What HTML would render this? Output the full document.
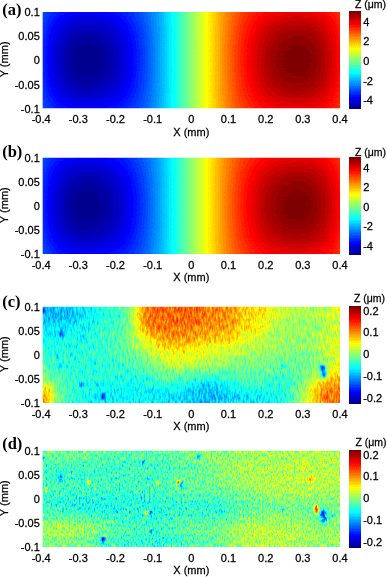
<!DOCTYPE html><html><head><meta charset="utf-8"><title>figure</title><style>html,body{margin:0;padding:0;background:#fff;width:387px;height:577px;overflow:hidden}svg{position:absolute;left:0;top:0;display:block;filter:blur(0.35px)}text{font-family:"Liberation Sans",Arial,sans-serif;fill:#000;stroke:#000;stroke-width:0.25px}.lab{font-family:"Liberation Serif","Times New Roman",serif;font-weight:bold;stroke:none}</style></head><body>
<svg width="387" height="577" viewBox="0 0 387 577">
<defs><filter id="jet" x="0" y="0" width="1" height="1" color-interpolation-filters="sRGB"><feComponentTransfer><feFuncR type="discrete" tableValues="0 0 0 0 0 0 0 0 0 0 0 0 0 0 0 0 0 0 0 0 0 0 0 0 0.0625 0.125 0.188 0.25 0.312 0.375 0.438 0.5 0.562 0.625 0.688 0.75 0.812 0.875 0.938 1 1 1 1 1 1 1 1 1 1 1 1 1 1 1 1 1 0.938 0.875 0.812 0.75 0.688 0.625 0.562 0.5"/><feFuncG type="discrete" tableValues="0 0 0 0 0 0 0 0 0.0625 0.125 0.188 0.25 0.312 0.375 0.438 0.5 0.562 0.625 0.688 0.75 0.812 0.875 0.938 1 1 1 1 1 1 1 1 1 1 1 1 1 1 1 1 1 0.938 0.875 0.812 0.75 0.688 0.625 0.562 0.5 0.438 0.375 0.312 0.25 0.188 0.125 0.0625 0 0 0 0 0 0 0 0 0"/><feFuncB type="discrete" tableValues="0.562 0.625 0.688 0.75 0.812 0.875 0.938 1 1 1 1 1 1 1 1 1 1 1 1 1 1 1 1 1 0.938 0.875 0.812 0.75 0.688 0.625 0.562 0.5 0.438 0.375 0.312 0.25 0.188 0.125 0.0625 0 0 0 0 0 0 0 0 0 0 0 0 0 0 0 0 0 0 0 0 0 0 0 0 0"/><feFuncA type="linear" slope="0" intercept="1"/></feComponentTransfer></filter><filter id="vb" color-interpolation-filters="sRGB"><feGaussianBlur stdDeviation="0.6 1.2"/></filter><filter id="sb" x="-50%" y="-50%" width="200%" height="200%" color-interpolation-filters="sRGB"><feGaussianBlur stdDeviation="0.9"/></filter><filter id="bb" x="-50%" y="-50%" width="200%" height="200%" color-interpolation-filters="sRGB"><feGaussianBlur stdDeviation="2.2"/></filter><filter id="bb4" x="-50%" y="-50%" width="200%" height="200%" color-interpolation-filters="sRGB"><feGaussianBlur stdDeviation="3.5 5"/></filter><filter id="nc" color-interpolation-filters="sRGB"><feTurbulence type="fractalNoise" baseFrequency="0.5 0.16" numOctaves="2" seed="7" result="tn"/><feColorMatrix in="tn" values="1 0 0 0 0 1 0 0 0 0 1 0 0 0 0 0 0 0 0 1" result="nz"/><feComposite in="SourceGraphic" in2="nz" operator="arithmetic" k1="0" k2="1" k3="0.260" k4="-0.130"/><feComponentTransfer><feFuncR type="discrete" tableValues="0 0 0 0 0 0 0 0 0 0 0 0 0 0 0 0 0 0 0 0 0 0 0 0 0.0625 0.125 0.188 0.25 0.312 0.375 0.438 0.5 0.562 0.625 0.688 0.75 0.812 0.875 0.938 1 1 1 1 1 1 1 1 1 1 1 1 1 1 1 1 1 0.938 0.875 0.812 0.75 0.688 0.625 0.562 0.5"/><feFuncG type="discrete" tableValues="0 0 0 0 0 0 0 0 0.0625 0.125 0.188 0.25 0.312 0.375 0.438 0.5 0.562 0.625 0.688 0.75 0.812 0.875 0.938 1 1 1 1 1 1 1 1 1 1 1 1 1 1 1 1 1 0.938 0.875 0.812 0.75 0.688 0.625 0.562 0.5 0.438 0.375 0.312 0.25 0.188 0.125 0.0625 0 0 0 0 0 0 0 0 0"/><feFuncB type="discrete" tableValues="0.562 0.625 0.688 0.75 0.812 0.875 0.938 1 1 1 1 1 1 1 1 1 1 1 1 1 1 1 1 1 0.938 0.875 0.812 0.75 0.688 0.625 0.562 0.5 0.438 0.375 0.312 0.25 0.188 0.125 0.0625 0 0 0 0 0 0 0 0 0 0 0 0 0 0 0 0 0 0 0 0 0 0 0 0 0"/><feFuncA type="linear" slope="0" intercept="1"/></feComponentTransfer></filter><filter id="nd" color-interpolation-filters="sRGB"><feTurbulence type="fractalNoise" baseFrequency="0.6 0.3" numOctaves="2" seed="11" result="tn"/><feColorMatrix in="tn" values="1 0 0 0 0 1 0 0 0 0 1 0 0 0 0 0 0 0 0 1" result="nz"/><feComposite in="SourceGraphic" in2="nz" operator="arithmetic" k1="0" k2="1" k3="0.400" k4="-0.200"/><feComponentTransfer><feFuncR type="discrete" tableValues="0 0 0 0 0 0 0 0 0 0 0 0 0 0 0 0 0 0 0 0 0 0 0 0 0.0625 0.125 0.188 0.25 0.312 0.375 0.438 0.5 0.562 0.625 0.688 0.75 0.812 0.875 0.938 1 1 1 1 1 1 1 1 1 1 1 1 1 1 1 1 1 0.938 0.875 0.812 0.75 0.688 0.625 0.562 0.5"/><feFuncG type="discrete" tableValues="0 0 0 0 0 0 0 0 0.0625 0.125 0.188 0.25 0.312 0.375 0.438 0.5 0.562 0.625 0.688 0.75 0.812 0.875 0.938 1 1 1 1 1 1 1 1 1 1 1 1 1 1 1 1 1 0.938 0.875 0.812 0.75 0.688 0.625 0.562 0.5 0.438 0.375 0.312 0.25 0.188 0.125 0.0625 0 0 0 0 0 0 0 0 0"/><feFuncB type="discrete" tableValues="0.562 0.625 0.688 0.75 0.812 0.875 0.938 1 1 1 1 1 1 1 1 1 1 1 1 1 1 1 1 1 0.938 0.875 0.812 0.75 0.688 0.625 0.562 0.5 0.438 0.375 0.312 0.25 0.188 0.125 0.0625 0 0 0 0 0 0 0 0 0 0 0 0 0 0 0 0 0 0 0 0 0 0 0 0 0"/><feFuncA type="linear" slope="0" intercept="1"/></feComponentTransfer></filter><linearGradient id="cbar" x1="0" y1="0" x2="0" y2="1"><stop offset="0" stop-color="#fff"/><stop offset="1" stop-color="#000"/></linearGradient><linearGradient id="a0"><stop offset="0.000" stop-color="#373737"/><stop offset="0.032" stop-color="#2e2e2e"/><stop offset="0.065" stop-color="#282828"/><stop offset="0.097" stop-color="#252525"/><stop offset="0.129" stop-color="#242424"/><stop offset="0.161" stop-color="#242424"/><stop offset="0.194" stop-color="#242424"/><stop offset="0.226" stop-color="#252525"/><stop offset="0.258" stop-color="#272727"/><stop offset="0.290" stop-color="#2b2b2b"/><stop offset="0.323" stop-color="#313131"/><stop offset="0.355" stop-color="#3a3a3a"/><stop offset="0.387" stop-color="#464646"/><stop offset="0.419" stop-color="#545454"/><stop offset="0.452" stop-color="#656565"/><stop offset="0.484" stop-color="#787878"/><stop offset="0.516" stop-color="#8a8a8a"/><stop offset="0.548" stop-color="#9c9c9c"/><stop offset="0.581" stop-color="#acacac"/><stop offset="0.613" stop-color="#bababa"/><stop offset="0.645" stop-color="#c5c5c5"/><stop offset="0.677" stop-color="#cecece"/><stop offset="0.710" stop-color="#d4d4d4"/><stop offset="0.742" stop-color="#d8d8d8"/><stop offset="0.774" stop-color="#dadada"/><stop offset="0.806" stop-color="#dbdbdb"/><stop offset="0.839" stop-color="#dbdbdb"/><stop offset="0.871" stop-color="#dbdbdb"/><stop offset="0.903" stop-color="#dadada"/><stop offset="0.935" stop-color="#d8d8d8"/><stop offset="0.968" stop-color="#d3d3d3"/><stop offset="1.000" stop-color="#cbcbcb"/></linearGradient><linearGradient id="a1"><stop offset="0.000" stop-color="#363636"/><stop offset="0.032" stop-color="#2c2c2c"/><stop offset="0.065" stop-color="#262626"/><stop offset="0.097" stop-color="#222222"/><stop offset="0.129" stop-color="#212121"/><stop offset="0.161" stop-color="#202020"/><stop offset="0.194" stop-color="#212121"/><stop offset="0.226" stop-color="#222222"/><stop offset="0.258" stop-color="#252525"/><stop offset="0.290" stop-color="#292929"/><stop offset="0.323" stop-color="#303030"/><stop offset="0.355" stop-color="#393939"/><stop offset="0.387" stop-color="#454545"/><stop offset="0.419" stop-color="#545454"/><stop offset="0.452" stop-color="#656565"/><stop offset="0.484" stop-color="#787878"/><stop offset="0.516" stop-color="#8a8a8a"/><stop offset="0.548" stop-color="#9c9c9c"/><stop offset="0.581" stop-color="#acacac"/><stop offset="0.613" stop-color="#bababa"/><stop offset="0.645" stop-color="#c6c6c6"/><stop offset="0.677" stop-color="#cfcfcf"/><stop offset="0.710" stop-color="#d5d5d5"/><stop offset="0.742" stop-color="#dadada"/><stop offset="0.774" stop-color="#dddddd"/><stop offset="0.806" stop-color="#dedede"/><stop offset="0.839" stop-color="#dfdfdf"/><stop offset="0.871" stop-color="#dfdfdf"/><stop offset="0.903" stop-color="#dddddd"/><stop offset="0.935" stop-color="#dadada"/><stop offset="0.968" stop-color="#d5d5d5"/><stop offset="1.000" stop-color="#cccccc"/></linearGradient><linearGradient id="a2"><stop offset="0.000" stop-color="#353535"/><stop offset="0.032" stop-color="#2b2b2b"/><stop offset="0.065" stop-color="#242424"/><stop offset="0.097" stop-color="#202020"/><stop offset="0.129" stop-color="#1e1e1e"/><stop offset="0.161" stop-color="#1d1d1d"/><stop offset="0.194" stop-color="#1e1e1e"/><stop offset="0.226" stop-color="#1f1f1f"/><stop offset="0.258" stop-color="#232323"/><stop offset="0.290" stop-color="#272727"/><stop offset="0.323" stop-color="#2f2f2f"/><stop offset="0.355" stop-color="#393939"/><stop offset="0.387" stop-color="#454545"/><stop offset="0.419" stop-color="#545454"/><stop offset="0.452" stop-color="#656565"/><stop offset="0.484" stop-color="#787878"/><stop offset="0.516" stop-color="#8a8a8a"/><stop offset="0.548" stop-color="#9c9c9c"/><stop offset="0.581" stop-color="#acacac"/><stop offset="0.613" stop-color="#bababa"/><stop offset="0.645" stop-color="#c6c6c6"/><stop offset="0.677" stop-color="#d0d0d0"/><stop offset="0.710" stop-color="#d7d7d7"/><stop offset="0.742" stop-color="#dcdcdc"/><stop offset="0.774" stop-color="#dfdfdf"/><stop offset="0.806" stop-color="#e1e1e1"/><stop offset="0.839" stop-color="#e2e2e2"/><stop offset="0.871" stop-color="#e2e2e2"/><stop offset="0.903" stop-color="#e0e0e0"/><stop offset="0.935" stop-color="#dddddd"/><stop offset="0.968" stop-color="#d6d6d6"/><stop offset="1.000" stop-color="#cccccc"/></linearGradient><linearGradient id="a3"><stop offset="0.000" stop-color="#353535"/><stop offset="0.032" stop-color="#292929"/><stop offset="0.065" stop-color="#222222"/><stop offset="0.097" stop-color="#1d1d1d"/><stop offset="0.129" stop-color="#1b1b1b"/><stop offset="0.161" stop-color="#1a1a1a"/><stop offset="0.194" stop-color="#1b1b1b"/><stop offset="0.226" stop-color="#1d1d1d"/><stop offset="0.258" stop-color="#202020"/><stop offset="0.290" stop-color="#262626"/><stop offset="0.323" stop-color="#2e2e2e"/><stop offset="0.355" stop-color="#383838"/><stop offset="0.387" stop-color="#454545"/><stop offset="0.419" stop-color="#545454"/><stop offset="0.452" stop-color="#656565"/><stop offset="0.484" stop-color="#787878"/><stop offset="0.516" stop-color="#8a8a8a"/><stop offset="0.548" stop-color="#9c9c9c"/><stop offset="0.581" stop-color="#acacac"/><stop offset="0.613" stop-color="#bbbbbb"/><stop offset="0.645" stop-color="#c7c7c7"/><stop offset="0.677" stop-color="#d1d1d1"/><stop offset="0.710" stop-color="#d9d9d9"/><stop offset="0.742" stop-color="#dedede"/><stop offset="0.774" stop-color="#e2e2e2"/><stop offset="0.806" stop-color="#e4e4e4"/><stop offset="0.839" stop-color="#e5e5e5"/><stop offset="0.871" stop-color="#e5e5e5"/><stop offset="0.903" stop-color="#e3e3e3"/><stop offset="0.935" stop-color="#dfdfdf"/><stop offset="0.968" stop-color="#d8d8d8"/><stop offset="1.000" stop-color="#cdcdcd"/></linearGradient><linearGradient id="a4"><stop offset="0.000" stop-color="#343434"/><stop offset="0.032" stop-color="#282828"/><stop offset="0.065" stop-color="#202020"/><stop offset="0.097" stop-color="#1b1b1b"/><stop offset="0.129" stop-color="#181818"/><stop offset="0.161" stop-color="#171717"/><stop offset="0.194" stop-color="#181818"/><stop offset="0.226" stop-color="#1b1b1b"/><stop offset="0.258" stop-color="#1e1e1e"/><stop offset="0.290" stop-color="#242424"/><stop offset="0.323" stop-color="#2d2d2d"/><stop offset="0.355" stop-color="#373737"/><stop offset="0.387" stop-color="#444444"/><stop offset="0.419" stop-color="#545454"/><stop offset="0.452" stop-color="#656565"/><stop offset="0.484" stop-color="#787878"/><stop offset="0.516" stop-color="#8a8a8a"/><stop offset="0.548" stop-color="#9c9c9c"/><stop offset="0.581" stop-color="#acacac"/><stop offset="0.613" stop-color="#bbbbbb"/><stop offset="0.645" stop-color="#c8c8c8"/><stop offset="0.677" stop-color="#d2d2d2"/><stop offset="0.710" stop-color="#dadada"/><stop offset="0.742" stop-color="#e0e0e0"/><stop offset="0.774" stop-color="#e4e4e4"/><stop offset="0.806" stop-color="#e6e6e6"/><stop offset="0.839" stop-color="#e8e8e8"/><stop offset="0.871" stop-color="#e7e7e7"/><stop offset="0.903" stop-color="#e5e5e5"/><stop offset="0.935" stop-color="#e1e1e1"/><stop offset="0.968" stop-color="#d9d9d9"/><stop offset="1.000" stop-color="#cecece"/></linearGradient><linearGradient id="a5"><stop offset="0.000" stop-color="#333333"/><stop offset="0.032" stop-color="#272727"/><stop offset="0.065" stop-color="#1e1e1e"/><stop offset="0.097" stop-color="#181818"/><stop offset="0.129" stop-color="#151515"/><stop offset="0.161" stop-color="#151515"/><stop offset="0.194" stop-color="#161616"/><stop offset="0.226" stop-color="#181818"/><stop offset="0.258" stop-color="#1d1d1d"/><stop offset="0.290" stop-color="#232323"/><stop offset="0.323" stop-color="#2c2c2c"/><stop offset="0.355" stop-color="#373737"/><stop offset="0.387" stop-color="#444444"/><stop offset="0.419" stop-color="#545454"/><stop offset="0.452" stop-color="#656565"/><stop offset="0.484" stop-color="#787878"/><stop offset="0.516" stop-color="#8a8a8a"/><stop offset="0.548" stop-color="#9c9c9c"/><stop offset="0.581" stop-color="#acacac"/><stop offset="0.613" stop-color="#bbbbbb"/><stop offset="0.645" stop-color="#c8c8c8"/><stop offset="0.677" stop-color="#d3d3d3"/><stop offset="0.710" stop-color="#dbdbdb"/><stop offset="0.742" stop-color="#e2e2e2"/><stop offset="0.774" stop-color="#e6e6e6"/><stop offset="0.806" stop-color="#e9e9e9"/><stop offset="0.839" stop-color="#eaeaea"/><stop offset="0.871" stop-color="#eaeaea"/><stop offset="0.903" stop-color="#e8e8e8"/><stop offset="0.935" stop-color="#e3e3e3"/><stop offset="0.968" stop-color="#dbdbdb"/><stop offset="1.000" stop-color="#cfcfcf"/></linearGradient><linearGradient id="a6"><stop offset="0.000" stop-color="#333333"/><stop offset="0.032" stop-color="#262626"/><stop offset="0.065" stop-color="#1c1c1c"/><stop offset="0.097" stop-color="#161616"/><stop offset="0.129" stop-color="#131313"/><stop offset="0.161" stop-color="#121212"/><stop offset="0.194" stop-color="#131313"/><stop offset="0.226" stop-color="#161616"/><stop offset="0.258" stop-color="#1b1b1b"/><stop offset="0.290" stop-color="#222222"/><stop offset="0.323" stop-color="#2b2b2b"/><stop offset="0.355" stop-color="#363636"/><stop offset="0.387" stop-color="#444444"/><stop offset="0.419" stop-color="#545454"/><stop offset="0.452" stop-color="#656565"/><stop offset="0.484" stop-color="#787878"/><stop offset="0.516" stop-color="#8a8a8a"/><stop offset="0.548" stop-color="#9c9c9c"/><stop offset="0.581" stop-color="#adadad"/><stop offset="0.613" stop-color="#bcbcbc"/><stop offset="0.645" stop-color="#c9c9c9"/><stop offset="0.677" stop-color="#d4d4d4"/><stop offset="0.710" stop-color="#dddddd"/><stop offset="0.742" stop-color="#e3e3e3"/><stop offset="0.774" stop-color="#e8e8e8"/><stop offset="0.806" stop-color="#ebebeb"/><stop offset="0.839" stop-color="#ededed"/><stop offset="0.871" stop-color="#ececec"/><stop offset="0.903" stop-color="#eaeaea"/><stop offset="0.935" stop-color="#e4e4e4"/><stop offset="0.968" stop-color="#dcdcdc"/><stop offset="1.000" stop-color="#d0d0d0"/></linearGradient><linearGradient id="a7"><stop offset="0.000" stop-color="#323232"/><stop offset="0.032" stop-color="#252525"/><stop offset="0.065" stop-color="#1b1b1b"/><stop offset="0.097" stop-color="#141414"/><stop offset="0.129" stop-color="#111111"/><stop offset="0.161" stop-color="#101010"/><stop offset="0.194" stop-color="#111111"/><stop offset="0.226" stop-color="#141414"/><stop offset="0.258" stop-color="#191919"/><stop offset="0.290" stop-color="#202020"/><stop offset="0.323" stop-color="#2a2a2a"/><stop offset="0.355" stop-color="#363636"/><stop offset="0.387" stop-color="#444444"/><stop offset="0.419" stop-color="#545454"/><stop offset="0.452" stop-color="#656565"/><stop offset="0.484" stop-color="#787878"/><stop offset="0.516" stop-color="#8a8a8a"/><stop offset="0.548" stop-color="#9c9c9c"/><stop offset="0.581" stop-color="#adadad"/><stop offset="0.613" stop-color="#bcbcbc"/><stop offset="0.645" stop-color="#c9c9c9"/><stop offset="0.677" stop-color="#d5d5d5"/><stop offset="0.710" stop-color="#dedede"/><stop offset="0.742" stop-color="#e5e5e5"/><stop offset="0.774" stop-color="#eaeaea"/><stop offset="0.806" stop-color="#ededed"/><stop offset="0.839" stop-color="#efefef"/><stop offset="0.871" stop-color="#efefef"/><stop offset="0.903" stop-color="#ececec"/><stop offset="0.935" stop-color="#e6e6e6"/><stop offset="0.968" stop-color="#dddddd"/><stop offset="1.000" stop-color="#d1d1d1"/></linearGradient><linearGradient id="a8"><stop offset="0.000" stop-color="#313131"/><stop offset="0.032" stop-color="#242424"/><stop offset="0.065" stop-color="#191919"/><stop offset="0.097" stop-color="#121212"/><stop offset="0.129" stop-color="#0f0f0f"/><stop offset="0.161" stop-color="#0e0e0e"/><stop offset="0.194" stop-color="#0f0f0f"/><stop offset="0.226" stop-color="#121212"/><stop offset="0.258" stop-color="#181818"/><stop offset="0.290" stop-color="#1f1f1f"/><stop offset="0.323" stop-color="#292929"/><stop offset="0.355" stop-color="#353535"/><stop offset="0.387" stop-color="#434343"/><stop offset="0.419" stop-color="#535353"/><stop offset="0.452" stop-color="#656565"/><stop offset="0.484" stop-color="#787878"/><stop offset="0.516" stop-color="#8a8a8a"/><stop offset="0.548" stop-color="#9c9c9c"/><stop offset="0.581" stop-color="#adadad"/><stop offset="0.613" stop-color="#bcbcbc"/><stop offset="0.645" stop-color="#cacaca"/><stop offset="0.677" stop-color="#d6d6d6"/><stop offset="0.710" stop-color="#dfdfdf"/><stop offset="0.742" stop-color="#e7e7e7"/><stop offset="0.774" stop-color="#ececec"/><stop offset="0.806" stop-color="#efefef"/><stop offset="0.839" stop-color="#f1f1f1"/><stop offset="0.871" stop-color="#f1f1f1"/><stop offset="0.903" stop-color="#eeeeee"/><stop offset="0.935" stop-color="#e8e8e8"/><stop offset="0.968" stop-color="#dedede"/><stop offset="1.000" stop-color="#d1d1d1"/></linearGradient><linearGradient id="a9"><stop offset="0.000" stop-color="#313131"/><stop offset="0.032" stop-color="#232323"/><stop offset="0.065" stop-color="#181818"/><stop offset="0.097" stop-color="#111111"/><stop offset="0.129" stop-color="#0d0d0d"/><stop offset="0.161" stop-color="#0c0c0c"/><stop offset="0.194" stop-color="#0d0d0d"/><stop offset="0.226" stop-color="#111111"/><stop offset="0.258" stop-color="#161616"/><stop offset="0.290" stop-color="#1e1e1e"/><stop offset="0.323" stop-color="#282828"/><stop offset="0.355" stop-color="#353535"/><stop offset="0.387" stop-color="#434343"/><stop offset="0.419" stop-color="#535353"/><stop offset="0.452" stop-color="#656565"/><stop offset="0.484" stop-color="#787878"/><stop offset="0.516" stop-color="#8a8a8a"/><stop offset="0.548" stop-color="#9c9c9c"/><stop offset="0.581" stop-color="#adadad"/><stop offset="0.613" stop-color="#bcbcbc"/><stop offset="0.645" stop-color="#cacaca"/><stop offset="0.677" stop-color="#d6d6d6"/><stop offset="0.710" stop-color="#e0e0e0"/><stop offset="0.742" stop-color="#e8e8e8"/><stop offset="0.774" stop-color="#eeeeee"/><stop offset="0.806" stop-color="#f1f1f1"/><stop offset="0.839" stop-color="#f3f3f3"/><stop offset="0.871" stop-color="#f3f3f3"/><stop offset="0.903" stop-color="#efefef"/><stop offset="0.935" stop-color="#e9e9e9"/><stop offset="0.968" stop-color="#dfdfdf"/><stop offset="1.000" stop-color="#d2d2d2"/></linearGradient><linearGradient id="a10"><stop offset="0.000" stop-color="#303030"/><stop offset="0.032" stop-color="#222222"/><stop offset="0.065" stop-color="#171717"/><stop offset="0.097" stop-color="#0f0f0f"/><stop offset="0.129" stop-color="#0b0b0b"/><stop offset="0.161" stop-color="#0a0a0a"/><stop offset="0.194" stop-color="#0b0b0b"/><stop offset="0.226" stop-color="#0f0f0f"/><stop offset="0.258" stop-color="#151515"/><stop offset="0.290" stop-color="#1d1d1d"/><stop offset="0.323" stop-color="#282828"/><stop offset="0.355" stop-color="#343434"/><stop offset="0.387" stop-color="#434343"/><stop offset="0.419" stop-color="#535353"/><stop offset="0.452" stop-color="#656565"/><stop offset="0.484" stop-color="#787878"/><stop offset="0.516" stop-color="#8a8a8a"/><stop offset="0.548" stop-color="#9c9c9c"/><stop offset="0.581" stop-color="#adadad"/><stop offset="0.613" stop-color="#bdbdbd"/><stop offset="0.645" stop-color="#cbcbcb"/><stop offset="0.677" stop-color="#d7d7d7"/><stop offset="0.710" stop-color="#e1e1e1"/><stop offset="0.742" stop-color="#e9e9e9"/><stop offset="0.774" stop-color="#efefef"/><stop offset="0.806" stop-color="#f3f3f3"/><stop offset="0.839" stop-color="#f5f5f5"/><stop offset="0.871" stop-color="#f5f5f5"/><stop offset="0.903" stop-color="#f1f1f1"/><stop offset="0.935" stop-color="#eaeaea"/><stop offset="0.968" stop-color="#e0e0e0"/><stop offset="1.000" stop-color="#d2d2d2"/></linearGradient><linearGradient id="a11"><stop offset="0.000" stop-color="#303030"/><stop offset="0.032" stop-color="#212121"/><stop offset="0.065" stop-color="#161616"/><stop offset="0.097" stop-color="#0e0e0e"/><stop offset="0.129" stop-color="#090909"/><stop offset="0.161" stop-color="#080808"/><stop offset="0.194" stop-color="#0a0a0a"/><stop offset="0.226" stop-color="#0e0e0e"/><stop offset="0.258" stop-color="#141414"/><stop offset="0.290" stop-color="#1c1c1c"/><stop offset="0.323" stop-color="#272727"/><stop offset="0.355" stop-color="#343434"/><stop offset="0.387" stop-color="#434343"/><stop offset="0.419" stop-color="#535353"/><stop offset="0.452" stop-color="#656565"/><stop offset="0.484" stop-color="#787878"/><stop offset="0.516" stop-color="#8a8a8a"/><stop offset="0.548" stop-color="#9c9c9c"/><stop offset="0.581" stop-color="#adadad"/><stop offset="0.613" stop-color="#bdbdbd"/><stop offset="0.645" stop-color="#cbcbcb"/><stop offset="0.677" stop-color="#d8d8d8"/><stop offset="0.710" stop-color="#e2e2e2"/><stop offset="0.742" stop-color="#eaeaea"/><stop offset="0.774" stop-color="#f1f1f1"/><stop offset="0.806" stop-color="#f5f5f5"/><stop offset="0.839" stop-color="#f7f7f7"/><stop offset="0.871" stop-color="#f6f6f6"/><stop offset="0.903" stop-color="#f3f3f3"/><stop offset="0.935" stop-color="#ebebeb"/><stop offset="0.968" stop-color="#e1e1e1"/><stop offset="1.000" stop-color="#d3d3d3"/></linearGradient><linearGradient id="a12"><stop offset="0.000" stop-color="#303030"/><stop offset="0.032" stop-color="#202020"/><stop offset="0.065" stop-color="#151515"/><stop offset="0.097" stop-color="#0c0c0c"/><stop offset="0.129" stop-color="#080808"/><stop offset="0.161" stop-color="#070707"/><stop offset="0.194" stop-color="#080808"/><stop offset="0.226" stop-color="#0c0c0c"/><stop offset="0.258" stop-color="#131313"/><stop offset="0.290" stop-color="#1b1b1b"/><stop offset="0.323" stop-color="#262626"/><stop offset="0.355" stop-color="#333333"/><stop offset="0.387" stop-color="#424242"/><stop offset="0.419" stop-color="#535353"/><stop offset="0.452" stop-color="#656565"/><stop offset="0.484" stop-color="#787878"/><stop offset="0.516" stop-color="#8a8a8a"/><stop offset="0.548" stop-color="#9c9c9c"/><stop offset="0.581" stop-color="#adadad"/><stop offset="0.613" stop-color="#bdbdbd"/><stop offset="0.645" stop-color="#cccccc"/><stop offset="0.677" stop-color="#d8d8d8"/><stop offset="0.710" stop-color="#e3e3e3"/><stop offset="0.742" stop-color="#ebebeb"/><stop offset="0.774" stop-color="#f2f2f2"/><stop offset="0.806" stop-color="#f6f6f6"/><stop offset="0.839" stop-color="#f8f8f8"/><stop offset="0.871" stop-color="#f8f8f8"/><stop offset="0.903" stop-color="#f4f4f4"/><stop offset="0.935" stop-color="#ededed"/><stop offset="0.968" stop-color="#e2e2e2"/><stop offset="1.000" stop-color="#d3d3d3"/></linearGradient><linearGradient id="a13"><stop offset="0.000" stop-color="#2f2f2f"/><stop offset="0.032" stop-color="#202020"/><stop offset="0.065" stop-color="#141414"/><stop offset="0.097" stop-color="#0b0b0b"/><stop offset="0.129" stop-color="#060606"/><stop offset="0.161" stop-color="#050505"/><stop offset="0.194" stop-color="#070707"/><stop offset="0.226" stop-color="#0b0b0b"/><stop offset="0.258" stop-color="#121212"/><stop offset="0.290" stop-color="#1b1b1b"/><stop offset="0.323" stop-color="#262626"/><stop offset="0.355" stop-color="#333333"/><stop offset="0.387" stop-color="#424242"/><stop offset="0.419" stop-color="#535353"/><stop offset="0.452" stop-color="#656565"/><stop offset="0.484" stop-color="#787878"/><stop offset="0.516" stop-color="#8a8a8a"/><stop offset="0.548" stop-color="#9c9c9c"/><stop offset="0.581" stop-color="#adadad"/><stop offset="0.613" stop-color="#bdbdbd"/><stop offset="0.645" stop-color="#cccccc"/><stop offset="0.677" stop-color="#d9d9d9"/><stop offset="0.710" stop-color="#e4e4e4"/><stop offset="0.742" stop-color="#ececec"/><stop offset="0.774" stop-color="#f3f3f3"/><stop offset="0.806" stop-color="#f7f7f7"/><stop offset="0.839" stop-color="#fafafa"/><stop offset="0.871" stop-color="#f9f9f9"/><stop offset="0.903" stop-color="#f5f5f5"/><stop offset="0.935" stop-color="#eeeeee"/><stop offset="0.968" stop-color="#e2e2e2"/><stop offset="1.000" stop-color="#d4d4d4"/></linearGradient><linearGradient id="a14"><stop offset="0.000" stop-color="#2f2f2f"/><stop offset="0.032" stop-color="#1f1f1f"/><stop offset="0.065" stop-color="#131313"/><stop offset="0.097" stop-color="#0a0a0a"/><stop offset="0.129" stop-color="#050505"/><stop offset="0.161" stop-color="#040404"/><stop offset="0.194" stop-color="#060606"/><stop offset="0.226" stop-color="#0a0a0a"/><stop offset="0.258" stop-color="#111111"/><stop offset="0.290" stop-color="#1a1a1a"/><stop offset="0.323" stop-color="#252525"/><stop offset="0.355" stop-color="#333333"/><stop offset="0.387" stop-color="#424242"/><stop offset="0.419" stop-color="#535353"/><stop offset="0.452" stop-color="#656565"/><stop offset="0.484" stop-color="#787878"/><stop offset="0.516" stop-color="#8a8a8a"/><stop offset="0.548" stop-color="#9c9c9c"/><stop offset="0.581" stop-color="#adadad"/><stop offset="0.613" stop-color="#bdbdbd"/><stop offset="0.645" stop-color="#cccccc"/><stop offset="0.677" stop-color="#d9d9d9"/><stop offset="0.710" stop-color="#e4e4e4"/><stop offset="0.742" stop-color="#ededed"/><stop offset="0.774" stop-color="#f4f4f4"/><stop offset="0.806" stop-color="#f9f9f9"/><stop offset="0.839" stop-color="#fbfbfb"/><stop offset="0.871" stop-color="#fafafa"/><stop offset="0.903" stop-color="#f6f6f6"/><stop offset="0.935" stop-color="#eeeeee"/><stop offset="0.968" stop-color="#e3e3e3"/><stop offset="1.000" stop-color="#d4d4d4"/></linearGradient><linearGradient id="a15"><stop offset="0.000" stop-color="#2f2f2f"/><stop offset="0.032" stop-color="#1f1f1f"/><stop offset="0.065" stop-color="#121212"/><stop offset="0.097" stop-color="#090909"/><stop offset="0.129" stop-color="#040404"/><stop offset="0.161" stop-color="#030303"/><stop offset="0.194" stop-color="#050505"/><stop offset="0.226" stop-color="#090909"/><stop offset="0.258" stop-color="#101010"/><stop offset="0.290" stop-color="#191919"/><stop offset="0.323" stop-color="#252525"/><stop offset="0.355" stop-color="#333333"/><stop offset="0.387" stop-color="#424242"/><stop offset="0.419" stop-color="#535353"/><stop offset="0.452" stop-color="#656565"/><stop offset="0.484" stop-color="#787878"/><stop offset="0.516" stop-color="#8a8a8a"/><stop offset="0.548" stop-color="#9c9c9c"/><stop offset="0.581" stop-color="#adadad"/><stop offset="0.613" stop-color="#bebebe"/><stop offset="0.645" stop-color="#cccccc"/><stop offset="0.677" stop-color="#dadada"/><stop offset="0.710" stop-color="#e5e5e5"/><stop offset="0.742" stop-color="#eeeeee"/><stop offset="0.774" stop-color="#f5f5f5"/><stop offset="0.806" stop-color="#fafafa"/><stop offset="0.839" stop-color="#fcfcfc"/><stop offset="0.871" stop-color="#fbfbfb"/><stop offset="0.903" stop-color="#f7f7f7"/><stop offset="0.935" stop-color="#efefef"/><stop offset="0.968" stop-color="#e4e4e4"/><stop offset="1.000" stop-color="#d4d4d4"/></linearGradient><linearGradient id="a16"><stop offset="0.000" stop-color="#2e2e2e"/><stop offset="0.032" stop-color="#1e1e1e"/><stop offset="0.065" stop-color="#121212"/><stop offset="0.097" stop-color="#090909"/><stop offset="0.129" stop-color="#030303"/><stop offset="0.161" stop-color="#020202"/><stop offset="0.194" stop-color="#040404"/><stop offset="0.226" stop-color="#080808"/><stop offset="0.258" stop-color="#0f0f0f"/><stop offset="0.290" stop-color="#191919"/><stop offset="0.323" stop-color="#252525"/><stop offset="0.355" stop-color="#323232"/><stop offset="0.387" stop-color="#424242"/><stop offset="0.419" stop-color="#535353"/><stop offset="0.452" stop-color="#656565"/><stop offset="0.484" stop-color="#787878"/><stop offset="0.516" stop-color="#8a8a8a"/><stop offset="0.548" stop-color="#9c9c9c"/><stop offset="0.581" stop-color="#adadad"/><stop offset="0.613" stop-color="#bebebe"/><stop offset="0.645" stop-color="#cdcdcd"/><stop offset="0.677" stop-color="#dadada"/><stop offset="0.710" stop-color="#e5e5e5"/><stop offset="0.742" stop-color="#efefef"/><stop offset="0.774" stop-color="#f6f6f6"/><stop offset="0.806" stop-color="#fafafa"/><stop offset="0.839" stop-color="#fdfdfd"/><stop offset="0.871" stop-color="#fcfcfc"/><stop offset="0.903" stop-color="#f8f8f8"/><stop offset="0.935" stop-color="#f0f0f0"/><stop offset="0.968" stop-color="#e4e4e4"/><stop offset="1.000" stop-color="#d5d5d5"/></linearGradient><linearGradient id="a17"><stop offset="0.000" stop-color="#2e2e2e"/><stop offset="0.032" stop-color="#1e1e1e"/><stop offset="0.065" stop-color="#111111"/><stop offset="0.097" stop-color="#080808"/><stop offset="0.129" stop-color="#030303"/><stop offset="0.161" stop-color="#010101"/><stop offset="0.194" stop-color="#030303"/><stop offset="0.226" stop-color="#080808"/><stop offset="0.258" stop-color="#0f0f0f"/><stop offset="0.290" stop-color="#191919"/><stop offset="0.323" stop-color="#242424"/><stop offset="0.355" stop-color="#323232"/><stop offset="0.387" stop-color="#424242"/><stop offset="0.419" stop-color="#535353"/><stop offset="0.452" stop-color="#656565"/><stop offset="0.484" stop-color="#787878"/><stop offset="0.516" stop-color="#8a8a8a"/><stop offset="0.548" stop-color="#9c9c9c"/><stop offset="0.581" stop-color="#adadad"/><stop offset="0.613" stop-color="#bebebe"/><stop offset="0.645" stop-color="#cdcdcd"/><stop offset="0.677" stop-color="#dadada"/><stop offset="0.710" stop-color="#e6e6e6"/><stop offset="0.742" stop-color="#efefef"/><stop offset="0.774" stop-color="#f6f6f6"/><stop offset="0.806" stop-color="#fbfbfb"/><stop offset="0.839" stop-color="#fdfdfd"/><stop offset="0.871" stop-color="#fdfdfd"/><stop offset="0.903" stop-color="#f9f9f9"/><stop offset="0.935" stop-color="#f0f0f0"/><stop offset="0.968" stop-color="#e4e4e4"/><stop offset="1.000" stop-color="#d5d5d5"/></linearGradient><linearGradient id="a18"><stop offset="0.000" stop-color="#2e2e2e"/><stop offset="0.032" stop-color="#1e1e1e"/><stop offset="0.065" stop-color="#111111"/><stop offset="0.097" stop-color="#080808"/><stop offset="0.129" stop-color="#020202"/><stop offset="0.161" stop-color="#010101"/><stop offset="0.194" stop-color="#030303"/><stop offset="0.226" stop-color="#070707"/><stop offset="0.258" stop-color="#0f0f0f"/><stop offset="0.290" stop-color="#181818"/><stop offset="0.323" stop-color="#242424"/><stop offset="0.355" stop-color="#323232"/><stop offset="0.387" stop-color="#424242"/><stop offset="0.419" stop-color="#535353"/><stop offset="0.452" stop-color="#656565"/><stop offset="0.484" stop-color="#787878"/><stop offset="0.516" stop-color="#8a8a8a"/><stop offset="0.548" stop-color="#9c9c9c"/><stop offset="0.581" stop-color="#adadad"/><stop offset="0.613" stop-color="#bebebe"/><stop offset="0.645" stop-color="#cdcdcd"/><stop offset="0.677" stop-color="#dadada"/><stop offset="0.710" stop-color="#e6e6e6"/><stop offset="0.742" stop-color="#efefef"/><stop offset="0.774" stop-color="#f7f7f7"/><stop offset="0.806" stop-color="#fcfcfc"/><stop offset="0.839" stop-color="#fefefe"/><stop offset="0.871" stop-color="#fefefe"/><stop offset="0.903" stop-color="#f9f9f9"/><stop offset="0.935" stop-color="#f1f1f1"/><stop offset="0.968" stop-color="#e5e5e5"/><stop offset="1.000" stop-color="#d5d5d5"/></linearGradient><linearGradient id="a19"><stop offset="0.000" stop-color="#2e2e2e"/><stop offset="0.032" stop-color="#1e1e1e"/><stop offset="0.065" stop-color="#111111"/><stop offset="0.097" stop-color="#070707"/><stop offset="0.129" stop-color="#020202"/><stop offset="0.161" stop-color="#000000"/><stop offset="0.194" stop-color="#020202"/><stop offset="0.226" stop-color="#070707"/><stop offset="0.258" stop-color="#0e0e0e"/><stop offset="0.290" stop-color="#181818"/><stop offset="0.323" stop-color="#242424"/><stop offset="0.355" stop-color="#323232"/><stop offset="0.387" stop-color="#424242"/><stop offset="0.419" stop-color="#535353"/><stop offset="0.452" stop-color="#656565"/><stop offset="0.484" stop-color="#787878"/><stop offset="0.516" stop-color="#8a8a8a"/><stop offset="0.548" stop-color="#9c9c9c"/><stop offset="0.581" stop-color="#adadad"/><stop offset="0.613" stop-color="#bebebe"/><stop offset="0.645" stop-color="#cdcdcd"/><stop offset="0.677" stop-color="#dadada"/><stop offset="0.710" stop-color="#e6e6e6"/><stop offset="0.742" stop-color="#f0f0f0"/><stop offset="0.774" stop-color="#f7f7f7"/><stop offset="0.806" stop-color="#fcfcfc"/><stop offset="0.839" stop-color="#fefefe"/><stop offset="0.871" stop-color="#fefefe"/><stop offset="0.903" stop-color="#fafafa"/><stop offset="0.935" stop-color="#f1f1f1"/><stop offset="0.968" stop-color="#e5e5e5"/><stop offset="1.000" stop-color="#d5d5d5"/></linearGradient><linearGradient id="a20"><stop offset="0.000" stop-color="#2e2e2e"/><stop offset="0.032" stop-color="#1d1d1d"/><stop offset="0.065" stop-color="#101010"/><stop offset="0.097" stop-color="#070707"/><stop offset="0.129" stop-color="#010101"/><stop offset="0.161" stop-color="#000000"/><stop offset="0.194" stop-color="#020202"/><stop offset="0.226" stop-color="#070707"/><stop offset="0.258" stop-color="#0e0e0e"/><stop offset="0.290" stop-color="#181818"/><stop offset="0.323" stop-color="#242424"/><stop offset="0.355" stop-color="#323232"/><stop offset="0.387" stop-color="#424242"/><stop offset="0.419" stop-color="#535353"/><stop offset="0.452" stop-color="#656565"/><stop offset="0.484" stop-color="#787878"/><stop offset="0.516" stop-color="#8a8a8a"/><stop offset="0.548" stop-color="#9c9c9c"/><stop offset="0.581" stop-color="#adadad"/><stop offset="0.613" stop-color="#bebebe"/><stop offset="0.645" stop-color="#cdcdcd"/><stop offset="0.677" stop-color="#dbdbdb"/><stop offset="0.710" stop-color="#e6e6e6"/><stop offset="0.742" stop-color="#f0f0f0"/><stop offset="0.774" stop-color="#f7f7f7"/><stop offset="0.806" stop-color="#fcfcfc"/><stop offset="0.839" stop-color="#ffffff"/><stop offset="0.871" stop-color="#fefefe"/><stop offset="0.903" stop-color="#fafafa"/><stop offset="0.935" stop-color="#f1f1f1"/><stop offset="0.968" stop-color="#e5e5e5"/><stop offset="1.000" stop-color="#d5d5d5"/></linearGradient><linearGradient id="a21"><stop offset="0.000" stop-color="#2e2e2e"/><stop offset="0.032" stop-color="#1d1d1d"/><stop offset="0.065" stop-color="#101010"/><stop offset="0.097" stop-color="#070707"/><stop offset="0.129" stop-color="#010101"/><stop offset="0.161" stop-color="#000000"/><stop offset="0.194" stop-color="#020202"/><stop offset="0.226" stop-color="#070707"/><stop offset="0.258" stop-color="#0e0e0e"/><stop offset="0.290" stop-color="#181818"/><stop offset="0.323" stop-color="#242424"/><stop offset="0.355" stop-color="#323232"/><stop offset="0.387" stop-color="#424242"/><stop offset="0.419" stop-color="#535353"/><stop offset="0.452" stop-color="#656565"/><stop offset="0.484" stop-color="#787878"/><stop offset="0.516" stop-color="#8a8a8a"/><stop offset="0.548" stop-color="#9c9c9c"/><stop offset="0.581" stop-color="#adadad"/><stop offset="0.613" stop-color="#bebebe"/><stop offset="0.645" stop-color="#cdcdcd"/><stop offset="0.677" stop-color="#dbdbdb"/><stop offset="0.710" stop-color="#e6e6e6"/><stop offset="0.742" stop-color="#f0f0f0"/><stop offset="0.774" stop-color="#f7f7f7"/><stop offset="0.806" stop-color="#fcfcfc"/><stop offset="0.839" stop-color="#ffffff"/><stop offset="0.871" stop-color="#fefefe"/><stop offset="0.903" stop-color="#fafafa"/><stop offset="0.935" stop-color="#f1f1f1"/><stop offset="0.968" stop-color="#e5e5e5"/><stop offset="1.000" stop-color="#d5d5d5"/></linearGradient><linearGradient id="a22"><stop offset="0.000" stop-color="#2e2e2e"/><stop offset="0.032" stop-color="#1d1d1d"/><stop offset="0.065" stop-color="#101010"/><stop offset="0.097" stop-color="#070707"/><stop offset="0.129" stop-color="#010101"/><stop offset="0.161" stop-color="#000000"/><stop offset="0.194" stop-color="#020202"/><stop offset="0.226" stop-color="#070707"/><stop offset="0.258" stop-color="#0e0e0e"/><stop offset="0.290" stop-color="#181818"/><stop offset="0.323" stop-color="#242424"/><stop offset="0.355" stop-color="#323232"/><stop offset="0.387" stop-color="#424242"/><stop offset="0.419" stop-color="#535353"/><stop offset="0.452" stop-color="#656565"/><stop offset="0.484" stop-color="#787878"/><stop offset="0.516" stop-color="#8a8a8a"/><stop offset="0.548" stop-color="#9c9c9c"/><stop offset="0.581" stop-color="#adadad"/><stop offset="0.613" stop-color="#bebebe"/><stop offset="0.645" stop-color="#cdcdcd"/><stop offset="0.677" stop-color="#dbdbdb"/><stop offset="0.710" stop-color="#e6e6e6"/><stop offset="0.742" stop-color="#f0f0f0"/><stop offset="0.774" stop-color="#f7f7f7"/><stop offset="0.806" stop-color="#fcfcfc"/><stop offset="0.839" stop-color="#ffffff"/><stop offset="0.871" stop-color="#fefefe"/><stop offset="0.903" stop-color="#fafafa"/><stop offset="0.935" stop-color="#f1f1f1"/><stop offset="0.968" stop-color="#e5e5e5"/><stop offset="1.000" stop-color="#d5d5d5"/></linearGradient><linearGradient id="a23"><stop offset="0.000" stop-color="#2e2e2e"/><stop offset="0.032" stop-color="#1e1e1e"/><stop offset="0.065" stop-color="#101010"/><stop offset="0.097" stop-color="#070707"/><stop offset="0.129" stop-color="#020202"/><stop offset="0.161" stop-color="#000000"/><stop offset="0.194" stop-color="#020202"/><stop offset="0.226" stop-color="#070707"/><stop offset="0.258" stop-color="#0e0e0e"/><stop offset="0.290" stop-color="#181818"/><stop offset="0.323" stop-color="#242424"/><stop offset="0.355" stop-color="#323232"/><stop offset="0.387" stop-color="#424242"/><stop offset="0.419" stop-color="#535353"/><stop offset="0.452" stop-color="#656565"/><stop offset="0.484" stop-color="#787878"/><stop offset="0.516" stop-color="#8a8a8a"/><stop offset="0.548" stop-color="#9c9c9c"/><stop offset="0.581" stop-color="#adadad"/><stop offset="0.613" stop-color="#bebebe"/><stop offset="0.645" stop-color="#cdcdcd"/><stop offset="0.677" stop-color="#dbdbdb"/><stop offset="0.710" stop-color="#e6e6e6"/><stop offset="0.742" stop-color="#f0f0f0"/><stop offset="0.774" stop-color="#f7f7f7"/><stop offset="0.806" stop-color="#fcfcfc"/><stop offset="0.839" stop-color="#fefefe"/><stop offset="0.871" stop-color="#fefefe"/><stop offset="0.903" stop-color="#fafafa"/><stop offset="0.935" stop-color="#f1f1f1"/><stop offset="0.968" stop-color="#e5e5e5"/><stop offset="1.000" stop-color="#d5d5d5"/></linearGradient><linearGradient id="a24"><stop offset="0.000" stop-color="#2e2e2e"/><stop offset="0.032" stop-color="#1e1e1e"/><stop offset="0.065" stop-color="#111111"/><stop offset="0.097" stop-color="#070707"/><stop offset="0.129" stop-color="#020202"/><stop offset="0.161" stop-color="#010101"/><stop offset="0.194" stop-color="#030303"/><stop offset="0.226" stop-color="#070707"/><stop offset="0.258" stop-color="#0e0e0e"/><stop offset="0.290" stop-color="#181818"/><stop offset="0.323" stop-color="#242424"/><stop offset="0.355" stop-color="#323232"/><stop offset="0.387" stop-color="#424242"/><stop offset="0.419" stop-color="#535353"/><stop offset="0.452" stop-color="#656565"/><stop offset="0.484" stop-color="#787878"/><stop offset="0.516" stop-color="#8a8a8a"/><stop offset="0.548" stop-color="#9c9c9c"/><stop offset="0.581" stop-color="#adadad"/><stop offset="0.613" stop-color="#bebebe"/><stop offset="0.645" stop-color="#cdcdcd"/><stop offset="0.677" stop-color="#dadada"/><stop offset="0.710" stop-color="#e6e6e6"/><stop offset="0.742" stop-color="#f0f0f0"/><stop offset="0.774" stop-color="#f7f7f7"/><stop offset="0.806" stop-color="#fcfcfc"/><stop offset="0.839" stop-color="#fefefe"/><stop offset="0.871" stop-color="#fefefe"/><stop offset="0.903" stop-color="#f9f9f9"/><stop offset="0.935" stop-color="#f1f1f1"/><stop offset="0.968" stop-color="#e5e5e5"/><stop offset="1.000" stop-color="#d5d5d5"/></linearGradient><linearGradient id="a25"><stop offset="0.000" stop-color="#2e2e2e"/><stop offset="0.032" stop-color="#1e1e1e"/><stop offset="0.065" stop-color="#111111"/><stop offset="0.097" stop-color="#080808"/><stop offset="0.129" stop-color="#030303"/><stop offset="0.161" stop-color="#010101"/><stop offset="0.194" stop-color="#030303"/><stop offset="0.226" stop-color="#080808"/><stop offset="0.258" stop-color="#0f0f0f"/><stop offset="0.290" stop-color="#181818"/><stop offset="0.323" stop-color="#242424"/><stop offset="0.355" stop-color="#323232"/><stop offset="0.387" stop-color="#424242"/><stop offset="0.419" stop-color="#535353"/><stop offset="0.452" stop-color="#656565"/><stop offset="0.484" stop-color="#787878"/><stop offset="0.516" stop-color="#8a8a8a"/><stop offset="0.548" stop-color="#9c9c9c"/><stop offset="0.581" stop-color="#adadad"/><stop offset="0.613" stop-color="#bebebe"/><stop offset="0.645" stop-color="#cdcdcd"/><stop offset="0.677" stop-color="#dadada"/><stop offset="0.710" stop-color="#e6e6e6"/><stop offset="0.742" stop-color="#efefef"/><stop offset="0.774" stop-color="#f6f6f6"/><stop offset="0.806" stop-color="#fbfbfb"/><stop offset="0.839" stop-color="#fefefe"/><stop offset="0.871" stop-color="#fdfdfd"/><stop offset="0.903" stop-color="#f9f9f9"/><stop offset="0.935" stop-color="#f0f0f0"/><stop offset="0.968" stop-color="#e4e4e4"/><stop offset="1.000" stop-color="#d5d5d5"/></linearGradient><linearGradient id="a26"><stop offset="0.000" stop-color="#2e2e2e"/><stop offset="0.032" stop-color="#1e1e1e"/><stop offset="0.065" stop-color="#121212"/><stop offset="0.097" stop-color="#080808"/><stop offset="0.129" stop-color="#030303"/><stop offset="0.161" stop-color="#020202"/><stop offset="0.194" stop-color="#040404"/><stop offset="0.226" stop-color="#080808"/><stop offset="0.258" stop-color="#0f0f0f"/><stop offset="0.290" stop-color="#191919"/><stop offset="0.323" stop-color="#252525"/><stop offset="0.355" stop-color="#323232"/><stop offset="0.387" stop-color="#424242"/><stop offset="0.419" stop-color="#535353"/><stop offset="0.452" stop-color="#656565"/><stop offset="0.484" stop-color="#787878"/><stop offset="0.516" stop-color="#8a8a8a"/><stop offset="0.548" stop-color="#9c9c9c"/><stop offset="0.581" stop-color="#adadad"/><stop offset="0.613" stop-color="#bebebe"/><stop offset="0.645" stop-color="#cdcdcd"/><stop offset="0.677" stop-color="#dadada"/><stop offset="0.710" stop-color="#e5e5e5"/><stop offset="0.742" stop-color="#efefef"/><stop offset="0.774" stop-color="#f6f6f6"/><stop offset="0.806" stop-color="#fbfbfb"/><stop offset="0.839" stop-color="#fdfdfd"/><stop offset="0.871" stop-color="#fcfcfc"/><stop offset="0.903" stop-color="#f8f8f8"/><stop offset="0.935" stop-color="#f0f0f0"/><stop offset="0.968" stop-color="#e4e4e4"/><stop offset="1.000" stop-color="#d5d5d5"/></linearGradient><linearGradient id="a27"><stop offset="0.000" stop-color="#2e2e2e"/><stop offset="0.032" stop-color="#1f1f1f"/><stop offset="0.065" stop-color="#121212"/><stop offset="0.097" stop-color="#090909"/><stop offset="0.129" stop-color="#040404"/><stop offset="0.161" stop-color="#030303"/><stop offset="0.194" stop-color="#050505"/><stop offset="0.226" stop-color="#090909"/><stop offset="0.258" stop-color="#101010"/><stop offset="0.290" stop-color="#191919"/><stop offset="0.323" stop-color="#252525"/><stop offset="0.355" stop-color="#333333"/><stop offset="0.387" stop-color="#424242"/><stop offset="0.419" stop-color="#535353"/><stop offset="0.452" stop-color="#656565"/><stop offset="0.484" stop-color="#787878"/><stop offset="0.516" stop-color="#8a8a8a"/><stop offset="0.548" stop-color="#9c9c9c"/><stop offset="0.581" stop-color="#adadad"/><stop offset="0.613" stop-color="#bebebe"/><stop offset="0.645" stop-color="#cccccc"/><stop offset="0.677" stop-color="#dadada"/><stop offset="0.710" stop-color="#e5e5e5"/><stop offset="0.742" stop-color="#eeeeee"/><stop offset="0.774" stop-color="#f5f5f5"/><stop offset="0.806" stop-color="#fafafa"/><stop offset="0.839" stop-color="#fcfcfc"/><stop offset="0.871" stop-color="#fcfcfc"/><stop offset="0.903" stop-color="#f7f7f7"/><stop offset="0.935" stop-color="#efefef"/><stop offset="0.968" stop-color="#e4e4e4"/><stop offset="1.000" stop-color="#d5d5d5"/></linearGradient><linearGradient id="a28"><stop offset="0.000" stop-color="#2f2f2f"/><stop offset="0.032" stop-color="#1f1f1f"/><stop offset="0.065" stop-color="#131313"/><stop offset="0.097" stop-color="#0a0a0a"/><stop offset="0.129" stop-color="#050505"/><stop offset="0.161" stop-color="#040404"/><stop offset="0.194" stop-color="#060606"/><stop offset="0.226" stop-color="#0a0a0a"/><stop offset="0.258" stop-color="#111111"/><stop offset="0.290" stop-color="#1a1a1a"/><stop offset="0.323" stop-color="#252525"/><stop offset="0.355" stop-color="#333333"/><stop offset="0.387" stop-color="#424242"/><stop offset="0.419" stop-color="#535353"/><stop offset="0.452" stop-color="#656565"/><stop offset="0.484" stop-color="#787878"/><stop offset="0.516" stop-color="#8a8a8a"/><stop offset="0.548" stop-color="#9c9c9c"/><stop offset="0.581" stop-color="#adadad"/><stop offset="0.613" stop-color="#bdbdbd"/><stop offset="0.645" stop-color="#cccccc"/><stop offset="0.677" stop-color="#d9d9d9"/><stop offset="0.710" stop-color="#e4e4e4"/><stop offset="0.742" stop-color="#ededed"/><stop offset="0.774" stop-color="#f4f4f4"/><stop offset="0.806" stop-color="#f9f9f9"/><stop offset="0.839" stop-color="#fbfbfb"/><stop offset="0.871" stop-color="#fbfbfb"/><stop offset="0.903" stop-color="#f7f7f7"/><stop offset="0.935" stop-color="#efefef"/><stop offset="0.968" stop-color="#e3e3e3"/><stop offset="1.000" stop-color="#d4d4d4"/></linearGradient><linearGradient id="a29"><stop offset="0.000" stop-color="#2f2f2f"/><stop offset="0.032" stop-color="#202020"/><stop offset="0.065" stop-color="#141414"/><stop offset="0.097" stop-color="#0b0b0b"/><stop offset="0.129" stop-color="#060606"/><stop offset="0.161" stop-color="#050505"/><stop offset="0.194" stop-color="#070707"/><stop offset="0.226" stop-color="#0b0b0b"/><stop offset="0.258" stop-color="#111111"/><stop offset="0.290" stop-color="#1a1a1a"/><stop offset="0.323" stop-color="#262626"/><stop offset="0.355" stop-color="#333333"/><stop offset="0.387" stop-color="#424242"/><stop offset="0.419" stop-color="#535353"/><stop offset="0.452" stop-color="#656565"/><stop offset="0.484" stop-color="#787878"/><stop offset="0.516" stop-color="#8a8a8a"/><stop offset="0.548" stop-color="#9c9c9c"/><stop offset="0.581" stop-color="#adadad"/><stop offset="0.613" stop-color="#bdbdbd"/><stop offset="0.645" stop-color="#cccccc"/><stop offset="0.677" stop-color="#d9d9d9"/><stop offset="0.710" stop-color="#e4e4e4"/><stop offset="0.742" stop-color="#ededed"/><stop offset="0.774" stop-color="#f3f3f3"/><stop offset="0.806" stop-color="#f8f8f8"/><stop offset="0.839" stop-color="#fafafa"/><stop offset="0.871" stop-color="#f9f9f9"/><stop offset="0.903" stop-color="#f5f5f5"/><stop offset="0.935" stop-color="#eeeeee"/><stop offset="0.968" stop-color="#e3e3e3"/><stop offset="1.000" stop-color="#d4d4d4"/></linearGradient><linearGradient id="a30"><stop offset="0.000" stop-color="#2f2f2f"/><stop offset="0.032" stop-color="#202020"/><stop offset="0.065" stop-color="#141414"/><stop offset="0.097" stop-color="#0c0c0c"/><stop offset="0.129" stop-color="#070707"/><stop offset="0.161" stop-color="#060606"/><stop offset="0.194" stop-color="#080808"/><stop offset="0.226" stop-color="#0c0c0c"/><stop offset="0.258" stop-color="#121212"/><stop offset="0.290" stop-color="#1b1b1b"/><stop offset="0.323" stop-color="#262626"/><stop offset="0.355" stop-color="#333333"/><stop offset="0.387" stop-color="#424242"/><stop offset="0.419" stop-color="#535353"/><stop offset="0.452" stop-color="#656565"/><stop offset="0.484" stop-color="#787878"/><stop offset="0.516" stop-color="#8a8a8a"/><stop offset="0.548" stop-color="#9c9c9c"/><stop offset="0.581" stop-color="#adadad"/><stop offset="0.613" stop-color="#bdbdbd"/><stop offset="0.645" stop-color="#cccccc"/><stop offset="0.677" stop-color="#d8d8d8"/><stop offset="0.710" stop-color="#e3e3e3"/><stop offset="0.742" stop-color="#ececec"/><stop offset="0.774" stop-color="#f2f2f2"/><stop offset="0.806" stop-color="#f6f6f6"/><stop offset="0.839" stop-color="#f9f9f9"/><stop offset="0.871" stop-color="#f8f8f8"/><stop offset="0.903" stop-color="#f4f4f4"/><stop offset="0.935" stop-color="#ededed"/><stop offset="0.968" stop-color="#e2e2e2"/><stop offset="1.000" stop-color="#d3d3d3"/></linearGradient><linearGradient id="a31"><stop offset="0.000" stop-color="#303030"/><stop offset="0.032" stop-color="#212121"/><stop offset="0.065" stop-color="#151515"/><stop offset="0.097" stop-color="#0d0d0d"/><stop offset="0.129" stop-color="#090909"/><stop offset="0.161" stop-color="#080808"/><stop offset="0.194" stop-color="#090909"/><stop offset="0.226" stop-color="#0d0d0d"/><stop offset="0.258" stop-color="#131313"/><stop offset="0.290" stop-color="#1c1c1c"/><stop offset="0.323" stop-color="#272727"/><stop offset="0.355" stop-color="#343434"/><stop offset="0.387" stop-color="#434343"/><stop offset="0.419" stop-color="#535353"/><stop offset="0.452" stop-color="#656565"/><stop offset="0.484" stop-color="#787878"/><stop offset="0.516" stop-color="#8a8a8a"/><stop offset="0.548" stop-color="#9c9c9c"/><stop offset="0.581" stop-color="#adadad"/><stop offset="0.613" stop-color="#bdbdbd"/><stop offset="0.645" stop-color="#cbcbcb"/><stop offset="0.677" stop-color="#d8d8d8"/><stop offset="0.710" stop-color="#e2e2e2"/><stop offset="0.742" stop-color="#ebebeb"/><stop offset="0.774" stop-color="#f1f1f1"/><stop offset="0.806" stop-color="#f5f5f5"/><stop offset="0.839" stop-color="#f7f7f7"/><stop offset="0.871" stop-color="#f7f7f7"/><stop offset="0.903" stop-color="#f3f3f3"/><stop offset="0.935" stop-color="#ececec"/><stop offset="0.968" stop-color="#e1e1e1"/><stop offset="1.000" stop-color="#d3d3d3"/></linearGradient><linearGradient id="a32"><stop offset="0.000" stop-color="#303030"/><stop offset="0.032" stop-color="#222222"/><stop offset="0.065" stop-color="#171717"/><stop offset="0.097" stop-color="#0f0f0f"/><stop offset="0.129" stop-color="#0a0a0a"/><stop offset="0.161" stop-color="#090909"/><stop offset="0.194" stop-color="#0b0b0b"/><stop offset="0.226" stop-color="#0f0f0f"/><stop offset="0.258" stop-color="#151515"/><stop offset="0.290" stop-color="#1d1d1d"/><stop offset="0.323" stop-color="#272727"/><stop offset="0.355" stop-color="#343434"/><stop offset="0.387" stop-color="#434343"/><stop offset="0.419" stop-color="#535353"/><stop offset="0.452" stop-color="#656565"/><stop offset="0.484" stop-color="#787878"/><stop offset="0.516" stop-color="#8a8a8a"/><stop offset="0.548" stop-color="#9c9c9c"/><stop offset="0.581" stop-color="#adadad"/><stop offset="0.613" stop-color="#bdbdbd"/><stop offset="0.645" stop-color="#cbcbcb"/><stop offset="0.677" stop-color="#d7d7d7"/><stop offset="0.710" stop-color="#e1e1e1"/><stop offset="0.742" stop-color="#eaeaea"/><stop offset="0.774" stop-color="#f0f0f0"/><stop offset="0.806" stop-color="#f4f4f4"/><stop offset="0.839" stop-color="#f5f5f5"/><stop offset="0.871" stop-color="#f5f5f5"/><stop offset="0.903" stop-color="#f2f2f2"/><stop offset="0.935" stop-color="#ebebeb"/><stop offset="0.968" stop-color="#e0e0e0"/><stop offset="1.000" stop-color="#d3d3d3"/></linearGradient><linearGradient id="a33"><stop offset="0.000" stop-color="#313131"/><stop offset="0.032" stop-color="#232323"/><stop offset="0.065" stop-color="#181818"/><stop offset="0.097" stop-color="#101010"/><stop offset="0.129" stop-color="#0c0c0c"/><stop offset="0.161" stop-color="#0b0b0b"/><stop offset="0.194" stop-color="#0d0d0d"/><stop offset="0.226" stop-color="#101010"/><stop offset="0.258" stop-color="#161616"/><stop offset="0.290" stop-color="#1e1e1e"/><stop offset="0.323" stop-color="#282828"/><stop offset="0.355" stop-color="#343434"/><stop offset="0.387" stop-color="#434343"/><stop offset="0.419" stop-color="#535353"/><stop offset="0.452" stop-color="#656565"/><stop offset="0.484" stop-color="#787878"/><stop offset="0.516" stop-color="#8a8a8a"/><stop offset="0.548" stop-color="#9c9c9c"/><stop offset="0.581" stop-color="#adadad"/><stop offset="0.613" stop-color="#bdbdbd"/><stop offset="0.645" stop-color="#cbcbcb"/><stop offset="0.677" stop-color="#d7d7d7"/><stop offset="0.710" stop-color="#e0e0e0"/><stop offset="0.742" stop-color="#e8e8e8"/><stop offset="0.774" stop-color="#eeeeee"/><stop offset="0.806" stop-color="#f2f2f2"/><stop offset="0.839" stop-color="#f4f4f4"/><stop offset="0.871" stop-color="#f3f3f3"/><stop offset="0.903" stop-color="#f0f0f0"/><stop offset="0.935" stop-color="#e9e9e9"/><stop offset="0.968" stop-color="#dfdfdf"/><stop offset="1.000" stop-color="#d2d2d2"/></linearGradient><linearGradient id="a34"><stop offset="0.000" stop-color="#313131"/><stop offset="0.032" stop-color="#232323"/><stop offset="0.065" stop-color="#191919"/><stop offset="0.097" stop-color="#121212"/><stop offset="0.129" stop-color="#0e0e0e"/><stop offset="0.161" stop-color="#0d0d0d"/><stop offset="0.194" stop-color="#0f0f0f"/><stop offset="0.226" stop-color="#121212"/><stop offset="0.258" stop-color="#171717"/><stop offset="0.290" stop-color="#1f1f1f"/><stop offset="0.323" stop-color="#292929"/><stop offset="0.355" stop-color="#353535"/><stop offset="0.387" stop-color="#434343"/><stop offset="0.419" stop-color="#535353"/><stop offset="0.452" stop-color="#656565"/><stop offset="0.484" stop-color="#787878"/><stop offset="0.516" stop-color="#8a8a8a"/><stop offset="0.548" stop-color="#9c9c9c"/><stop offset="0.581" stop-color="#adadad"/><stop offset="0.613" stop-color="#bcbcbc"/><stop offset="0.645" stop-color="#cacaca"/><stop offset="0.677" stop-color="#d6d6d6"/><stop offset="0.710" stop-color="#dfdfdf"/><stop offset="0.742" stop-color="#e7e7e7"/><stop offset="0.774" stop-color="#ececec"/><stop offset="0.806" stop-color="#f0f0f0"/><stop offset="0.839" stop-color="#f2f2f2"/><stop offset="0.871" stop-color="#f1f1f1"/><stop offset="0.903" stop-color="#eeeeee"/><stop offset="0.935" stop-color="#e8e8e8"/><stop offset="0.968" stop-color="#dedede"/><stop offset="1.000" stop-color="#d1d1d1"/></linearGradient><linearGradient id="a35"><stop offset="0.000" stop-color="#323232"/><stop offset="0.032" stop-color="#242424"/><stop offset="0.065" stop-color="#1a1a1a"/><stop offset="0.097" stop-color="#141414"/><stop offset="0.129" stop-color="#101010"/><stop offset="0.161" stop-color="#0f0f0f"/><stop offset="0.194" stop-color="#111111"/><stop offset="0.226" stop-color="#141414"/><stop offset="0.258" stop-color="#191919"/><stop offset="0.290" stop-color="#202020"/><stop offset="0.323" stop-color="#2a2a2a"/><stop offset="0.355" stop-color="#353535"/><stop offset="0.387" stop-color="#434343"/><stop offset="0.419" stop-color="#545454"/><stop offset="0.452" stop-color="#656565"/><stop offset="0.484" stop-color="#787878"/><stop offset="0.516" stop-color="#8a8a8a"/><stop offset="0.548" stop-color="#9c9c9c"/><stop offset="0.581" stop-color="#adadad"/><stop offset="0.613" stop-color="#bcbcbc"/><stop offset="0.645" stop-color="#cacaca"/><stop offset="0.677" stop-color="#d5d5d5"/><stop offset="0.710" stop-color="#dedede"/><stop offset="0.742" stop-color="#e6e6e6"/><stop offset="0.774" stop-color="#ebebeb"/><stop offset="0.806" stop-color="#eeeeee"/><stop offset="0.839" stop-color="#f0f0f0"/><stop offset="0.871" stop-color="#efefef"/><stop offset="0.903" stop-color="#ececec"/><stop offset="0.935" stop-color="#e6e6e6"/><stop offset="0.968" stop-color="#dddddd"/><stop offset="1.000" stop-color="#d1d1d1"/></linearGradient><linearGradient id="a36"><stop offset="0.000" stop-color="#323232"/><stop offset="0.032" stop-color="#252525"/><stop offset="0.065" stop-color="#1c1c1c"/><stop offset="0.097" stop-color="#161616"/><stop offset="0.129" stop-color="#121212"/><stop offset="0.161" stop-color="#121212"/><stop offset="0.194" stop-color="#131313"/><stop offset="0.226" stop-color="#161616"/><stop offset="0.258" stop-color="#1a1a1a"/><stop offset="0.290" stop-color="#212121"/><stop offset="0.323" stop-color="#2a2a2a"/><stop offset="0.355" stop-color="#363636"/><stop offset="0.387" stop-color="#444444"/><stop offset="0.419" stop-color="#545454"/><stop offset="0.452" stop-color="#656565"/><stop offset="0.484" stop-color="#787878"/><stop offset="0.516" stop-color="#8a8a8a"/><stop offset="0.548" stop-color="#9c9c9c"/><stop offset="0.581" stop-color="#adadad"/><stop offset="0.613" stop-color="#bcbcbc"/><stop offset="0.645" stop-color="#c9c9c9"/><stop offset="0.677" stop-color="#d4d4d4"/><stop offset="0.710" stop-color="#dddddd"/><stop offset="0.742" stop-color="#e4e4e4"/><stop offset="0.774" stop-color="#e9e9e9"/><stop offset="0.806" stop-color="#ececec"/><stop offset="0.839" stop-color="#ededed"/><stop offset="0.871" stop-color="#ededed"/><stop offset="0.903" stop-color="#eaeaea"/><stop offset="0.935" stop-color="#e5e5e5"/><stop offset="0.968" stop-color="#dcdcdc"/><stop offset="1.000" stop-color="#d0d0d0"/></linearGradient><linearGradient id="a37"><stop offset="0.000" stop-color="#333333"/><stop offset="0.032" stop-color="#272727"/><stop offset="0.065" stop-color="#1e1e1e"/><stop offset="0.097" stop-color="#181818"/><stop offset="0.129" stop-color="#151515"/><stop offset="0.161" stop-color="#141414"/><stop offset="0.194" stop-color="#151515"/><stop offset="0.226" stop-color="#181818"/><stop offset="0.258" stop-color="#1c1c1c"/><stop offset="0.290" stop-color="#232323"/><stop offset="0.323" stop-color="#2b2b2b"/><stop offset="0.355" stop-color="#363636"/><stop offset="0.387" stop-color="#444444"/><stop offset="0.419" stop-color="#545454"/><stop offset="0.452" stop-color="#656565"/><stop offset="0.484" stop-color="#787878"/><stop offset="0.516" stop-color="#8a8a8a"/><stop offset="0.548" stop-color="#9c9c9c"/><stop offset="0.581" stop-color="#acacac"/><stop offset="0.613" stop-color="#bcbcbc"/><stop offset="0.645" stop-color="#c9c9c9"/><stop offset="0.677" stop-color="#d3d3d3"/><stop offset="0.710" stop-color="#dcdcdc"/><stop offset="0.742" stop-color="#e2e2e2"/><stop offset="0.774" stop-color="#e7e7e7"/><stop offset="0.806" stop-color="#eaeaea"/><stop offset="0.839" stop-color="#ebebeb"/><stop offset="0.871" stop-color="#ebebeb"/><stop offset="0.903" stop-color="#e8e8e8"/><stop offset="0.935" stop-color="#e3e3e3"/><stop offset="0.968" stop-color="#dbdbdb"/><stop offset="1.000" stop-color="#cfcfcf"/></linearGradient><linearGradient id="a38"><stop offset="0.000" stop-color="#343434"/><stop offset="0.032" stop-color="#282828"/><stop offset="0.065" stop-color="#1f1f1f"/><stop offset="0.097" stop-color="#1a1a1a"/><stop offset="0.129" stop-color="#171717"/><stop offset="0.161" stop-color="#171717"/><stop offset="0.194" stop-color="#181818"/><stop offset="0.226" stop-color="#1a1a1a"/><stop offset="0.258" stop-color="#1e1e1e"/><stop offset="0.290" stop-color="#242424"/><stop offset="0.323" stop-color="#2c2c2c"/><stop offset="0.355" stop-color="#373737"/><stop offset="0.387" stop-color="#444444"/><stop offset="0.419" stop-color="#545454"/><stop offset="0.452" stop-color="#656565"/><stop offset="0.484" stop-color="#787878"/><stop offset="0.516" stop-color="#8a8a8a"/><stop offset="0.548" stop-color="#9c9c9c"/><stop offset="0.581" stop-color="#acacac"/><stop offset="0.613" stop-color="#bbbbbb"/><stop offset="0.645" stop-color="#c8c8c8"/><stop offset="0.677" stop-color="#d2d2d2"/><stop offset="0.710" stop-color="#dadada"/><stop offset="0.742" stop-color="#e0e0e0"/><stop offset="0.774" stop-color="#e5e5e5"/><stop offset="0.806" stop-color="#e7e7e7"/><stop offset="0.839" stop-color="#e8e8e8"/><stop offset="0.871" stop-color="#e8e8e8"/><stop offset="0.903" stop-color="#e6e6e6"/><stop offset="0.935" stop-color="#e1e1e1"/><stop offset="0.968" stop-color="#dadada"/><stop offset="1.000" stop-color="#cecece"/></linearGradient><linearGradient id="a39"><stop offset="0.000" stop-color="#343434"/><stop offset="0.032" stop-color="#292929"/><stop offset="0.065" stop-color="#212121"/><stop offset="0.097" stop-color="#1c1c1c"/><stop offset="0.129" stop-color="#1a1a1a"/><stop offset="0.161" stop-color="#191919"/><stop offset="0.194" stop-color="#1a1a1a"/><stop offset="0.226" stop-color="#1c1c1c"/><stop offset="0.258" stop-color="#202020"/><stop offset="0.290" stop-color="#252525"/><stop offset="0.323" stop-color="#2d2d2d"/><stop offset="0.355" stop-color="#383838"/><stop offset="0.387" stop-color="#454545"/><stop offset="0.419" stop-color="#545454"/><stop offset="0.452" stop-color="#656565"/><stop offset="0.484" stop-color="#787878"/><stop offset="0.516" stop-color="#8a8a8a"/><stop offset="0.548" stop-color="#9c9c9c"/><stop offset="0.581" stop-color="#acacac"/><stop offset="0.613" stop-color="#bbbbbb"/><stop offset="0.645" stop-color="#c7c7c7"/><stop offset="0.677" stop-color="#d1d1d1"/><stop offset="0.710" stop-color="#d9d9d9"/><stop offset="0.742" stop-color="#dfdfdf"/><stop offset="0.774" stop-color="#e2e2e2"/><stop offset="0.806" stop-color="#e5e5e5"/><stop offset="0.839" stop-color="#e6e6e6"/><stop offset="0.871" stop-color="#e5e5e5"/><stop offset="0.903" stop-color="#e3e3e3"/><stop offset="0.935" stop-color="#dfdfdf"/><stop offset="0.968" stop-color="#d8d8d8"/><stop offset="1.000" stop-color="#cecece"/></linearGradient><linearGradient id="a40"><stop offset="0.000" stop-color="#353535"/><stop offset="0.032" stop-color="#2a2a2a"/><stop offset="0.065" stop-color="#232323"/><stop offset="0.097" stop-color="#1f1f1f"/><stop offset="0.129" stop-color="#1d1d1d"/><stop offset="0.161" stop-color="#1c1c1c"/><stop offset="0.194" stop-color="#1d1d1d"/><stop offset="0.226" stop-color="#1f1f1f"/><stop offset="0.258" stop-color="#222222"/><stop offset="0.290" stop-color="#272727"/><stop offset="0.323" stop-color="#2e2e2e"/><stop offset="0.355" stop-color="#383838"/><stop offset="0.387" stop-color="#454545"/><stop offset="0.419" stop-color="#545454"/><stop offset="0.452" stop-color="#656565"/><stop offset="0.484" stop-color="#787878"/><stop offset="0.516" stop-color="#8a8a8a"/><stop offset="0.548" stop-color="#9c9c9c"/><stop offset="0.581" stop-color="#acacac"/><stop offset="0.613" stop-color="#bbbbbb"/><stop offset="0.645" stop-color="#c7c7c7"/><stop offset="0.677" stop-color="#d0d0d0"/><stop offset="0.710" stop-color="#d8d8d8"/><stop offset="0.742" stop-color="#dddddd"/><stop offset="0.774" stop-color="#e0e0e0"/><stop offset="0.806" stop-color="#e2e2e2"/><stop offset="0.839" stop-color="#e3e3e3"/><stop offset="0.871" stop-color="#e2e2e2"/><stop offset="0.903" stop-color="#e1e1e1"/><stop offset="0.935" stop-color="#dddddd"/><stop offset="0.968" stop-color="#d7d7d7"/><stop offset="1.000" stop-color="#cdcdcd"/></linearGradient><linearGradient id="a41"><stop offset="0.000" stop-color="#363636"/><stop offset="0.032" stop-color="#2c2c2c"/><stop offset="0.065" stop-color="#252525"/><stop offset="0.097" stop-color="#212121"/><stop offset="0.129" stop-color="#202020"/><stop offset="0.161" stop-color="#1f1f1f"/><stop offset="0.194" stop-color="#202020"/><stop offset="0.226" stop-color="#212121"/><stop offset="0.258" stop-color="#242424"/><stop offset="0.290" stop-color="#292929"/><stop offset="0.323" stop-color="#303030"/><stop offset="0.355" stop-color="#393939"/><stop offset="0.387" stop-color="#454545"/><stop offset="0.419" stop-color="#545454"/><stop offset="0.452" stop-color="#656565"/><stop offset="0.484" stop-color="#787878"/><stop offset="0.516" stop-color="#8a8a8a"/><stop offset="0.548" stop-color="#9c9c9c"/><stop offset="0.581" stop-color="#acacac"/><stop offset="0.613" stop-color="#bababa"/><stop offset="0.645" stop-color="#c6c6c6"/><stop offset="0.677" stop-color="#cfcfcf"/><stop offset="0.710" stop-color="#d6d6d6"/><stop offset="0.742" stop-color="#dadada"/><stop offset="0.774" stop-color="#dddddd"/><stop offset="0.806" stop-color="#dfdfdf"/><stop offset="0.839" stop-color="#e0e0e0"/><stop offset="0.871" stop-color="#dfdfdf"/><stop offset="0.903" stop-color="#dedede"/><stop offset="0.935" stop-color="#dbdbdb"/><stop offset="0.968" stop-color="#d5d5d5"/><stop offset="1.000" stop-color="#cccccc"/></linearGradient><linearGradient id="a42"><stop offset="0.000" stop-color="#373737"/><stop offset="0.032" stop-color="#2d2d2d"/><stop offset="0.065" stop-color="#272727"/><stop offset="0.097" stop-color="#242424"/><stop offset="0.129" stop-color="#232323"/><stop offset="0.161" stop-color="#232323"/><stop offset="0.194" stop-color="#232323"/><stop offset="0.226" stop-color="#242424"/><stop offset="0.258" stop-color="#262626"/><stop offset="0.290" stop-color="#2a2a2a"/><stop offset="0.323" stop-color="#313131"/><stop offset="0.355" stop-color="#3a3a3a"/><stop offset="0.387" stop-color="#464646"/><stop offset="0.419" stop-color="#545454"/><stop offset="0.452" stop-color="#656565"/><stop offset="0.484" stop-color="#787878"/><stop offset="0.516" stop-color="#8a8a8a"/><stop offset="0.548" stop-color="#9c9c9c"/><stop offset="0.581" stop-color="#acacac"/><stop offset="0.613" stop-color="#bababa"/><stop offset="0.645" stop-color="#c5c5c5"/><stop offset="0.677" stop-color="#cecece"/><stop offset="0.710" stop-color="#d4d4d4"/><stop offset="0.742" stop-color="#d8d8d8"/><stop offset="0.774" stop-color="#dbdbdb"/><stop offset="0.806" stop-color="#dcdcdc"/><stop offset="0.839" stop-color="#dcdcdc"/><stop offset="0.871" stop-color="#dcdcdc"/><stop offset="0.903" stop-color="#dbdbdb"/><stop offset="0.935" stop-color="#d9d9d9"/><stop offset="0.968" stop-color="#d4d4d4"/><stop offset="1.000" stop-color="#cbcbcb"/></linearGradient><linearGradient id="a43"><stop offset="0.000" stop-color="#383838"/><stop offset="0.032" stop-color="#2f2f2f"/><stop offset="0.065" stop-color="#2a2a2a"/><stop offset="0.097" stop-color="#272727"/><stop offset="0.129" stop-color="#262626"/><stop offset="0.161" stop-color="#262626"/><stop offset="0.194" stop-color="#262626"/><stop offset="0.226" stop-color="#272727"/><stop offset="0.258" stop-color="#292929"/><stop offset="0.290" stop-color="#2c2c2c"/><stop offset="0.323" stop-color="#323232"/><stop offset="0.355" stop-color="#3b3b3b"/><stop offset="0.387" stop-color="#464646"/><stop offset="0.419" stop-color="#545454"/><stop offset="0.452" stop-color="#656565"/><stop offset="0.484" stop-color="#787878"/><stop offset="0.516" stop-color="#8a8a8a"/><stop offset="0.548" stop-color="#9c9c9c"/><stop offset="0.581" stop-color="#acacac"/><stop offset="0.613" stop-color="#b9b9b9"/><stop offset="0.645" stop-color="#c4c4c4"/><stop offset="0.677" stop-color="#cdcdcd"/><stop offset="0.710" stop-color="#d2d2d2"/><stop offset="0.742" stop-color="#d6d6d6"/><stop offset="0.774" stop-color="#d8d8d8"/><stop offset="0.806" stop-color="#d9d9d9"/><stop offset="0.839" stop-color="#d9d9d9"/><stop offset="0.871" stop-color="#d9d9d9"/><stop offset="0.903" stop-color="#d8d8d8"/><stop offset="0.935" stop-color="#d6d6d6"/><stop offset="0.968" stop-color="#d2d2d2"/><stop offset="1.000" stop-color="#cacaca"/></linearGradient><g id="fa"><rect x="-4.0" y="-6.00" width="305.4" height="2.55" fill="url(#a0)"/><rect x="-4.0" y="-3.50" width="305.4" height="2.55" fill="url(#a1)"/><rect x="-4.0" y="-1.00" width="305.4" height="2.55" fill="url(#a2)"/><rect x="-4.0" y="1.50" width="305.4" height="2.55" fill="url(#a3)"/><rect x="-4.0" y="4.00" width="305.4" height="2.55" fill="url(#a4)"/><rect x="-4.0" y="6.50" width="305.4" height="2.55" fill="url(#a5)"/><rect x="-4.0" y="9.00" width="305.4" height="2.55" fill="url(#a6)"/><rect x="-4.0" y="11.50" width="305.4" height="2.55" fill="url(#a7)"/><rect x="-4.0" y="14.00" width="305.4" height="2.55" fill="url(#a8)"/><rect x="-4.0" y="16.50" width="305.4" height="2.55" fill="url(#a9)"/><rect x="-4.0" y="19.00" width="305.4" height="2.55" fill="url(#a10)"/><rect x="-4.0" y="21.50" width="305.4" height="2.55" fill="url(#a11)"/><rect x="-4.0" y="24.00" width="305.4" height="2.55" fill="url(#a12)"/><rect x="-4.0" y="26.50" width="305.4" height="2.55" fill="url(#a13)"/><rect x="-4.0" y="29.00" width="305.4" height="2.55" fill="url(#a14)"/><rect x="-4.0" y="31.50" width="305.4" height="2.55" fill="url(#a15)"/><rect x="-4.0" y="34.00" width="305.4" height="2.55" fill="url(#a16)"/><rect x="-4.0" y="36.50" width="305.4" height="2.55" fill="url(#a17)"/><rect x="-4.0" y="39.00" width="305.4" height="2.55" fill="url(#a18)"/><rect x="-4.0" y="41.50" width="305.4" height="2.55" fill="url(#a19)"/><rect x="-4.0" y="44.00" width="305.4" height="2.55" fill="url(#a20)"/><rect x="-4.0" y="46.50" width="305.4" height="2.55" fill="url(#a21)"/><rect x="-4.0" y="49.00" width="305.4" height="2.55" fill="url(#a22)"/><rect x="-4.0" y="51.50" width="305.4" height="2.55" fill="url(#a23)"/><rect x="-4.0" y="54.00" width="305.4" height="2.55" fill="url(#a24)"/><rect x="-4.0" y="56.50" width="305.4" height="2.55" fill="url(#a25)"/><rect x="-4.0" y="59.00" width="305.4" height="2.55" fill="url(#a26)"/><rect x="-4.0" y="61.50" width="305.4" height="2.55" fill="url(#a27)"/><rect x="-4.0" y="64.00" width="305.4" height="2.55" fill="url(#a28)"/><rect x="-4.0" y="66.50" width="305.4" height="2.55" fill="url(#a29)"/><rect x="-4.0" y="69.00" width="305.4" height="2.55" fill="url(#a30)"/><rect x="-4.0" y="71.50" width="305.4" height="2.55" fill="url(#a31)"/><rect x="-4.0" y="74.00" width="305.4" height="2.55" fill="url(#a32)"/><rect x="-4.0" y="76.50" width="305.4" height="2.55" fill="url(#a33)"/><rect x="-4.0" y="79.00" width="305.4" height="2.55" fill="url(#a34)"/><rect x="-4.0" y="81.50" width="305.4" height="2.55" fill="url(#a35)"/><rect x="-4.0" y="84.00" width="305.4" height="2.55" fill="url(#a36)"/><rect x="-4.0" y="86.50" width="305.4" height="2.55" fill="url(#a37)"/><rect x="-4.0" y="89.00" width="305.4" height="2.55" fill="url(#a38)"/><rect x="-4.0" y="91.50" width="305.4" height="2.55" fill="url(#a39)"/><rect x="-4.0" y="94.00" width="305.4" height="2.55" fill="url(#a40)"/><rect x="-4.0" y="96.50" width="305.4" height="2.55" fill="url(#a41)"/><rect x="-4.0" y="99.00" width="305.4" height="2.55" fill="url(#a42)"/><rect x="-4.0" y="101.50" width="305.4" height="2.55" fill="url(#a43)"/></g><linearGradient id="c0"><stop offset="0.000" stop-color="#525252"/><stop offset="0.030" stop-color="#525252"/><stop offset="0.061" stop-color="#535353"/><stop offset="0.091" stop-color="#555555"/><stop offset="0.121" stop-color="#595959"/><stop offset="0.152" stop-color="#5e5e5e"/><stop offset="0.182" stop-color="#656565"/><stop offset="0.212" stop-color="#6b6b6b"/><stop offset="0.242" stop-color="#707070"/><stop offset="0.273" stop-color="#777777"/><stop offset="0.303" stop-color="#8e8e8e"/><stop offset="0.333" stop-color="#b0b0b0"/><stop offset="0.364" stop-color="#c5c5c5"/><stop offset="0.394" stop-color="#c9c9c9"/><stop offset="0.424" stop-color="#cacaca"/><stop offset="0.455" stop-color="#cccccc"/><stop offset="0.485" stop-color="#cccccc"/><stop offset="0.515" stop-color="#c9c9c9"/><stop offset="0.545" stop-color="#c5c5c5"/><stop offset="0.576" stop-color="#c1c1c1"/><stop offset="0.606" stop-color="#bdbdbd"/><stop offset="0.636" stop-color="#b8b8b8"/><stop offset="0.667" stop-color="#b3b3b3"/><stop offset="0.697" stop-color="#aeaeae"/><stop offset="0.727" stop-color="#a8a8a8"/><stop offset="0.758" stop-color="#a2a2a2"/><stop offset="0.788" stop-color="#9b9b9b"/><stop offset="0.818" stop-color="#969696"/><stop offset="0.848" stop-color="#929292"/><stop offset="0.879" stop-color="#919191"/><stop offset="0.909" stop-color="#939393"/><stop offset="0.939" stop-color="#989898"/><stop offset="0.970" stop-color="#9e9e9e"/><stop offset="1.000" stop-color="#9e9e9e"/></linearGradient><linearGradient id="c1"><stop offset="0.000" stop-color="#525252"/><stop offset="0.030" stop-color="#525252"/><stop offset="0.061" stop-color="#535353"/><stop offset="0.091" stop-color="#555555"/><stop offset="0.121" stop-color="#595959"/><stop offset="0.152" stop-color="#5e5e5e"/><stop offset="0.182" stop-color="#656565"/><stop offset="0.212" stop-color="#6b6b6b"/><stop offset="0.242" stop-color="#707070"/><stop offset="0.273" stop-color="#777777"/><stop offset="0.303" stop-color="#8e8e8e"/><stop offset="0.333" stop-color="#b0b0b0"/><stop offset="0.364" stop-color="#c5c5c5"/><stop offset="0.394" stop-color="#c9c9c9"/><stop offset="0.424" stop-color="#cacaca"/><stop offset="0.455" stop-color="#cccccc"/><stop offset="0.485" stop-color="#cccccc"/><stop offset="0.515" stop-color="#c9c9c9"/><stop offset="0.545" stop-color="#c5c5c5"/><stop offset="0.576" stop-color="#c1c1c1"/><stop offset="0.606" stop-color="#bdbdbd"/><stop offset="0.636" stop-color="#b8b8b8"/><stop offset="0.667" stop-color="#b3b3b3"/><stop offset="0.697" stop-color="#aeaeae"/><stop offset="0.727" stop-color="#a8a8a8"/><stop offset="0.758" stop-color="#a2a2a2"/><stop offset="0.788" stop-color="#9b9b9b"/><stop offset="0.818" stop-color="#969696"/><stop offset="0.848" stop-color="#929292"/><stop offset="0.879" stop-color="#919191"/><stop offset="0.909" stop-color="#939393"/><stop offset="0.939" stop-color="#989898"/><stop offset="0.970" stop-color="#9e9e9e"/><stop offset="1.000" stop-color="#9e9e9e"/></linearGradient><linearGradient id="c2"><stop offset="0.000" stop-color="#525252"/><stop offset="0.030" stop-color="#525252"/><stop offset="0.061" stop-color="#535353"/><stop offset="0.091" stop-color="#555555"/><stop offset="0.121" stop-color="#595959"/><stop offset="0.152" stop-color="#5e5e5e"/><stop offset="0.182" stop-color="#656565"/><stop offset="0.212" stop-color="#6b6b6b"/><stop offset="0.242" stop-color="#707070"/><stop offset="0.273" stop-color="#777777"/><stop offset="0.303" stop-color="#8e8e8e"/><stop offset="0.333" stop-color="#b0b0b0"/><stop offset="0.364" stop-color="#c5c5c5"/><stop offset="0.394" stop-color="#c9c9c9"/><stop offset="0.424" stop-color="#cacaca"/><stop offset="0.455" stop-color="#cccccc"/><stop offset="0.485" stop-color="#cccccc"/><stop offset="0.515" stop-color="#c9c9c9"/><stop offset="0.545" stop-color="#c5c5c5"/><stop offset="0.576" stop-color="#c1c1c1"/><stop offset="0.606" stop-color="#bdbdbd"/><stop offset="0.636" stop-color="#b8b8b8"/><stop offset="0.667" stop-color="#b3b3b3"/><stop offset="0.697" stop-color="#aeaeae"/><stop offset="0.727" stop-color="#a8a8a8"/><stop offset="0.758" stop-color="#a2a2a2"/><stop offset="0.788" stop-color="#9b9b9b"/><stop offset="0.818" stop-color="#969696"/><stop offset="0.848" stop-color="#929292"/><stop offset="0.879" stop-color="#919191"/><stop offset="0.909" stop-color="#939393"/><stop offset="0.939" stop-color="#989898"/><stop offset="0.970" stop-color="#9e9e9e"/><stop offset="1.000" stop-color="#9e9e9e"/></linearGradient><linearGradient id="c3"><stop offset="0.000" stop-color="#525252"/><stop offset="0.030" stop-color="#525252"/><stop offset="0.061" stop-color="#535353"/><stop offset="0.091" stop-color="#555555"/><stop offset="0.121" stop-color="#595959"/><stop offset="0.152" stop-color="#5e5e5e"/><stop offset="0.182" stop-color="#656565"/><stop offset="0.212" stop-color="#6b6b6b"/><stop offset="0.242" stop-color="#707070"/><stop offset="0.273" stop-color="#777777"/><stop offset="0.303" stop-color="#8e8e8e"/><stop offset="0.333" stop-color="#b0b0b0"/><stop offset="0.364" stop-color="#c5c5c5"/><stop offset="0.394" stop-color="#c9c9c9"/><stop offset="0.424" stop-color="#cacaca"/><stop offset="0.455" stop-color="#cccccc"/><stop offset="0.485" stop-color="#cccccc"/><stop offset="0.515" stop-color="#c9c9c9"/><stop offset="0.545" stop-color="#c5c5c5"/><stop offset="0.576" stop-color="#c1c1c1"/><stop offset="0.606" stop-color="#bdbdbd"/><stop offset="0.636" stop-color="#b8b8b8"/><stop offset="0.667" stop-color="#b3b3b3"/><stop offset="0.697" stop-color="#aeaeae"/><stop offset="0.727" stop-color="#a8a8a8"/><stop offset="0.758" stop-color="#a2a2a2"/><stop offset="0.788" stop-color="#9b9b9b"/><stop offset="0.818" stop-color="#969696"/><stop offset="0.848" stop-color="#929292"/><stop offset="0.879" stop-color="#919191"/><stop offset="0.909" stop-color="#939393"/><stop offset="0.939" stop-color="#989898"/><stop offset="0.970" stop-color="#9e9e9e"/><stop offset="1.000" stop-color="#9e9e9e"/></linearGradient><linearGradient id="c4"><stop offset="0.000" stop-color="#525252"/><stop offset="0.030" stop-color="#525252"/><stop offset="0.061" stop-color="#535353"/><stop offset="0.091" stop-color="#555555"/><stop offset="0.121" stop-color="#595959"/><stop offset="0.152" stop-color="#5e5e5e"/><stop offset="0.182" stop-color="#656565"/><stop offset="0.212" stop-color="#6b6b6b"/><stop offset="0.242" stop-color="#707070"/><stop offset="0.273" stop-color="#777777"/><stop offset="0.303" stop-color="#8e8e8e"/><stop offset="0.333" stop-color="#b0b0b0"/><stop offset="0.364" stop-color="#c5c5c5"/><stop offset="0.394" stop-color="#c9c9c9"/><stop offset="0.424" stop-color="#cacaca"/><stop offset="0.455" stop-color="#cccccc"/><stop offset="0.485" stop-color="#cccccc"/><stop offset="0.515" stop-color="#c9c9c9"/><stop offset="0.545" stop-color="#c5c5c5"/><stop offset="0.576" stop-color="#c1c1c1"/><stop offset="0.606" stop-color="#bdbdbd"/><stop offset="0.636" stop-color="#b8b8b8"/><stop offset="0.667" stop-color="#b3b3b3"/><stop offset="0.697" stop-color="#aeaeae"/><stop offset="0.727" stop-color="#a8a8a8"/><stop offset="0.758" stop-color="#a2a2a2"/><stop offset="0.788" stop-color="#9b9b9b"/><stop offset="0.818" stop-color="#969696"/><stop offset="0.848" stop-color="#929292"/><stop offset="0.879" stop-color="#919191"/><stop offset="0.909" stop-color="#939393"/><stop offset="0.939" stop-color="#989898"/><stop offset="0.970" stop-color="#9e9e9e"/><stop offset="1.000" stop-color="#9e9e9e"/></linearGradient><linearGradient id="c5"><stop offset="0.000" stop-color="#535353"/><stop offset="0.030" stop-color="#535353"/><stop offset="0.061" stop-color="#555555"/><stop offset="0.091" stop-color="#585858"/><stop offset="0.121" stop-color="#5b5b5b"/><stop offset="0.152" stop-color="#5f5f5f"/><stop offset="0.182" stop-color="#666666"/><stop offset="0.212" stop-color="#6d6d6d"/><stop offset="0.242" stop-color="#707070"/><stop offset="0.273" stop-color="#777777"/><stop offset="0.303" stop-color="#8e8e8e"/><stop offset="0.333" stop-color="#b0b0b0"/><stop offset="0.364" stop-color="#c6c6c6"/><stop offset="0.394" stop-color="#cbcbcb"/><stop offset="0.424" stop-color="#cccccc"/><stop offset="0.455" stop-color="#cdcdcd"/><stop offset="0.485" stop-color="#cccccc"/><stop offset="0.515" stop-color="#c9c9c9"/><stop offset="0.545" stop-color="#c5c5c5"/><stop offset="0.576" stop-color="#c1c1c1"/><stop offset="0.606" stop-color="#bcbcbc"/><stop offset="0.636" stop-color="#b6b6b6"/><stop offset="0.667" stop-color="#b0b0b0"/><stop offset="0.697" stop-color="#aaaaaa"/><stop offset="0.727" stop-color="#a4a4a4"/><stop offset="0.758" stop-color="#9e9e9e"/><stop offset="0.788" stop-color="#999999"/><stop offset="0.818" stop-color="#949494"/><stop offset="0.848" stop-color="#909090"/><stop offset="0.879" stop-color="#8f8f8f"/><stop offset="0.909" stop-color="#909090"/><stop offset="0.939" stop-color="#969696"/><stop offset="0.970" stop-color="#9b9b9b"/><stop offset="1.000" stop-color="#9b9b9b"/></linearGradient><linearGradient id="c6"><stop offset="0.000" stop-color="#555555"/><stop offset="0.030" stop-color="#555555"/><stop offset="0.061" stop-color="#585858"/><stop offset="0.091" stop-color="#5a5a5a"/><stop offset="0.121" stop-color="#5d5d5d"/><stop offset="0.152" stop-color="#616161"/><stop offset="0.182" stop-color="#676767"/><stop offset="0.212" stop-color="#6e6e6e"/><stop offset="0.242" stop-color="#717171"/><stop offset="0.273" stop-color="#777777"/><stop offset="0.303" stop-color="#8d8d8d"/><stop offset="0.333" stop-color="#b0b0b0"/><stop offset="0.364" stop-color="#c6c6c6"/><stop offset="0.394" stop-color="#cccccc"/><stop offset="0.424" stop-color="#cdcdcd"/><stop offset="0.455" stop-color="#cecece"/><stop offset="0.485" stop-color="#cccccc"/><stop offset="0.515" stop-color="#c7c7c7"/><stop offset="0.545" stop-color="#c3c3c3"/><stop offset="0.576" stop-color="#bfbfbf"/><stop offset="0.606" stop-color="#bbbbbb"/><stop offset="0.636" stop-color="#b5b5b5"/><stop offset="0.667" stop-color="#aeaeae"/><stop offset="0.697" stop-color="#a7a7a7"/><stop offset="0.727" stop-color="#a0a0a0"/><stop offset="0.758" stop-color="#9b9b9b"/><stop offset="0.788" stop-color="#969696"/><stop offset="0.818" stop-color="#919191"/><stop offset="0.848" stop-color="#8e8e8e"/><stop offset="0.879" stop-color="#8d8d8d"/><stop offset="0.909" stop-color="#8e8e8e"/><stop offset="0.939" stop-color="#949494"/><stop offset="0.970" stop-color="#999999"/><stop offset="1.000" stop-color="#999999"/></linearGradient><linearGradient id="c7"><stop offset="0.000" stop-color="#585858"/><stop offset="0.030" stop-color="#585858"/><stop offset="0.061" stop-color="#5a5a5a"/><stop offset="0.091" stop-color="#5d5d5d"/><stop offset="0.121" stop-color="#5f5f5f"/><stop offset="0.152" stop-color="#636363"/><stop offset="0.182" stop-color="#696969"/><stop offset="0.212" stop-color="#6f6f6f"/><stop offset="0.242" stop-color="#727272"/><stop offset="0.273" stop-color="#777777"/><stop offset="0.303" stop-color="#8d8d8d"/><stop offset="0.333" stop-color="#aeaeae"/><stop offset="0.364" stop-color="#c4c4c4"/><stop offset="0.394" stop-color="#cbcbcb"/><stop offset="0.424" stop-color="#cccccc"/><stop offset="0.455" stop-color="#cecece"/><stop offset="0.485" stop-color="#cbcbcb"/><stop offset="0.515" stop-color="#c5c5c5"/><stop offset="0.545" stop-color="#c0c0c0"/><stop offset="0.576" stop-color="#bdbdbd"/><stop offset="0.606" stop-color="#b9b9b9"/><stop offset="0.636" stop-color="#b2b2b2"/><stop offset="0.667" stop-color="#ababab"/><stop offset="0.697" stop-color="#a4a4a4"/><stop offset="0.727" stop-color="#9d9d9d"/><stop offset="0.758" stop-color="#989898"/><stop offset="0.788" stop-color="#939393"/><stop offset="0.818" stop-color="#909090"/><stop offset="0.848" stop-color="#8d8d8d"/><stop offset="0.879" stop-color="#8c8c8c"/><stop offset="0.909" stop-color="#8d8d8d"/><stop offset="0.939" stop-color="#939393"/><stop offset="0.970" stop-color="#989898"/><stop offset="1.000" stop-color="#989898"/></linearGradient><linearGradient id="c8"><stop offset="0.000" stop-color="#5a5a5a"/><stop offset="0.030" stop-color="#5a5a5a"/><stop offset="0.061" stop-color="#5d5d5d"/><stop offset="0.091" stop-color="#5f5f5f"/><stop offset="0.121" stop-color="#616161"/><stop offset="0.152" stop-color="#646464"/><stop offset="0.182" stop-color="#6a6a6a"/><stop offset="0.212" stop-color="#707070"/><stop offset="0.242" stop-color="#737373"/><stop offset="0.273" stop-color="#787878"/><stop offset="0.303" stop-color="#8c8c8c"/><stop offset="0.333" stop-color="#acacac"/><stop offset="0.364" stop-color="#c1c1c1"/><stop offset="0.394" stop-color="#c8c8c8"/><stop offset="0.424" stop-color="#cbcbcb"/><stop offset="0.455" stop-color="#cccccc"/><stop offset="0.485" stop-color="#c9c9c9"/><stop offset="0.515" stop-color="#c3c3c3"/><stop offset="0.545" stop-color="#bdbdbd"/><stop offset="0.576" stop-color="#bababa"/><stop offset="0.606" stop-color="#b6b6b6"/><stop offset="0.636" stop-color="#b0b0b0"/><stop offset="0.667" stop-color="#a9a9a9"/><stop offset="0.697" stop-color="#a2a2a2"/><stop offset="0.727" stop-color="#9b9b9b"/><stop offset="0.758" stop-color="#969696"/><stop offset="0.788" stop-color="#929292"/><stop offset="0.818" stop-color="#8e8e8e"/><stop offset="0.848" stop-color="#8c8c8c"/><stop offset="0.879" stop-color="#8b8b8b"/><stop offset="0.909" stop-color="#8d8d8d"/><stop offset="0.939" stop-color="#939393"/><stop offset="0.970" stop-color="#989898"/><stop offset="1.000" stop-color="#989898"/></linearGradient><linearGradient id="c9"><stop offset="0.000" stop-color="#5d5d5d"/><stop offset="0.030" stop-color="#5d5d5d"/><stop offset="0.061" stop-color="#5f5f5f"/><stop offset="0.091" stop-color="#626262"/><stop offset="0.121" stop-color="#636363"/><stop offset="0.152" stop-color="#666666"/><stop offset="0.182" stop-color="#6b6b6b"/><stop offset="0.212" stop-color="#717171"/><stop offset="0.242" stop-color="#747474"/><stop offset="0.273" stop-color="#797979"/><stop offset="0.303" stop-color="#8c8c8c"/><stop offset="0.333" stop-color="#a9a9a9"/><stop offset="0.364" stop-color="#bdbdbd"/><stop offset="0.394" stop-color="#c5c5c5"/><stop offset="0.424" stop-color="#c8c8c8"/><stop offset="0.455" stop-color="#c9c9c9"/><stop offset="0.485" stop-color="#c6c6c6"/><stop offset="0.515" stop-color="#bfbfbf"/><stop offset="0.545" stop-color="#bababa"/><stop offset="0.576" stop-color="#b6b6b6"/><stop offset="0.606" stop-color="#b2b2b2"/><stop offset="0.636" stop-color="#adadad"/><stop offset="0.667" stop-color="#a6a6a6"/><stop offset="0.697" stop-color="#a0a0a0"/><stop offset="0.727" stop-color="#9a9a9a"/><stop offset="0.758" stop-color="#949494"/><stop offset="0.788" stop-color="#909090"/><stop offset="0.818" stop-color="#8e8e8e"/><stop offset="0.848" stop-color="#8c8c8c"/><stop offset="0.879" stop-color="#8b8b8b"/><stop offset="0.909" stop-color="#8d8d8d"/><stop offset="0.939" stop-color="#939393"/><stop offset="0.970" stop-color="#999999"/><stop offset="1.000" stop-color="#999999"/></linearGradient><linearGradient id="c10"><stop offset="0.000" stop-color="#606060"/><stop offset="0.030" stop-color="#606060"/><stop offset="0.061" stop-color="#626262"/><stop offset="0.091" stop-color="#646464"/><stop offset="0.121" stop-color="#656565"/><stop offset="0.152" stop-color="#676767"/><stop offset="0.182" stop-color="#6c6c6c"/><stop offset="0.212" stop-color="#717171"/><stop offset="0.242" stop-color="#747474"/><stop offset="0.273" stop-color="#797979"/><stop offset="0.303" stop-color="#8b8b8b"/><stop offset="0.333" stop-color="#a5a5a5"/><stop offset="0.364" stop-color="#b9b9b9"/><stop offset="0.394" stop-color="#c0c0c0"/><stop offset="0.424" stop-color="#c4c4c4"/><stop offset="0.455" stop-color="#c6c6c6"/><stop offset="0.485" stop-color="#c3c3c3"/><stop offset="0.515" stop-color="#bcbcbc"/><stop offset="0.545" stop-color="#b6b6b6"/><stop offset="0.576" stop-color="#b2b2b2"/><stop offset="0.606" stop-color="#afafaf"/><stop offset="0.636" stop-color="#aaaaaa"/><stop offset="0.667" stop-color="#a4a4a4"/><stop offset="0.697" stop-color="#9e9e9e"/><stop offset="0.727" stop-color="#989898"/><stop offset="0.758" stop-color="#939393"/><stop offset="0.788" stop-color="#8f8f8f"/><stop offset="0.818" stop-color="#8d8d8d"/><stop offset="0.848" stop-color="#8c8c8c"/><stop offset="0.879" stop-color="#8c8c8c"/><stop offset="0.909" stop-color="#8e8e8e"/><stop offset="0.939" stop-color="#949494"/><stop offset="0.970" stop-color="#9a9a9a"/><stop offset="1.000" stop-color="#9a9a9a"/></linearGradient><linearGradient id="c11"><stop offset="0.000" stop-color="#626262"/><stop offset="0.030" stop-color="#626262"/><stop offset="0.061" stop-color="#646464"/><stop offset="0.091" stop-color="#666666"/><stop offset="0.121" stop-color="#676767"/><stop offset="0.152" stop-color="#696969"/><stop offset="0.182" stop-color="#6d6d6d"/><stop offset="0.212" stop-color="#717171"/><stop offset="0.242" stop-color="#757575"/><stop offset="0.273" stop-color="#7a7a7a"/><stop offset="0.303" stop-color="#8a8a8a"/><stop offset="0.333" stop-color="#a1a1a1"/><stop offset="0.364" stop-color="#b3b3b3"/><stop offset="0.394" stop-color="#bcbcbc"/><stop offset="0.424" stop-color="#c0c0c0"/><stop offset="0.455" stop-color="#c2c2c2"/><stop offset="0.485" stop-color="#bfbfbf"/><stop offset="0.515" stop-color="#b8b8b8"/><stop offset="0.545" stop-color="#b2b2b2"/><stop offset="0.576" stop-color="#aeaeae"/><stop offset="0.606" stop-color="#ababab"/><stop offset="0.636" stop-color="#a7a7a7"/><stop offset="0.667" stop-color="#a2a2a2"/><stop offset="0.697" stop-color="#9d9d9d"/><stop offset="0.727" stop-color="#979797"/><stop offset="0.758" stop-color="#929292"/><stop offset="0.788" stop-color="#8e8e8e"/><stop offset="0.818" stop-color="#8c8c8c"/><stop offset="0.848" stop-color="#8c8c8c"/><stop offset="0.879" stop-color="#8c8c8c"/><stop offset="0.909" stop-color="#8f8f8f"/><stop offset="0.939" stop-color="#959595"/><stop offset="0.970" stop-color="#9b9b9b"/><stop offset="1.000" stop-color="#9b9b9b"/></linearGradient><linearGradient id="c12"><stop offset="0.000" stop-color="#656565"/><stop offset="0.030" stop-color="#656565"/><stop offset="0.061" stop-color="#666666"/><stop offset="0.091" stop-color="#676767"/><stop offset="0.121" stop-color="#686868"/><stop offset="0.152" stop-color="#6a6a6a"/><stop offset="0.182" stop-color="#6d6d6d"/><stop offset="0.212" stop-color="#717171"/><stop offset="0.242" stop-color="#757575"/><stop offset="0.273" stop-color="#7b7b7b"/><stop offset="0.303" stop-color="#898989"/><stop offset="0.333" stop-color="#9d9d9d"/><stop offset="0.364" stop-color="#adadad"/><stop offset="0.394" stop-color="#b6b6b6"/><stop offset="0.424" stop-color="#bcbcbc"/><stop offset="0.455" stop-color="#bebebe"/><stop offset="0.485" stop-color="#bbbbbb"/><stop offset="0.515" stop-color="#b4b4b4"/><stop offset="0.545" stop-color="#aeaeae"/><stop offset="0.576" stop-color="#aaaaaa"/><stop offset="0.606" stop-color="#a7a7a7"/><stop offset="0.636" stop-color="#a4a4a4"/><stop offset="0.667" stop-color="#a0a0a0"/><stop offset="0.697" stop-color="#9b9b9b"/><stop offset="0.727" stop-color="#969696"/><stop offset="0.758" stop-color="#919191"/><stop offset="0.788" stop-color="#8e8e8e"/><stop offset="0.818" stop-color="#8c8c8c"/><stop offset="0.848" stop-color="#8b8b8b"/><stop offset="0.879" stop-color="#8c8c8c"/><stop offset="0.909" stop-color="#8f8f8f"/><stop offset="0.939" stop-color="#969696"/><stop offset="0.970" stop-color="#9c9c9c"/><stop offset="1.000" stop-color="#9c9c9c"/></linearGradient><linearGradient id="c13"><stop offset="0.000" stop-color="#676767"/><stop offset="0.030" stop-color="#676767"/><stop offset="0.061" stop-color="#686868"/><stop offset="0.091" stop-color="#696969"/><stop offset="0.121" stop-color="#6a6a6a"/><stop offset="0.152" stop-color="#6b6b6b"/><stop offset="0.182" stop-color="#6e6e6e"/><stop offset="0.212" stop-color="#717171"/><stop offset="0.242" stop-color="#757575"/><stop offset="0.273" stop-color="#7c7c7c"/><stop offset="0.303" stop-color="#888888"/><stop offset="0.333" stop-color="#999999"/><stop offset="0.364" stop-color="#a7a7a7"/><stop offset="0.394" stop-color="#b1b1b1"/><stop offset="0.424" stop-color="#b7b7b7"/><stop offset="0.455" stop-color="#b9b9b9"/><stop offset="0.485" stop-color="#b6b6b6"/><stop offset="0.515" stop-color="#b0b0b0"/><stop offset="0.545" stop-color="#aaaaaa"/><stop offset="0.576" stop-color="#a6a6a6"/><stop offset="0.606" stop-color="#a3a3a3"/><stop offset="0.636" stop-color="#a0a0a0"/><stop offset="0.667" stop-color="#9d9d9d"/><stop offset="0.697" stop-color="#999999"/><stop offset="0.727" stop-color="#959595"/><stop offset="0.758" stop-color="#909090"/><stop offset="0.788" stop-color="#8d8d8d"/><stop offset="0.818" stop-color="#8b8b8b"/><stop offset="0.848" stop-color="#8b8b8b"/><stop offset="0.879" stop-color="#8c8c8c"/><stop offset="0.909" stop-color="#909090"/><stop offset="0.939" stop-color="#979797"/><stop offset="0.970" stop-color="#9d9d9d"/><stop offset="1.000" stop-color="#9d9d9d"/></linearGradient><linearGradient id="c14"><stop offset="0.000" stop-color="#696969"/><stop offset="0.030" stop-color="#696969"/><stop offset="0.061" stop-color="#696969"/><stop offset="0.091" stop-color="#6a6a6a"/><stop offset="0.121" stop-color="#6b6b6b"/><stop offset="0.152" stop-color="#6c6c6c"/><stop offset="0.182" stop-color="#6e6e6e"/><stop offset="0.212" stop-color="#717171"/><stop offset="0.242" stop-color="#757575"/><stop offset="0.273" stop-color="#7c7c7c"/><stop offset="0.303" stop-color="#878787"/><stop offset="0.333" stop-color="#949494"/><stop offset="0.364" stop-color="#a1a1a1"/><stop offset="0.394" stop-color="#ababab"/><stop offset="0.424" stop-color="#b2b2b2"/><stop offset="0.455" stop-color="#b4b4b4"/><stop offset="0.485" stop-color="#b2b2b2"/><stop offset="0.515" stop-color="#acacac"/><stop offset="0.545" stop-color="#a6a6a6"/><stop offset="0.576" stop-color="#a2a2a2"/><stop offset="0.606" stop-color="#a0a0a0"/><stop offset="0.636" stop-color="#9d9d9d"/><stop offset="0.667" stop-color="#9b9b9b"/><stop offset="0.697" stop-color="#989898"/><stop offset="0.727" stop-color="#949494"/><stop offset="0.758" stop-color="#8f8f8f"/><stop offset="0.788" stop-color="#8c8c8c"/><stop offset="0.818" stop-color="#8b8b8b"/><stop offset="0.848" stop-color="#8b8b8b"/><stop offset="0.879" stop-color="#8c8c8c"/><stop offset="0.909" stop-color="#8f8f8f"/><stop offset="0.939" stop-color="#979797"/><stop offset="0.970" stop-color="#9e9e9e"/><stop offset="1.000" stop-color="#9e9e9e"/></linearGradient><linearGradient id="c15"><stop offset="0.000" stop-color="#6b6b6b"/><stop offset="0.030" stop-color="#6b6b6b"/><stop offset="0.061" stop-color="#6b6b6b"/><stop offset="0.091" stop-color="#6b6b6b"/><stop offset="0.121" stop-color="#6c6c6c"/><stop offset="0.152" stop-color="#6d6d6d"/><stop offset="0.182" stop-color="#6f6f6f"/><stop offset="0.212" stop-color="#717171"/><stop offset="0.242" stop-color="#757575"/><stop offset="0.273" stop-color="#7b7b7b"/><stop offset="0.303" stop-color="#858585"/><stop offset="0.333" stop-color="#909090"/><stop offset="0.364" stop-color="#9c9c9c"/><stop offset="0.394" stop-color="#a6a6a6"/><stop offset="0.424" stop-color="#adadad"/><stop offset="0.455" stop-color="#b0b0b0"/><stop offset="0.485" stop-color="#aeaeae"/><stop offset="0.515" stop-color="#a8a8a8"/><stop offset="0.545" stop-color="#a3a3a3"/><stop offset="0.576" stop-color="#9f9f9f"/><stop offset="0.606" stop-color="#9c9c9c"/><stop offset="0.636" stop-color="#9a9a9a"/><stop offset="0.667" stop-color="#989898"/><stop offset="0.697" stop-color="#959595"/><stop offset="0.727" stop-color="#929292"/><stop offset="0.758" stop-color="#8e8e8e"/><stop offset="0.788" stop-color="#8b8b8b"/><stop offset="0.818" stop-color="#8a8a8a"/><stop offset="0.848" stop-color="#898989"/><stop offset="0.879" stop-color="#8a8a8a"/><stop offset="0.909" stop-color="#8e8e8e"/><stop offset="0.939" stop-color="#979797"/><stop offset="0.970" stop-color="#9e9e9e"/><stop offset="1.000" stop-color="#9e9e9e"/></linearGradient><linearGradient id="c16"><stop offset="0.000" stop-color="#6d6d6d"/><stop offset="0.030" stop-color="#6d6d6d"/><stop offset="0.061" stop-color="#6c6c6c"/><stop offset="0.091" stop-color="#6c6c6c"/><stop offset="0.121" stop-color="#6c6c6c"/><stop offset="0.152" stop-color="#6d6d6d"/><stop offset="0.182" stop-color="#6f6f6f"/><stop offset="0.212" stop-color="#717171"/><stop offset="0.242" stop-color="#757575"/><stop offset="0.273" stop-color="#7b7b7b"/><stop offset="0.303" stop-color="#828282"/><stop offset="0.333" stop-color="#8c8c8c"/><stop offset="0.364" stop-color="#979797"/><stop offset="0.394" stop-color="#a2a2a2"/><stop offset="0.424" stop-color="#a9a9a9"/><stop offset="0.455" stop-color="#acacac"/><stop offset="0.485" stop-color="#aaaaaa"/><stop offset="0.515" stop-color="#a5a5a5"/><stop offset="0.545" stop-color="#a0a0a0"/><stop offset="0.576" stop-color="#9d9d9d"/><stop offset="0.606" stop-color="#9a9a9a"/><stop offset="0.636" stop-color="#979797"/><stop offset="0.667" stop-color="#949494"/><stop offset="0.697" stop-color="#929292"/><stop offset="0.727" stop-color="#909090"/><stop offset="0.758" stop-color="#8c8c8c"/><stop offset="0.788" stop-color="#8a8a8a"/><stop offset="0.818" stop-color="#888888"/><stop offset="0.848" stop-color="#888888"/><stop offset="0.879" stop-color="#888888"/><stop offset="0.909" stop-color="#8c8c8c"/><stop offset="0.939" stop-color="#959595"/><stop offset="0.970" stop-color="#9e9e9e"/><stop offset="1.000" stop-color="#9e9e9e"/></linearGradient><linearGradient id="c17"><stop offset="0.000" stop-color="#6e6e6e"/><stop offset="0.030" stop-color="#6e6e6e"/><stop offset="0.061" stop-color="#6d6d6d"/><stop offset="0.091" stop-color="#6c6c6c"/><stop offset="0.121" stop-color="#6d6d6d"/><stop offset="0.152" stop-color="#6e6e6e"/><stop offset="0.182" stop-color="#6f6f6f"/><stop offset="0.212" stop-color="#717171"/><stop offset="0.242" stop-color="#747474"/><stop offset="0.273" stop-color="#797979"/><stop offset="0.303" stop-color="#808080"/><stop offset="0.333" stop-color="#888888"/><stop offset="0.364" stop-color="#929292"/><stop offset="0.394" stop-color="#9d9d9d"/><stop offset="0.424" stop-color="#a5a5a5"/><stop offset="0.455" stop-color="#a8a8a8"/><stop offset="0.485" stop-color="#a6a6a6"/><stop offset="0.515" stop-color="#a2a2a2"/><stop offset="0.545" stop-color="#9e9e9e"/><stop offset="0.576" stop-color="#9b9b9b"/><stop offset="0.606" stop-color="#979797"/><stop offset="0.636" stop-color="#949494"/><stop offset="0.667" stop-color="#919191"/><stop offset="0.697" stop-color="#8f8f8f"/><stop offset="0.727" stop-color="#8d8d8d"/><stop offset="0.758" stop-color="#8a8a8a"/><stop offset="0.788" stop-color="#888888"/><stop offset="0.818" stop-color="#878787"/><stop offset="0.848" stop-color="#868686"/><stop offset="0.879" stop-color="#868686"/><stop offset="0.909" stop-color="#8a8a8a"/><stop offset="0.939" stop-color="#949494"/><stop offset="0.970" stop-color="#9d9d9d"/><stop offset="1.000" stop-color="#9d9d9d"/></linearGradient><linearGradient id="c18"><stop offset="0.000" stop-color="#707070"/><stop offset="0.030" stop-color="#707070"/><stop offset="0.061" stop-color="#6e6e6e"/><stop offset="0.091" stop-color="#6d6d6d"/><stop offset="0.121" stop-color="#6d6d6d"/><stop offset="0.152" stop-color="#6e6e6e"/><stop offset="0.182" stop-color="#6f6f6f"/><stop offset="0.212" stop-color="#707070"/><stop offset="0.242" stop-color="#737373"/><stop offset="0.273" stop-color="#787878"/><stop offset="0.303" stop-color="#7d7d7d"/><stop offset="0.333" stop-color="#848484"/><stop offset="0.364" stop-color="#8e8e8e"/><stop offset="0.394" stop-color="#999999"/><stop offset="0.424" stop-color="#a1a1a1"/><stop offset="0.455" stop-color="#a3a3a3"/><stop offset="0.485" stop-color="#a2a2a2"/><stop offset="0.515" stop-color="#9f9f9f"/><stop offset="0.545" stop-color="#9c9c9c"/><stop offset="0.576" stop-color="#989898"/><stop offset="0.606" stop-color="#959595"/><stop offset="0.636" stop-color="#909090"/><stop offset="0.667" stop-color="#8d8d8d"/><stop offset="0.697" stop-color="#8c8c8c"/><stop offset="0.727" stop-color="#8a8a8a"/><stop offset="0.758" stop-color="#888888"/><stop offset="0.788" stop-color="#868686"/><stop offset="0.818" stop-color="#858585"/><stop offset="0.848" stop-color="#848484"/><stop offset="0.879" stop-color="#838383"/><stop offset="0.909" stop-color="#878787"/><stop offset="0.939" stop-color="#929292"/><stop offset="0.970" stop-color="#9c9c9c"/><stop offset="1.000" stop-color="#9c9c9c"/></linearGradient><linearGradient id="c19"><stop offset="0.000" stop-color="#717171"/><stop offset="0.030" stop-color="#717171"/><stop offset="0.061" stop-color="#6f6f6f"/><stop offset="0.091" stop-color="#6e6e6e"/><stop offset="0.121" stop-color="#6d6d6d"/><stop offset="0.152" stop-color="#6e6e6e"/><stop offset="0.182" stop-color="#6f6f6f"/><stop offset="0.212" stop-color="#707070"/><stop offset="0.242" stop-color="#727272"/><stop offset="0.273" stop-color="#767676"/><stop offset="0.303" stop-color="#7a7a7a"/><stop offset="0.333" stop-color="#808080"/><stop offset="0.364" stop-color="#8a8a8a"/><stop offset="0.394" stop-color="#959595"/><stop offset="0.424" stop-color="#9d9d9d"/><stop offset="0.455" stop-color="#9f9f9f"/><stop offset="0.485" stop-color="#9e9e9e"/><stop offset="0.515" stop-color="#9b9b9b"/><stop offset="0.545" stop-color="#989898"/><stop offset="0.576" stop-color="#959595"/><stop offset="0.606" stop-color="#929292"/><stop offset="0.636" stop-color="#8d8d8d"/><stop offset="0.667" stop-color="#8a8a8a"/><stop offset="0.697" stop-color="#898989"/><stop offset="0.727" stop-color="#888888"/><stop offset="0.758" stop-color="#868686"/><stop offset="0.788" stop-color="#848484"/><stop offset="0.818" stop-color="#838383"/><stop offset="0.848" stop-color="#818181"/><stop offset="0.879" stop-color="#818181"/><stop offset="0.909" stop-color="#868686"/><stop offset="0.939" stop-color="#919191"/><stop offset="0.970" stop-color="#9d9d9d"/><stop offset="1.000" stop-color="#9d9d9d"/></linearGradient><linearGradient id="c20"><stop offset="0.000" stop-color="#727272"/><stop offset="0.030" stop-color="#727272"/><stop offset="0.061" stop-color="#707070"/><stop offset="0.091" stop-color="#6e6e6e"/><stop offset="0.121" stop-color="#6d6d6d"/><stop offset="0.152" stop-color="#6d6d6d"/><stop offset="0.182" stop-color="#6e6e6e"/><stop offset="0.212" stop-color="#707070"/><stop offset="0.242" stop-color="#727272"/><stop offset="0.273" stop-color="#747474"/><stop offset="0.303" stop-color="#787878"/><stop offset="0.333" stop-color="#7d7d7d"/><stop offset="0.364" stop-color="#868686"/><stop offset="0.394" stop-color="#919191"/><stop offset="0.424" stop-color="#989898"/><stop offset="0.455" stop-color="#9a9a9a"/><stop offset="0.485" stop-color="#999999"/><stop offset="0.515" stop-color="#979797"/><stop offset="0.545" stop-color="#949494"/><stop offset="0.576" stop-color="#919191"/><stop offset="0.606" stop-color="#8e8e8e"/><stop offset="0.636" stop-color="#8a8a8a"/><stop offset="0.667" stop-color="#878787"/><stop offset="0.697" stop-color="#868686"/><stop offset="0.727" stop-color="#858585"/><stop offset="0.758" stop-color="#838383"/><stop offset="0.788" stop-color="#828282"/><stop offset="0.818" stop-color="#818181"/><stop offset="0.848" stop-color="#7f7f7f"/><stop offset="0.879" stop-color="#808080"/><stop offset="0.909" stop-color="#858585"/><stop offset="0.939" stop-color="#929292"/><stop offset="0.970" stop-color="#9e9e9e"/><stop offset="1.000" stop-color="#9e9e9e"/></linearGradient><linearGradient id="c21"><stop offset="0.000" stop-color="#747474"/><stop offset="0.030" stop-color="#747474"/><stop offset="0.061" stop-color="#727272"/><stop offset="0.091" stop-color="#6f6f6f"/><stop offset="0.121" stop-color="#6d6d6d"/><stop offset="0.152" stop-color="#6d6d6d"/><stop offset="0.182" stop-color="#6e6e6e"/><stop offset="0.212" stop-color="#6f6f6f"/><stop offset="0.242" stop-color="#717171"/><stop offset="0.273" stop-color="#737373"/><stop offset="0.303" stop-color="#757575"/><stop offset="0.333" stop-color="#797979"/><stop offset="0.364" stop-color="#828282"/><stop offset="0.394" stop-color="#8c8c8c"/><stop offset="0.424" stop-color="#939393"/><stop offset="0.455" stop-color="#959595"/><stop offset="0.485" stop-color="#949494"/><stop offset="0.515" stop-color="#919191"/><stop offset="0.545" stop-color="#8e8e8e"/><stop offset="0.576" stop-color="#8c8c8c"/><stop offset="0.606" stop-color="#898989"/><stop offset="0.636" stop-color="#868686"/><stop offset="0.667" stop-color="#848484"/><stop offset="0.697" stop-color="#838383"/><stop offset="0.727" stop-color="#828282"/><stop offset="0.758" stop-color="#818181"/><stop offset="0.788" stop-color="#7f7f7f"/><stop offset="0.818" stop-color="#7e7e7e"/><stop offset="0.848" stop-color="#7e7e7e"/><stop offset="0.879" stop-color="#808080"/><stop offset="0.909" stop-color="#868686"/><stop offset="0.939" stop-color="#949494"/><stop offset="0.970" stop-color="#a0a0a0"/><stop offset="1.000" stop-color="#a0a0a0"/></linearGradient><linearGradient id="c22"><stop offset="0.000" stop-color="#767676"/><stop offset="0.030" stop-color="#767676"/><stop offset="0.061" stop-color="#737373"/><stop offset="0.091" stop-color="#707070"/><stop offset="0.121" stop-color="#6e6e6e"/><stop offset="0.152" stop-color="#6d6d6d"/><stop offset="0.182" stop-color="#6d6d6d"/><stop offset="0.212" stop-color="#6e6e6e"/><stop offset="0.242" stop-color="#707070"/><stop offset="0.273" stop-color="#717171"/><stop offset="0.303" stop-color="#737373"/><stop offset="0.333" stop-color="#767676"/><stop offset="0.364" stop-color="#7e7e7e"/><stop offset="0.394" stop-color="#878787"/><stop offset="0.424" stop-color="#8e8e8e"/><stop offset="0.455" stop-color="#909090"/><stop offset="0.485" stop-color="#8e8e8e"/><stop offset="0.515" stop-color="#8a8a8a"/><stop offset="0.545" stop-color="#878787"/><stop offset="0.576" stop-color="#858585"/><stop offset="0.606" stop-color="#848484"/><stop offset="0.636" stop-color="#828282"/><stop offset="0.667" stop-color="#818181"/><stop offset="0.697" stop-color="#818181"/><stop offset="0.727" stop-color="#808080"/><stop offset="0.758" stop-color="#7e7e7e"/><stop offset="0.788" stop-color="#7d7d7d"/><stop offset="0.818" stop-color="#7c7c7c"/><stop offset="0.848" stop-color="#7d7d7d"/><stop offset="0.879" stop-color="#818181"/><stop offset="0.909" stop-color="#898989"/><stop offset="0.939" stop-color="#989898"/><stop offset="0.970" stop-color="#a4a4a4"/><stop offset="1.000" stop-color="#a4a4a4"/></linearGradient><linearGradient id="c23"><stop offset="0.000" stop-color="#787878"/><stop offset="0.030" stop-color="#787878"/><stop offset="0.061" stop-color="#757575"/><stop offset="0.091" stop-color="#707070"/><stop offset="0.121" stop-color="#6e6e6e"/><stop offset="0.152" stop-color="#6d6d6d"/><stop offset="0.182" stop-color="#6d6d6d"/><stop offset="0.212" stop-color="#6e6e6e"/><stop offset="0.242" stop-color="#6e6e6e"/><stop offset="0.273" stop-color="#6f6f6f"/><stop offset="0.303" stop-color="#707070"/><stop offset="0.333" stop-color="#737373"/><stop offset="0.364" stop-color="#7a7a7a"/><stop offset="0.394" stop-color="#828282"/><stop offset="0.424" stop-color="#888888"/><stop offset="0.455" stop-color="#8a8a8a"/><stop offset="0.485" stop-color="#878787"/><stop offset="0.515" stop-color="#828282"/><stop offset="0.545" stop-color="#7f7f7f"/><stop offset="0.576" stop-color="#7e7e7e"/><stop offset="0.606" stop-color="#7e7e7e"/><stop offset="0.636" stop-color="#7e7e7e"/><stop offset="0.667" stop-color="#7e7e7e"/><stop offset="0.697" stop-color="#7e7e7e"/><stop offset="0.727" stop-color="#7d7d7d"/><stop offset="0.758" stop-color="#7b7b7b"/><stop offset="0.788" stop-color="#7a7a7a"/><stop offset="0.818" stop-color="#7a7a7a"/><stop offset="0.848" stop-color="#7c7c7c"/><stop offset="0.879" stop-color="#838383"/><stop offset="0.909" stop-color="#8d8d8d"/><stop offset="0.939" stop-color="#9d9d9d"/><stop offset="0.970" stop-color="#a9a9a9"/><stop offset="1.000" stop-color="#a9a9a9"/></linearGradient><linearGradient id="c24"><stop offset="0.000" stop-color="#7b7b7b"/><stop offset="0.030" stop-color="#7b7b7b"/><stop offset="0.061" stop-color="#777777"/><stop offset="0.091" stop-color="#717171"/><stop offset="0.121" stop-color="#6e6e6e"/><stop offset="0.152" stop-color="#6c6c6c"/><stop offset="0.182" stop-color="#6c6c6c"/><stop offset="0.212" stop-color="#6d6d6d"/><stop offset="0.242" stop-color="#6d6d6d"/><stop offset="0.273" stop-color="#6e6e6e"/><stop offset="0.303" stop-color="#6e6e6e"/><stop offset="0.333" stop-color="#707070"/><stop offset="0.364" stop-color="#767676"/><stop offset="0.394" stop-color="#7d7d7d"/><stop offset="0.424" stop-color="#838383"/><stop offset="0.455" stop-color="#838383"/><stop offset="0.485" stop-color="#808080"/><stop offset="0.515" stop-color="#7a7a7a"/><stop offset="0.545" stop-color="#777777"/><stop offset="0.576" stop-color="#767676"/><stop offset="0.606" stop-color="#777777"/><stop offset="0.636" stop-color="#7a7a7a"/><stop offset="0.667" stop-color="#7c7c7c"/><stop offset="0.697" stop-color="#7c7c7c"/><stop offset="0.727" stop-color="#7b7b7b"/><stop offset="0.758" stop-color="#797979"/><stop offset="0.788" stop-color="#777777"/><stop offset="0.818" stop-color="#777777"/><stop offset="0.848" stop-color="#7c7c7c"/><stop offset="0.879" stop-color="#858585"/><stop offset="0.909" stop-color="#929292"/><stop offset="0.939" stop-color="#a3a3a3"/><stop offset="0.970" stop-color="#aeaeae"/><stop offset="1.000" stop-color="#aeaeae"/></linearGradient><linearGradient id="c25"><stop offset="0.000" stop-color="#7e7e7e"/><stop offset="0.030" stop-color="#7e7e7e"/><stop offset="0.061" stop-color="#797979"/><stop offset="0.091" stop-color="#727272"/><stop offset="0.121" stop-color="#6e6e6e"/><stop offset="0.152" stop-color="#6c6c6c"/><stop offset="0.182" stop-color="#6b6b6b"/><stop offset="0.212" stop-color="#6c6c6c"/><stop offset="0.242" stop-color="#6c6c6c"/><stop offset="0.273" stop-color="#6c6c6c"/><stop offset="0.303" stop-color="#6c6c6c"/><stop offset="0.333" stop-color="#6e6e6e"/><stop offset="0.364" stop-color="#727272"/><stop offset="0.394" stop-color="#787878"/><stop offset="0.424" stop-color="#7d7d7d"/><stop offset="0.455" stop-color="#7d7d7d"/><stop offset="0.485" stop-color="#797979"/><stop offset="0.515" stop-color="#727272"/><stop offset="0.545" stop-color="#6e6e6e"/><stop offset="0.576" stop-color="#6e6e6e"/><stop offset="0.606" stop-color="#717171"/><stop offset="0.636" stop-color="#757575"/><stop offset="0.667" stop-color="#797979"/><stop offset="0.697" stop-color="#7a7a7a"/><stop offset="0.727" stop-color="#787878"/><stop offset="0.758" stop-color="#767676"/><stop offset="0.788" stop-color="#747474"/><stop offset="0.818" stop-color="#757575"/><stop offset="0.848" stop-color="#7c7c7c"/><stop offset="0.879" stop-color="#888888"/><stop offset="0.909" stop-color="#989898"/><stop offset="0.939" stop-color="#aaaaaa"/><stop offset="0.970" stop-color="#b4b4b4"/><stop offset="1.000" stop-color="#b4b4b4"/></linearGradient><linearGradient id="c26"><stop offset="0.000" stop-color="#818181"/><stop offset="0.030" stop-color="#818181"/><stop offset="0.061" stop-color="#7b7b7b"/><stop offset="0.091" stop-color="#737373"/><stop offset="0.121" stop-color="#6e6e6e"/><stop offset="0.152" stop-color="#6b6b6b"/><stop offset="0.182" stop-color="#6a6a6a"/><stop offset="0.212" stop-color="#6a6a6a"/><stop offset="0.242" stop-color="#6b6b6b"/><stop offset="0.273" stop-color="#6a6a6a"/><stop offset="0.303" stop-color="#6a6a6a"/><stop offset="0.333" stop-color="#6b6b6b"/><stop offset="0.364" stop-color="#6f6f6f"/><stop offset="0.394" stop-color="#737373"/><stop offset="0.424" stop-color="#777777"/><stop offset="0.455" stop-color="#777777"/><stop offset="0.485" stop-color="#727272"/><stop offset="0.515" stop-color="#6b6b6b"/><stop offset="0.545" stop-color="#666666"/><stop offset="0.576" stop-color="#666666"/><stop offset="0.606" stop-color="#6b6b6b"/><stop offset="0.636" stop-color="#717171"/><stop offset="0.667" stop-color="#767676"/><stop offset="0.697" stop-color="#777777"/><stop offset="0.727" stop-color="#767676"/><stop offset="0.758" stop-color="#737373"/><stop offset="0.788" stop-color="#717171"/><stop offset="0.818" stop-color="#747474"/><stop offset="0.848" stop-color="#7d7d7d"/><stop offset="0.879" stop-color="#8c8c8c"/><stop offset="0.909" stop-color="#9f9f9f"/><stop offset="0.939" stop-color="#b1b1b1"/><stop offset="0.970" stop-color="#bababa"/><stop offset="1.000" stop-color="#bababa"/></linearGradient><linearGradient id="c27"><stop offset="0.000" stop-color="#848484"/><stop offset="0.030" stop-color="#848484"/><stop offset="0.061" stop-color="#7d7d7d"/><stop offset="0.091" stop-color="#747474"/><stop offset="0.121" stop-color="#6e6e6e"/><stop offset="0.152" stop-color="#6b6b6b"/><stop offset="0.182" stop-color="#696969"/><stop offset="0.212" stop-color="#696969"/><stop offset="0.242" stop-color="#696969"/><stop offset="0.273" stop-color="#696969"/><stop offset="0.303" stop-color="#696969"/><stop offset="0.333" stop-color="#696969"/><stop offset="0.364" stop-color="#6b6b6b"/><stop offset="0.394" stop-color="#6f6f6f"/><stop offset="0.424" stop-color="#717171"/><stop offset="0.455" stop-color="#717171"/><stop offset="0.485" stop-color="#6b6b6b"/><stop offset="0.515" stop-color="#646464"/><stop offset="0.545" stop-color="#5f5f5f"/><stop offset="0.576" stop-color="#5f5f5f"/><stop offset="0.606" stop-color="#656565"/><stop offset="0.636" stop-color="#6c6c6c"/><stop offset="0.667" stop-color="#727272"/><stop offset="0.697" stop-color="#747474"/><stop offset="0.727" stop-color="#737373"/><stop offset="0.758" stop-color="#707070"/><stop offset="0.788" stop-color="#6f6f6f"/><stop offset="0.818" stop-color="#727272"/><stop offset="0.848" stop-color="#7e7e7e"/><stop offset="0.879" stop-color="#909090"/><stop offset="0.909" stop-color="#a5a5a5"/><stop offset="0.939" stop-color="#b8b8b8"/><stop offset="0.970" stop-color="#c0c0c0"/><stop offset="1.000" stop-color="#c0c0c0"/></linearGradient><linearGradient id="c28"><stop offset="0.000" stop-color="#888888"/><stop offset="0.030" stop-color="#888888"/><stop offset="0.061" stop-color="#7f7f7f"/><stop offset="0.091" stop-color="#747474"/><stop offset="0.121" stop-color="#6e6e6e"/><stop offset="0.152" stop-color="#6a6a6a"/><stop offset="0.182" stop-color="#686868"/><stop offset="0.212" stop-color="#676767"/><stop offset="0.242" stop-color="#676767"/><stop offset="0.273" stop-color="#676767"/><stop offset="0.303" stop-color="#676767"/><stop offset="0.333" stop-color="#676767"/><stop offset="0.364" stop-color="#686868"/><stop offset="0.394" stop-color="#6a6a6a"/><stop offset="0.424" stop-color="#6c6c6c"/><stop offset="0.455" stop-color="#6a6a6a"/><stop offset="0.485" stop-color="#656565"/><stop offset="0.515" stop-color="#5e5e5e"/><stop offset="0.545" stop-color="#595959"/><stop offset="0.576" stop-color="#5a5a5a"/><stop offset="0.606" stop-color="#5f5f5f"/><stop offset="0.636" stop-color="#686868"/><stop offset="0.667" stop-color="#6e6e6e"/><stop offset="0.697" stop-color="#707070"/><stop offset="0.727" stop-color="#6f6f6f"/><stop offset="0.758" stop-color="#6d6d6d"/><stop offset="0.788" stop-color="#6c6c6c"/><stop offset="0.818" stop-color="#717171"/><stop offset="0.848" stop-color="#7f7f7f"/><stop offset="0.879" stop-color="#949494"/><stop offset="0.909" stop-color="#ababab"/><stop offset="0.939" stop-color="#bebebe"/><stop offset="0.970" stop-color="#c4c4c4"/><stop offset="1.000" stop-color="#c4c4c4"/></linearGradient><linearGradient id="c29"><stop offset="0.000" stop-color="#8c8c8c"/><stop offset="0.030" stop-color="#8c8c8c"/><stop offset="0.061" stop-color="#818181"/><stop offset="0.091" stop-color="#757575"/><stop offset="0.121" stop-color="#6d6d6d"/><stop offset="0.152" stop-color="#696969"/><stop offset="0.182" stop-color="#676767"/><stop offset="0.212" stop-color="#666666"/><stop offset="0.242" stop-color="#656565"/><stop offset="0.273" stop-color="#666666"/><stop offset="0.303" stop-color="#666666"/><stop offset="0.333" stop-color="#656565"/><stop offset="0.364" stop-color="#656565"/><stop offset="0.394" stop-color="#666666"/><stop offset="0.424" stop-color="#666666"/><stop offset="0.455" stop-color="#656565"/><stop offset="0.485" stop-color="#606060"/><stop offset="0.515" stop-color="#595959"/><stop offset="0.545" stop-color="#555555"/><stop offset="0.576" stop-color="#565656"/><stop offset="0.606" stop-color="#5b5b5b"/><stop offset="0.636" stop-color="#636363"/><stop offset="0.667" stop-color="#696969"/><stop offset="0.697" stop-color="#6c6c6c"/><stop offset="0.727" stop-color="#6b6b6b"/><stop offset="0.758" stop-color="#6a6a6a"/><stop offset="0.788" stop-color="#6b6b6b"/><stop offset="0.818" stop-color="#717171"/><stop offset="0.848" stop-color="#808080"/><stop offset="0.879" stop-color="#989898"/><stop offset="0.909" stop-color="#b1b1b1"/><stop offset="0.939" stop-color="#c3c3c3"/><stop offset="0.970" stop-color="#c8c8c8"/><stop offset="1.000" stop-color="#c8c8c8"/></linearGradient><linearGradient id="c30"><stop offset="0.000" stop-color="#909090"/><stop offset="0.030" stop-color="#909090"/><stop offset="0.061" stop-color="#848484"/><stop offset="0.091" stop-color="#757575"/><stop offset="0.121" stop-color="#6d6d6d"/><stop offset="0.152" stop-color="#686868"/><stop offset="0.182" stop-color="#666666"/><stop offset="0.212" stop-color="#646464"/><stop offset="0.242" stop-color="#636363"/><stop offset="0.273" stop-color="#646464"/><stop offset="0.303" stop-color="#646464"/><stop offset="0.333" stop-color="#636363"/><stop offset="0.364" stop-color="#626262"/><stop offset="0.394" stop-color="#626262"/><stop offset="0.424" stop-color="#616161"/><stop offset="0.455" stop-color="#5f5f5f"/><stop offset="0.485" stop-color="#5b5b5b"/><stop offset="0.515" stop-color="#565656"/><stop offset="0.545" stop-color="#535353"/><stop offset="0.576" stop-color="#535353"/><stop offset="0.606" stop-color="#585858"/><stop offset="0.636" stop-color="#5e5e5e"/><stop offset="0.667" stop-color="#636363"/><stop offset="0.697" stop-color="#666666"/><stop offset="0.727" stop-color="#676767"/><stop offset="0.758" stop-color="#676767"/><stop offset="0.788" stop-color="#696969"/><stop offset="0.818" stop-color="#717171"/><stop offset="0.848" stop-color="#828282"/><stop offset="0.879" stop-color="#9b9b9b"/><stop offset="0.909" stop-color="#b5b5b5"/><stop offset="0.939" stop-color="#c7c7c7"/><stop offset="0.970" stop-color="#cbcbcb"/><stop offset="1.000" stop-color="#cbcbcb"/></linearGradient><linearGradient id="c31"><stop offset="0.000" stop-color="#949494"/><stop offset="0.030" stop-color="#949494"/><stop offset="0.061" stop-color="#868686"/><stop offset="0.091" stop-color="#757575"/><stop offset="0.121" stop-color="#6c6c6c"/><stop offset="0.152" stop-color="#686868"/><stop offset="0.182" stop-color="#646464"/><stop offset="0.212" stop-color="#616161"/><stop offset="0.242" stop-color="#616161"/><stop offset="0.273" stop-color="#636363"/><stop offset="0.303" stop-color="#636363"/><stop offset="0.333" stop-color="#626262"/><stop offset="0.364" stop-color="#606060"/><stop offset="0.394" stop-color="#5f5f5f"/><stop offset="0.424" stop-color="#5d5d5d"/><stop offset="0.455" stop-color="#5b5b5b"/><stop offset="0.485" stop-color="#585858"/><stop offset="0.515" stop-color="#555555"/><stop offset="0.545" stop-color="#535353"/><stop offset="0.576" stop-color="#535353"/><stop offset="0.606" stop-color="#565656"/><stop offset="0.636" stop-color="#5a5a5a"/><stop offset="0.667" stop-color="#5d5d5d"/><stop offset="0.697" stop-color="#606060"/><stop offset="0.727" stop-color="#626262"/><stop offset="0.758" stop-color="#646464"/><stop offset="0.788" stop-color="#686868"/><stop offset="0.818" stop-color="#727272"/><stop offset="0.848" stop-color="#848484"/><stop offset="0.879" stop-color="#9e9e9e"/><stop offset="0.909" stop-color="#b8b8b8"/><stop offset="0.939" stop-color="#c9c9c9"/><stop offset="0.970" stop-color="#cccccc"/><stop offset="1.000" stop-color="#cccccc"/></linearGradient><linearGradient id="c32"><stop offset="0.000" stop-color="#949494"/><stop offset="0.030" stop-color="#949494"/><stop offset="0.061" stop-color="#868686"/><stop offset="0.091" stop-color="#757575"/><stop offset="0.121" stop-color="#6c6c6c"/><stop offset="0.152" stop-color="#686868"/><stop offset="0.182" stop-color="#646464"/><stop offset="0.212" stop-color="#616161"/><stop offset="0.242" stop-color="#616161"/><stop offset="0.273" stop-color="#636363"/><stop offset="0.303" stop-color="#636363"/><stop offset="0.333" stop-color="#626262"/><stop offset="0.364" stop-color="#606060"/><stop offset="0.394" stop-color="#5f5f5f"/><stop offset="0.424" stop-color="#5d5d5d"/><stop offset="0.455" stop-color="#5b5b5b"/><stop offset="0.485" stop-color="#585858"/><stop offset="0.515" stop-color="#555555"/><stop offset="0.545" stop-color="#535353"/><stop offset="0.576" stop-color="#535353"/><stop offset="0.606" stop-color="#565656"/><stop offset="0.636" stop-color="#5a5a5a"/><stop offset="0.667" stop-color="#5d5d5d"/><stop offset="0.697" stop-color="#606060"/><stop offset="0.727" stop-color="#626262"/><stop offset="0.758" stop-color="#646464"/><stop offset="0.788" stop-color="#686868"/><stop offset="0.818" stop-color="#727272"/><stop offset="0.848" stop-color="#848484"/><stop offset="0.879" stop-color="#9e9e9e"/><stop offset="0.909" stop-color="#b8b8b8"/><stop offset="0.939" stop-color="#c9c9c9"/><stop offset="0.970" stop-color="#cccccc"/><stop offset="1.000" stop-color="#cccccc"/></linearGradient><linearGradient id="c33"><stop offset="0.000" stop-color="#949494"/><stop offset="0.030" stop-color="#949494"/><stop offset="0.061" stop-color="#868686"/><stop offset="0.091" stop-color="#757575"/><stop offset="0.121" stop-color="#6c6c6c"/><stop offset="0.152" stop-color="#686868"/><stop offset="0.182" stop-color="#646464"/><stop offset="0.212" stop-color="#616161"/><stop offset="0.242" stop-color="#616161"/><stop offset="0.273" stop-color="#636363"/><stop offset="0.303" stop-color="#636363"/><stop offset="0.333" stop-color="#626262"/><stop offset="0.364" stop-color="#606060"/><stop offset="0.394" stop-color="#5f5f5f"/><stop offset="0.424" stop-color="#5d5d5d"/><stop offset="0.455" stop-color="#5b5b5b"/><stop offset="0.485" stop-color="#585858"/><stop offset="0.515" stop-color="#555555"/><stop offset="0.545" stop-color="#535353"/><stop offset="0.576" stop-color="#535353"/><stop offset="0.606" stop-color="#565656"/><stop offset="0.636" stop-color="#5a5a5a"/><stop offset="0.667" stop-color="#5d5d5d"/><stop offset="0.697" stop-color="#606060"/><stop offset="0.727" stop-color="#626262"/><stop offset="0.758" stop-color="#646464"/><stop offset="0.788" stop-color="#686868"/><stop offset="0.818" stop-color="#727272"/><stop offset="0.848" stop-color="#848484"/><stop offset="0.879" stop-color="#9e9e9e"/><stop offset="0.909" stop-color="#b8b8b8"/><stop offset="0.939" stop-color="#c9c9c9"/><stop offset="0.970" stop-color="#cccccc"/><stop offset="1.000" stop-color="#cccccc"/></linearGradient><linearGradient id="c34"><stop offset="0.000" stop-color="#949494"/><stop offset="0.030" stop-color="#949494"/><stop offset="0.061" stop-color="#868686"/><stop offset="0.091" stop-color="#757575"/><stop offset="0.121" stop-color="#6c6c6c"/><stop offset="0.152" stop-color="#686868"/><stop offset="0.182" stop-color="#646464"/><stop offset="0.212" stop-color="#616161"/><stop offset="0.242" stop-color="#616161"/><stop offset="0.273" stop-color="#636363"/><stop offset="0.303" stop-color="#636363"/><stop offset="0.333" stop-color="#626262"/><stop offset="0.364" stop-color="#606060"/><stop offset="0.394" stop-color="#5f5f5f"/><stop offset="0.424" stop-color="#5d5d5d"/><stop offset="0.455" stop-color="#5b5b5b"/><stop offset="0.485" stop-color="#585858"/><stop offset="0.515" stop-color="#555555"/><stop offset="0.545" stop-color="#535353"/><stop offset="0.576" stop-color="#535353"/><stop offset="0.606" stop-color="#565656"/><stop offset="0.636" stop-color="#5a5a5a"/><stop offset="0.667" stop-color="#5d5d5d"/><stop offset="0.697" stop-color="#606060"/><stop offset="0.727" stop-color="#626262"/><stop offset="0.758" stop-color="#646464"/><stop offset="0.788" stop-color="#686868"/><stop offset="0.818" stop-color="#727272"/><stop offset="0.848" stop-color="#848484"/><stop offset="0.879" stop-color="#9e9e9e"/><stop offset="0.909" stop-color="#b8b8b8"/><stop offset="0.939" stop-color="#c9c9c9"/><stop offset="0.970" stop-color="#cccccc"/><stop offset="1.000" stop-color="#cccccc"/></linearGradient><linearGradient id="c35"><stop offset="0.000" stop-color="#949494"/><stop offset="0.030" stop-color="#949494"/><stop offset="0.061" stop-color="#868686"/><stop offset="0.091" stop-color="#757575"/><stop offset="0.121" stop-color="#6c6c6c"/><stop offset="0.152" stop-color="#686868"/><stop offset="0.182" stop-color="#646464"/><stop offset="0.212" stop-color="#616161"/><stop offset="0.242" stop-color="#616161"/><stop offset="0.273" stop-color="#636363"/><stop offset="0.303" stop-color="#636363"/><stop offset="0.333" stop-color="#626262"/><stop offset="0.364" stop-color="#606060"/><stop offset="0.394" stop-color="#5f5f5f"/><stop offset="0.424" stop-color="#5d5d5d"/><stop offset="0.455" stop-color="#5b5b5b"/><stop offset="0.485" stop-color="#585858"/><stop offset="0.515" stop-color="#555555"/><stop offset="0.545" stop-color="#535353"/><stop offset="0.576" stop-color="#535353"/><stop offset="0.606" stop-color="#565656"/><stop offset="0.636" stop-color="#5a5a5a"/><stop offset="0.667" stop-color="#5d5d5d"/><stop offset="0.697" stop-color="#606060"/><stop offset="0.727" stop-color="#626262"/><stop offset="0.758" stop-color="#646464"/><stop offset="0.788" stop-color="#686868"/><stop offset="0.818" stop-color="#727272"/><stop offset="0.848" stop-color="#848484"/><stop offset="0.879" stop-color="#9e9e9e"/><stop offset="0.909" stop-color="#b8b8b8"/><stop offset="0.939" stop-color="#c9c9c9"/><stop offset="0.970" stop-color="#cccccc"/><stop offset="1.000" stop-color="#cccccc"/></linearGradient><linearGradient id="c36"><stop offset="0.000" stop-color="#949494"/><stop offset="0.030" stop-color="#949494"/><stop offset="0.061" stop-color="#868686"/><stop offset="0.091" stop-color="#757575"/><stop offset="0.121" stop-color="#6c6c6c"/><stop offset="0.152" stop-color="#686868"/><stop offset="0.182" stop-color="#646464"/><stop offset="0.212" stop-color="#616161"/><stop offset="0.242" stop-color="#616161"/><stop offset="0.273" stop-color="#636363"/><stop offset="0.303" stop-color="#636363"/><stop offset="0.333" stop-color="#626262"/><stop offset="0.364" stop-color="#606060"/><stop offset="0.394" stop-color="#5f5f5f"/><stop offset="0.424" stop-color="#5d5d5d"/><stop offset="0.455" stop-color="#5b5b5b"/><stop offset="0.485" stop-color="#585858"/><stop offset="0.515" stop-color="#555555"/><stop offset="0.545" stop-color="#535353"/><stop offset="0.576" stop-color="#535353"/><stop offset="0.606" stop-color="#565656"/><stop offset="0.636" stop-color="#5a5a5a"/><stop offset="0.667" stop-color="#5d5d5d"/><stop offset="0.697" stop-color="#606060"/><stop offset="0.727" stop-color="#626262"/><stop offset="0.758" stop-color="#646464"/><stop offset="0.788" stop-color="#686868"/><stop offset="0.818" stop-color="#727272"/><stop offset="0.848" stop-color="#848484"/><stop offset="0.879" stop-color="#9e9e9e"/><stop offset="0.909" stop-color="#b8b8b8"/><stop offset="0.939" stop-color="#c9c9c9"/><stop offset="0.970" stop-color="#cccccc"/><stop offset="1.000" stop-color="#cccccc"/></linearGradient><linearGradient id="d0"><stop offset="0.000" stop-color="#808080"/><stop offset="0.030" stop-color="#808080"/><stop offset="0.061" stop-color="#808080"/><stop offset="0.091" stop-color="#808080"/><stop offset="0.121" stop-color="#7f7f7f"/><stop offset="0.152" stop-color="#7e7e7e"/><stop offset="0.182" stop-color="#7c7c7c"/><stop offset="0.212" stop-color="#7b7b7b"/><stop offset="0.242" stop-color="#797979"/><stop offset="0.273" stop-color="#787878"/><stop offset="0.303" stop-color="#787878"/><stop offset="0.333" stop-color="#7a7a7a"/><stop offset="0.364" stop-color="#7a7a7a"/><stop offset="0.394" stop-color="#7a7a7a"/><stop offset="0.424" stop-color="#7b7b7b"/><stop offset="0.455" stop-color="#7f7f7f"/><stop offset="0.485" stop-color="#838383"/><stop offset="0.515" stop-color="#868686"/><stop offset="0.545" stop-color="#888888"/><stop offset="0.576" stop-color="#898989"/><stop offset="0.606" stop-color="#8a8a8a"/><stop offset="0.636" stop-color="#8b8b8b"/><stop offset="0.667" stop-color="#8d8d8d"/><stop offset="0.697" stop-color="#8e8e8e"/><stop offset="0.727" stop-color="#8f8f8f"/><stop offset="0.758" stop-color="#8f8f8f"/><stop offset="0.788" stop-color="#8f8f8f"/><stop offset="0.818" stop-color="#909090"/><stop offset="0.848" stop-color="#929292"/><stop offset="0.879" stop-color="#939393"/><stop offset="0.909" stop-color="#949494"/><stop offset="0.939" stop-color="#949494"/><stop offset="0.970" stop-color="#949494"/><stop offset="1.000" stop-color="#949494"/></linearGradient><linearGradient id="d1"><stop offset="0.000" stop-color="#808080"/><stop offset="0.030" stop-color="#808080"/><stop offset="0.061" stop-color="#808080"/><stop offset="0.091" stop-color="#808080"/><stop offset="0.121" stop-color="#7f7f7f"/><stop offset="0.152" stop-color="#7e7e7e"/><stop offset="0.182" stop-color="#7c7c7c"/><stop offset="0.212" stop-color="#7b7b7b"/><stop offset="0.242" stop-color="#797979"/><stop offset="0.273" stop-color="#787878"/><stop offset="0.303" stop-color="#787878"/><stop offset="0.333" stop-color="#7a7a7a"/><stop offset="0.364" stop-color="#7a7a7a"/><stop offset="0.394" stop-color="#7a7a7a"/><stop offset="0.424" stop-color="#7b7b7b"/><stop offset="0.455" stop-color="#7f7f7f"/><stop offset="0.485" stop-color="#838383"/><stop offset="0.515" stop-color="#868686"/><stop offset="0.545" stop-color="#888888"/><stop offset="0.576" stop-color="#898989"/><stop offset="0.606" stop-color="#8a8a8a"/><stop offset="0.636" stop-color="#8b8b8b"/><stop offset="0.667" stop-color="#8d8d8d"/><stop offset="0.697" stop-color="#8e8e8e"/><stop offset="0.727" stop-color="#8f8f8f"/><stop offset="0.758" stop-color="#8f8f8f"/><stop offset="0.788" stop-color="#8f8f8f"/><stop offset="0.818" stop-color="#909090"/><stop offset="0.848" stop-color="#929292"/><stop offset="0.879" stop-color="#939393"/><stop offset="0.909" stop-color="#949494"/><stop offset="0.939" stop-color="#949494"/><stop offset="0.970" stop-color="#949494"/><stop offset="1.000" stop-color="#949494"/></linearGradient><linearGradient id="d2"><stop offset="0.000" stop-color="#808080"/><stop offset="0.030" stop-color="#808080"/><stop offset="0.061" stop-color="#808080"/><stop offset="0.091" stop-color="#808080"/><stop offset="0.121" stop-color="#7f7f7f"/><stop offset="0.152" stop-color="#7e7e7e"/><stop offset="0.182" stop-color="#7c7c7c"/><stop offset="0.212" stop-color="#7b7b7b"/><stop offset="0.242" stop-color="#797979"/><stop offset="0.273" stop-color="#787878"/><stop offset="0.303" stop-color="#787878"/><stop offset="0.333" stop-color="#7a7a7a"/><stop offset="0.364" stop-color="#7a7a7a"/><stop offset="0.394" stop-color="#7a7a7a"/><stop offset="0.424" stop-color="#7b7b7b"/><stop offset="0.455" stop-color="#7f7f7f"/><stop offset="0.485" stop-color="#838383"/><stop offset="0.515" stop-color="#868686"/><stop offset="0.545" stop-color="#888888"/><stop offset="0.576" stop-color="#898989"/><stop offset="0.606" stop-color="#8a8a8a"/><stop offset="0.636" stop-color="#8b8b8b"/><stop offset="0.667" stop-color="#8d8d8d"/><stop offset="0.697" stop-color="#8e8e8e"/><stop offset="0.727" stop-color="#8f8f8f"/><stop offset="0.758" stop-color="#8f8f8f"/><stop offset="0.788" stop-color="#8f8f8f"/><stop offset="0.818" stop-color="#909090"/><stop offset="0.848" stop-color="#929292"/><stop offset="0.879" stop-color="#939393"/><stop offset="0.909" stop-color="#949494"/><stop offset="0.939" stop-color="#949494"/><stop offset="0.970" stop-color="#949494"/><stop offset="1.000" stop-color="#949494"/></linearGradient><linearGradient id="d3"><stop offset="0.000" stop-color="#808080"/><stop offset="0.030" stop-color="#808080"/><stop offset="0.061" stop-color="#808080"/><stop offset="0.091" stop-color="#808080"/><stop offset="0.121" stop-color="#7f7f7f"/><stop offset="0.152" stop-color="#7e7e7e"/><stop offset="0.182" stop-color="#7c7c7c"/><stop offset="0.212" stop-color="#7b7b7b"/><stop offset="0.242" stop-color="#797979"/><stop offset="0.273" stop-color="#787878"/><stop offset="0.303" stop-color="#787878"/><stop offset="0.333" stop-color="#7a7a7a"/><stop offset="0.364" stop-color="#7a7a7a"/><stop offset="0.394" stop-color="#7a7a7a"/><stop offset="0.424" stop-color="#7b7b7b"/><stop offset="0.455" stop-color="#7f7f7f"/><stop offset="0.485" stop-color="#838383"/><stop offset="0.515" stop-color="#868686"/><stop offset="0.545" stop-color="#888888"/><stop offset="0.576" stop-color="#898989"/><stop offset="0.606" stop-color="#8a8a8a"/><stop offset="0.636" stop-color="#8b8b8b"/><stop offset="0.667" stop-color="#8d8d8d"/><stop offset="0.697" stop-color="#8e8e8e"/><stop offset="0.727" stop-color="#8f8f8f"/><stop offset="0.758" stop-color="#8f8f8f"/><stop offset="0.788" stop-color="#8f8f8f"/><stop offset="0.818" stop-color="#909090"/><stop offset="0.848" stop-color="#929292"/><stop offset="0.879" stop-color="#939393"/><stop offset="0.909" stop-color="#949494"/><stop offset="0.939" stop-color="#949494"/><stop offset="0.970" stop-color="#949494"/><stop offset="1.000" stop-color="#949494"/></linearGradient><linearGradient id="d4"><stop offset="0.000" stop-color="#808080"/><stop offset="0.030" stop-color="#808080"/><stop offset="0.061" stop-color="#808080"/><stop offset="0.091" stop-color="#808080"/><stop offset="0.121" stop-color="#7f7f7f"/><stop offset="0.152" stop-color="#7e7e7e"/><stop offset="0.182" stop-color="#7c7c7c"/><stop offset="0.212" stop-color="#7b7b7b"/><stop offset="0.242" stop-color="#797979"/><stop offset="0.273" stop-color="#787878"/><stop offset="0.303" stop-color="#787878"/><stop offset="0.333" stop-color="#7a7a7a"/><stop offset="0.364" stop-color="#7a7a7a"/><stop offset="0.394" stop-color="#7a7a7a"/><stop offset="0.424" stop-color="#7b7b7b"/><stop offset="0.455" stop-color="#7f7f7f"/><stop offset="0.485" stop-color="#838383"/><stop offset="0.515" stop-color="#868686"/><stop offset="0.545" stop-color="#888888"/><stop offset="0.576" stop-color="#898989"/><stop offset="0.606" stop-color="#8a8a8a"/><stop offset="0.636" stop-color="#8b8b8b"/><stop offset="0.667" stop-color="#8d8d8d"/><stop offset="0.697" stop-color="#8e8e8e"/><stop offset="0.727" stop-color="#8f8f8f"/><stop offset="0.758" stop-color="#8f8f8f"/><stop offset="0.788" stop-color="#8f8f8f"/><stop offset="0.818" stop-color="#909090"/><stop offset="0.848" stop-color="#929292"/><stop offset="0.879" stop-color="#939393"/><stop offset="0.909" stop-color="#949494"/><stop offset="0.939" stop-color="#949494"/><stop offset="0.970" stop-color="#949494"/><stop offset="1.000" stop-color="#949494"/></linearGradient><linearGradient id="d5"><stop offset="0.000" stop-color="#7b7b7b"/><stop offset="0.030" stop-color="#7b7b7b"/><stop offset="0.061" stop-color="#7b7b7b"/><stop offset="0.091" stop-color="#7b7b7b"/><stop offset="0.121" stop-color="#7a7a7a"/><stop offset="0.152" stop-color="#797979"/><stop offset="0.182" stop-color="#787878"/><stop offset="0.212" stop-color="#787878"/><stop offset="0.242" stop-color="#767676"/><stop offset="0.273" stop-color="#767676"/><stop offset="0.303" stop-color="#767676"/><stop offset="0.333" stop-color="#787878"/><stop offset="0.364" stop-color="#797979"/><stop offset="0.394" stop-color="#787878"/><stop offset="0.424" stop-color="#797979"/><stop offset="0.455" stop-color="#7d7d7d"/><stop offset="0.485" stop-color="#808080"/><stop offset="0.515" stop-color="#828282"/><stop offset="0.545" stop-color="#848484"/><stop offset="0.576" stop-color="#878787"/><stop offset="0.606" stop-color="#8a8a8a"/><stop offset="0.636" stop-color="#8d8d8d"/><stop offset="0.667" stop-color="#8e8e8e"/><stop offset="0.697" stop-color="#8f8f8f"/><stop offset="0.727" stop-color="#8f8f8f"/><stop offset="0.758" stop-color="#8f8f8f"/><stop offset="0.788" stop-color="#909090"/><stop offset="0.818" stop-color="#919191"/><stop offset="0.848" stop-color="#929292"/><stop offset="0.879" stop-color="#939393"/><stop offset="0.909" stop-color="#939393"/><stop offset="0.939" stop-color="#949494"/><stop offset="0.970" stop-color="#949494"/><stop offset="1.000" stop-color="#949494"/></linearGradient><linearGradient id="d6"><stop offset="0.000" stop-color="#777777"/><stop offset="0.030" stop-color="#777777"/><stop offset="0.061" stop-color="#777777"/><stop offset="0.091" stop-color="#777777"/><stop offset="0.121" stop-color="#777777"/><stop offset="0.152" stop-color="#767676"/><stop offset="0.182" stop-color="#757575"/><stop offset="0.212" stop-color="#757575"/><stop offset="0.242" stop-color="#747474"/><stop offset="0.273" stop-color="#747474"/><stop offset="0.303" stop-color="#757575"/><stop offset="0.333" stop-color="#777777"/><stop offset="0.364" stop-color="#777777"/><stop offset="0.394" stop-color="#767676"/><stop offset="0.424" stop-color="#787878"/><stop offset="0.455" stop-color="#7b7b7b"/><stop offset="0.485" stop-color="#7d7d7d"/><stop offset="0.515" stop-color="#7e7e7e"/><stop offset="0.545" stop-color="#818181"/><stop offset="0.576" stop-color="#868686"/><stop offset="0.606" stop-color="#8b8b8b"/><stop offset="0.636" stop-color="#8e8e8e"/><stop offset="0.667" stop-color="#8f8f8f"/><stop offset="0.697" stop-color="#8f8f8f"/><stop offset="0.727" stop-color="#8f8f8f"/><stop offset="0.758" stop-color="#909090"/><stop offset="0.788" stop-color="#909090"/><stop offset="0.818" stop-color="#919191"/><stop offset="0.848" stop-color="#929292"/><stop offset="0.879" stop-color="#929292"/><stop offset="0.909" stop-color="#939393"/><stop offset="0.939" stop-color="#939393"/><stop offset="0.970" stop-color="#949494"/><stop offset="1.000" stop-color="#949494"/></linearGradient><linearGradient id="d7"><stop offset="0.000" stop-color="#747474"/><stop offset="0.030" stop-color="#747474"/><stop offset="0.061" stop-color="#757575"/><stop offset="0.091" stop-color="#757575"/><stop offset="0.121" stop-color="#747474"/><stop offset="0.152" stop-color="#747474"/><stop offset="0.182" stop-color="#737373"/><stop offset="0.212" stop-color="#737373"/><stop offset="0.242" stop-color="#737373"/><stop offset="0.273" stop-color="#737373"/><stop offset="0.303" stop-color="#747474"/><stop offset="0.333" stop-color="#767676"/><stop offset="0.364" stop-color="#767676"/><stop offset="0.394" stop-color="#757575"/><stop offset="0.424" stop-color="#777777"/><stop offset="0.455" stop-color="#7a7a7a"/><stop offset="0.485" stop-color="#7c7c7c"/><stop offset="0.515" stop-color="#7d7d7d"/><stop offset="0.545" stop-color="#7f7f7f"/><stop offset="0.576" stop-color="#858585"/><stop offset="0.606" stop-color="#8b8b8b"/><stop offset="0.636" stop-color="#8e8e8e"/><stop offset="0.667" stop-color="#909090"/><stop offset="0.697" stop-color="#909090"/><stop offset="0.727" stop-color="#909090"/><stop offset="0.758" stop-color="#919191"/><stop offset="0.788" stop-color="#929292"/><stop offset="0.818" stop-color="#929292"/><stop offset="0.848" stop-color="#929292"/><stop offset="0.879" stop-color="#929292"/><stop offset="0.909" stop-color="#939393"/><stop offset="0.939" stop-color="#939393"/><stop offset="0.970" stop-color="#949494"/><stop offset="1.000" stop-color="#949494"/></linearGradient><linearGradient id="d8"><stop offset="0.000" stop-color="#737373"/><stop offset="0.030" stop-color="#737373"/><stop offset="0.061" stop-color="#737373"/><stop offset="0.091" stop-color="#737373"/><stop offset="0.121" stop-color="#737373"/><stop offset="0.152" stop-color="#737373"/><stop offset="0.182" stop-color="#737373"/><stop offset="0.212" stop-color="#737373"/><stop offset="0.242" stop-color="#727272"/><stop offset="0.273" stop-color="#727272"/><stop offset="0.303" stop-color="#737373"/><stop offset="0.333" stop-color="#757575"/><stop offset="0.364" stop-color="#767676"/><stop offset="0.394" stop-color="#757575"/><stop offset="0.424" stop-color="#767676"/><stop offset="0.455" stop-color="#7a7a7a"/><stop offset="0.485" stop-color="#7c7c7c"/><stop offset="0.515" stop-color="#7c7c7c"/><stop offset="0.545" stop-color="#7f7f7f"/><stop offset="0.576" stop-color="#858585"/><stop offset="0.606" stop-color="#8a8a8a"/><stop offset="0.636" stop-color="#8e8e8e"/><stop offset="0.667" stop-color="#909090"/><stop offset="0.697" stop-color="#909090"/><stop offset="0.727" stop-color="#919191"/><stop offset="0.758" stop-color="#929292"/><stop offset="0.788" stop-color="#939393"/><stop offset="0.818" stop-color="#939393"/><stop offset="0.848" stop-color="#939393"/><stop offset="0.879" stop-color="#939393"/><stop offset="0.909" stop-color="#939393"/><stop offset="0.939" stop-color="#949494"/><stop offset="0.970" stop-color="#949494"/><stop offset="1.000" stop-color="#949494"/></linearGradient><linearGradient id="d9"><stop offset="0.000" stop-color="#737373"/><stop offset="0.030" stop-color="#737373"/><stop offset="0.061" stop-color="#737373"/><stop offset="0.091" stop-color="#737373"/><stop offset="0.121" stop-color="#737373"/><stop offset="0.152" stop-color="#737373"/><stop offset="0.182" stop-color="#737373"/><stop offset="0.212" stop-color="#737373"/><stop offset="0.242" stop-color="#727272"/><stop offset="0.273" stop-color="#727272"/><stop offset="0.303" stop-color="#737373"/><stop offset="0.333" stop-color="#757575"/><stop offset="0.364" stop-color="#757575"/><stop offset="0.394" stop-color="#757575"/><stop offset="0.424" stop-color="#777777"/><stop offset="0.455" stop-color="#7a7a7a"/><stop offset="0.485" stop-color="#7c7c7c"/><stop offset="0.515" stop-color="#7c7c7c"/><stop offset="0.545" stop-color="#7f7f7f"/><stop offset="0.576" stop-color="#848484"/><stop offset="0.606" stop-color="#8a8a8a"/><stop offset="0.636" stop-color="#8e8e8e"/><stop offset="0.667" stop-color="#909090"/><stop offset="0.697" stop-color="#919191"/><stop offset="0.727" stop-color="#929292"/><stop offset="0.758" stop-color="#939393"/><stop offset="0.788" stop-color="#949494"/><stop offset="0.818" stop-color="#949494"/><stop offset="0.848" stop-color="#939393"/><stop offset="0.879" stop-color="#939393"/><stop offset="0.909" stop-color="#949494"/><stop offset="0.939" stop-color="#949494"/><stop offset="0.970" stop-color="#949494"/><stop offset="1.000" stop-color="#949494"/></linearGradient><linearGradient id="d10"><stop offset="0.000" stop-color="#737373"/><stop offset="0.030" stop-color="#737373"/><stop offset="0.061" stop-color="#737373"/><stop offset="0.091" stop-color="#737373"/><stop offset="0.121" stop-color="#737373"/><stop offset="0.152" stop-color="#737373"/><stop offset="0.182" stop-color="#737373"/><stop offset="0.212" stop-color="#737373"/><stop offset="0.242" stop-color="#737373"/><stop offset="0.273" stop-color="#737373"/><stop offset="0.303" stop-color="#747474"/><stop offset="0.333" stop-color="#757575"/><stop offset="0.364" stop-color="#757575"/><stop offset="0.394" stop-color="#757575"/><stop offset="0.424" stop-color="#777777"/><stop offset="0.455" stop-color="#7b7b7b"/><stop offset="0.485" stop-color="#7c7c7c"/><stop offset="0.515" stop-color="#7d7d7d"/><stop offset="0.545" stop-color="#7f7f7f"/><stop offset="0.576" stop-color="#848484"/><stop offset="0.606" stop-color="#898989"/><stop offset="0.636" stop-color="#8d8d8d"/><stop offset="0.667" stop-color="#8f8f8f"/><stop offset="0.697" stop-color="#919191"/><stop offset="0.727" stop-color="#929292"/><stop offset="0.758" stop-color="#949494"/><stop offset="0.788" stop-color="#949494"/><stop offset="0.818" stop-color="#949494"/><stop offset="0.848" stop-color="#949494"/><stop offset="0.879" stop-color="#949494"/><stop offset="0.909" stop-color="#949494"/><stop offset="0.939" stop-color="#949494"/><stop offset="0.970" stop-color="#949494"/><stop offset="1.000" stop-color="#949494"/></linearGradient><linearGradient id="d11"><stop offset="0.000" stop-color="#747474"/><stop offset="0.030" stop-color="#747474"/><stop offset="0.061" stop-color="#747474"/><stop offset="0.091" stop-color="#737373"/><stop offset="0.121" stop-color="#737373"/><stop offset="0.152" stop-color="#747474"/><stop offset="0.182" stop-color="#747474"/><stop offset="0.212" stop-color="#747474"/><stop offset="0.242" stop-color="#737373"/><stop offset="0.273" stop-color="#737373"/><stop offset="0.303" stop-color="#747474"/><stop offset="0.333" stop-color="#757575"/><stop offset="0.364" stop-color="#757575"/><stop offset="0.394" stop-color="#757575"/><stop offset="0.424" stop-color="#777777"/><stop offset="0.455" stop-color="#7b7b7b"/><stop offset="0.485" stop-color="#7d7d7d"/><stop offset="0.515" stop-color="#7d7d7d"/><stop offset="0.545" stop-color="#7f7f7f"/><stop offset="0.576" stop-color="#848484"/><stop offset="0.606" stop-color="#888888"/><stop offset="0.636" stop-color="#8c8c8c"/><stop offset="0.667" stop-color="#8e8e8e"/><stop offset="0.697" stop-color="#909090"/><stop offset="0.727" stop-color="#929292"/><stop offset="0.758" stop-color="#949494"/><stop offset="0.788" stop-color="#959595"/><stop offset="0.818" stop-color="#959595"/><stop offset="0.848" stop-color="#959595"/><stop offset="0.879" stop-color="#959595"/><stop offset="0.909" stop-color="#959595"/><stop offset="0.939" stop-color="#949494"/><stop offset="0.970" stop-color="#939393"/><stop offset="1.000" stop-color="#939393"/></linearGradient><linearGradient id="d12"><stop offset="0.000" stop-color="#757575"/><stop offset="0.030" stop-color="#757575"/><stop offset="0.061" stop-color="#747474"/><stop offset="0.091" stop-color="#747474"/><stop offset="0.121" stop-color="#747474"/><stop offset="0.152" stop-color="#747474"/><stop offset="0.182" stop-color="#747474"/><stop offset="0.212" stop-color="#747474"/><stop offset="0.242" stop-color="#747474"/><stop offset="0.273" stop-color="#747474"/><stop offset="0.303" stop-color="#747474"/><stop offset="0.333" stop-color="#757575"/><stop offset="0.364" stop-color="#757575"/><stop offset="0.394" stop-color="#757575"/><stop offset="0.424" stop-color="#787878"/><stop offset="0.455" stop-color="#7c7c7c"/><stop offset="0.485" stop-color="#7e7e7e"/><stop offset="0.515" stop-color="#7e7e7e"/><stop offset="0.545" stop-color="#808080"/><stop offset="0.576" stop-color="#838383"/><stop offset="0.606" stop-color="#878787"/><stop offset="0.636" stop-color="#8a8a8a"/><stop offset="0.667" stop-color="#8d8d8d"/><stop offset="0.697" stop-color="#909090"/><stop offset="0.727" stop-color="#929292"/><stop offset="0.758" stop-color="#949494"/><stop offset="0.788" stop-color="#959595"/><stop offset="0.818" stop-color="#959595"/><stop offset="0.848" stop-color="#959595"/><stop offset="0.879" stop-color="#959595"/><stop offset="0.909" stop-color="#959595"/><stop offset="0.939" stop-color="#949494"/><stop offset="0.970" stop-color="#939393"/><stop offset="1.000" stop-color="#939393"/></linearGradient><linearGradient id="d13"><stop offset="0.000" stop-color="#757575"/><stop offset="0.030" stop-color="#757575"/><stop offset="0.061" stop-color="#757575"/><stop offset="0.091" stop-color="#747474"/><stop offset="0.121" stop-color="#747474"/><stop offset="0.152" stop-color="#747474"/><stop offset="0.182" stop-color="#747474"/><stop offset="0.212" stop-color="#747474"/><stop offset="0.242" stop-color="#747474"/><stop offset="0.273" stop-color="#747474"/><stop offset="0.303" stop-color="#747474"/><stop offset="0.333" stop-color="#747474"/><stop offset="0.364" stop-color="#757575"/><stop offset="0.394" stop-color="#757575"/><stop offset="0.424" stop-color="#787878"/><stop offset="0.455" stop-color="#7c7c7c"/><stop offset="0.485" stop-color="#7e7e7e"/><stop offset="0.515" stop-color="#7f7f7f"/><stop offset="0.545" stop-color="#808080"/><stop offset="0.576" stop-color="#828282"/><stop offset="0.606" stop-color="#858585"/><stop offset="0.636" stop-color="#888888"/><stop offset="0.667" stop-color="#8b8b8b"/><stop offset="0.697" stop-color="#8e8e8e"/><stop offset="0.727" stop-color="#919191"/><stop offset="0.758" stop-color="#949494"/><stop offset="0.788" stop-color="#959595"/><stop offset="0.818" stop-color="#949494"/><stop offset="0.848" stop-color="#949494"/><stop offset="0.879" stop-color="#949494"/><stop offset="0.909" stop-color="#949494"/><stop offset="0.939" stop-color="#939393"/><stop offset="0.970" stop-color="#929292"/><stop offset="1.000" stop-color="#929292"/></linearGradient><linearGradient id="d14"><stop offset="0.000" stop-color="#767676"/><stop offset="0.030" stop-color="#767676"/><stop offset="0.061" stop-color="#757575"/><stop offset="0.091" stop-color="#747474"/><stop offset="0.121" stop-color="#747474"/><stop offset="0.152" stop-color="#747474"/><stop offset="0.182" stop-color="#747474"/><stop offset="0.212" stop-color="#747474"/><stop offset="0.242" stop-color="#747474"/><stop offset="0.273" stop-color="#747474"/><stop offset="0.303" stop-color="#747474"/><stop offset="0.333" stop-color="#747474"/><stop offset="0.364" stop-color="#747474"/><stop offset="0.394" stop-color="#757575"/><stop offset="0.424" stop-color="#787878"/><stop offset="0.455" stop-color="#7b7b7b"/><stop offset="0.485" stop-color="#7e7e7e"/><stop offset="0.515" stop-color="#7e7e7e"/><stop offset="0.545" stop-color="#7f7f7f"/><stop offset="0.576" stop-color="#818181"/><stop offset="0.606" stop-color="#838383"/><stop offset="0.636" stop-color="#858585"/><stop offset="0.667" stop-color="#898989"/><stop offset="0.697" stop-color="#8c8c8c"/><stop offset="0.727" stop-color="#909090"/><stop offset="0.758" stop-color="#929292"/><stop offset="0.788" stop-color="#939393"/><stop offset="0.818" stop-color="#939393"/><stop offset="0.848" stop-color="#939393"/><stop offset="0.879" stop-color="#939393"/><stop offset="0.909" stop-color="#939393"/><stop offset="0.939" stop-color="#929292"/><stop offset="0.970" stop-color="#909090"/><stop offset="1.000" stop-color="#909090"/></linearGradient><linearGradient id="d15"><stop offset="0.000" stop-color="#757575"/><stop offset="0.030" stop-color="#757575"/><stop offset="0.061" stop-color="#747474"/><stop offset="0.091" stop-color="#737373"/><stop offset="0.121" stop-color="#727272"/><stop offset="0.152" stop-color="#727272"/><stop offset="0.182" stop-color="#737373"/><stop offset="0.212" stop-color="#737373"/><stop offset="0.242" stop-color="#737373"/><stop offset="0.273" stop-color="#737373"/><stop offset="0.303" stop-color="#737373"/><stop offset="0.333" stop-color="#727272"/><stop offset="0.364" stop-color="#737373"/><stop offset="0.394" stop-color="#747474"/><stop offset="0.424" stop-color="#777777"/><stop offset="0.455" stop-color="#7a7a7a"/><stop offset="0.485" stop-color="#7c7c7c"/><stop offset="0.515" stop-color="#7d7d7d"/><stop offset="0.545" stop-color="#7d7d7d"/><stop offset="0.576" stop-color="#7e7e7e"/><stop offset="0.606" stop-color="#808080"/><stop offset="0.636" stop-color="#838383"/><stop offset="0.667" stop-color="#868686"/><stop offset="0.697" stop-color="#8a8a8a"/><stop offset="0.727" stop-color="#8e8e8e"/><stop offset="0.758" stop-color="#909090"/><stop offset="0.788" stop-color="#919191"/><stop offset="0.818" stop-color="#919191"/><stop offset="0.848" stop-color="#919191"/><stop offset="0.879" stop-color="#919191"/><stop offset="0.909" stop-color="#919191"/><stop offset="0.939" stop-color="#909090"/><stop offset="0.970" stop-color="#8f8f8f"/><stop offset="1.000" stop-color="#8f8f8f"/></linearGradient><linearGradient id="d16"><stop offset="0.000" stop-color="#747474"/><stop offset="0.030" stop-color="#747474"/><stop offset="0.061" stop-color="#727272"/><stop offset="0.091" stop-color="#717171"/><stop offset="0.121" stop-color="#707070"/><stop offset="0.152" stop-color="#707070"/><stop offset="0.182" stop-color="#707070"/><stop offset="0.212" stop-color="#707070"/><stop offset="0.242" stop-color="#717171"/><stop offset="0.273" stop-color="#717171"/><stop offset="0.303" stop-color="#717171"/><stop offset="0.333" stop-color="#717171"/><stop offset="0.364" stop-color="#717171"/><stop offset="0.394" stop-color="#737373"/><stop offset="0.424" stop-color="#757575"/><stop offset="0.455" stop-color="#787878"/><stop offset="0.485" stop-color="#7a7a7a"/><stop offset="0.515" stop-color="#7a7a7a"/><stop offset="0.545" stop-color="#7a7a7a"/><stop offset="0.576" stop-color="#7b7b7b"/><stop offset="0.606" stop-color="#7d7d7d"/><stop offset="0.636" stop-color="#808080"/><stop offset="0.667" stop-color="#838383"/><stop offset="0.697" stop-color="#878787"/><stop offset="0.727" stop-color="#8a8a8a"/><stop offset="0.758" stop-color="#8d8d8d"/><stop offset="0.788" stop-color="#8f8f8f"/><stop offset="0.818" stop-color="#8f8f8f"/><stop offset="0.848" stop-color="#8e8e8e"/><stop offset="0.879" stop-color="#8e8e8e"/><stop offset="0.909" stop-color="#8e8e8e"/><stop offset="0.939" stop-color="#8d8d8d"/><stop offset="0.970" stop-color="#8c8c8c"/><stop offset="1.000" stop-color="#8c8c8c"/></linearGradient><linearGradient id="d17"><stop offset="0.000" stop-color="#727272"/><stop offset="0.030" stop-color="#727272"/><stop offset="0.061" stop-color="#707070"/><stop offset="0.091" stop-color="#6e6e6e"/><stop offset="0.121" stop-color="#6d6d6d"/><stop offset="0.152" stop-color="#6d6d6d"/><stop offset="0.182" stop-color="#6d6d6d"/><stop offset="0.212" stop-color="#6d6d6d"/><stop offset="0.242" stop-color="#6e6e6e"/><stop offset="0.273" stop-color="#6f6f6f"/><stop offset="0.303" stop-color="#6f6f6f"/><stop offset="0.333" stop-color="#6f6f6f"/><stop offset="0.364" stop-color="#6f6f6f"/><stop offset="0.394" stop-color="#717171"/><stop offset="0.424" stop-color="#737373"/><stop offset="0.455" stop-color="#767676"/><stop offset="0.485" stop-color="#777777"/><stop offset="0.515" stop-color="#767676"/><stop offset="0.545" stop-color="#767676"/><stop offset="0.576" stop-color="#787878"/><stop offset="0.606" stop-color="#7a7a7a"/><stop offset="0.636" stop-color="#7d7d7d"/><stop offset="0.667" stop-color="#808080"/><stop offset="0.697" stop-color="#838383"/><stop offset="0.727" stop-color="#878787"/><stop offset="0.758" stop-color="#8a8a8a"/><stop offset="0.788" stop-color="#8b8b8b"/><stop offset="0.818" stop-color="#8b8b8b"/><stop offset="0.848" stop-color="#8b8b8b"/><stop offset="0.879" stop-color="#8b8b8b"/><stop offset="0.909" stop-color="#8a8a8a"/><stop offset="0.939" stop-color="#8a8a8a"/><stop offset="0.970" stop-color="#8a8a8a"/><stop offset="1.000" stop-color="#8a8a8a"/></linearGradient><linearGradient id="d18"><stop offset="0.000" stop-color="#707070"/><stop offset="0.030" stop-color="#707070"/><stop offset="0.061" stop-color="#6f6f6f"/><stop offset="0.091" stop-color="#6c6c6c"/><stop offset="0.121" stop-color="#6b6b6b"/><stop offset="0.152" stop-color="#6a6a6a"/><stop offset="0.182" stop-color="#6a6a6a"/><stop offset="0.212" stop-color="#6b6b6b"/><stop offset="0.242" stop-color="#6c6c6c"/><stop offset="0.273" stop-color="#6d6d6d"/><stop offset="0.303" stop-color="#6d6d6d"/><stop offset="0.333" stop-color="#6d6d6d"/><stop offset="0.364" stop-color="#6e6e6e"/><stop offset="0.394" stop-color="#6f6f6f"/><stop offset="0.424" stop-color="#717171"/><stop offset="0.455" stop-color="#747474"/><stop offset="0.485" stop-color="#747474"/><stop offset="0.515" stop-color="#737373"/><stop offset="0.545" stop-color="#737373"/><stop offset="0.576" stop-color="#747474"/><stop offset="0.606" stop-color="#777777"/><stop offset="0.636" stop-color="#7a7a7a"/><stop offset="0.667" stop-color="#7d7d7d"/><stop offset="0.697" stop-color="#808080"/><stop offset="0.727" stop-color="#848484"/><stop offset="0.758" stop-color="#878787"/><stop offset="0.788" stop-color="#888888"/><stop offset="0.818" stop-color="#888888"/><stop offset="0.848" stop-color="#888888"/><stop offset="0.879" stop-color="#878787"/><stop offset="0.909" stop-color="#878787"/><stop offset="0.939" stop-color="#878787"/><stop offset="0.970" stop-color="#878787"/><stop offset="1.000" stop-color="#878787"/></linearGradient><linearGradient id="d19"><stop offset="0.000" stop-color="#707070"/><stop offset="0.030" stop-color="#707070"/><stop offset="0.061" stop-color="#6e6e6e"/><stop offset="0.091" stop-color="#6b6b6b"/><stop offset="0.121" stop-color="#6a6a6a"/><stop offset="0.152" stop-color="#696969"/><stop offset="0.182" stop-color="#686868"/><stop offset="0.212" stop-color="#696969"/><stop offset="0.242" stop-color="#6a6a6a"/><stop offset="0.273" stop-color="#6b6b6b"/><stop offset="0.303" stop-color="#6c6c6c"/><stop offset="0.333" stop-color="#6c6c6c"/><stop offset="0.364" stop-color="#6c6c6c"/><stop offset="0.394" stop-color="#6e6e6e"/><stop offset="0.424" stop-color="#707070"/><stop offset="0.455" stop-color="#717171"/><stop offset="0.485" stop-color="#717171"/><stop offset="0.515" stop-color="#707070"/><stop offset="0.545" stop-color="#707070"/><stop offset="0.576" stop-color="#727272"/><stop offset="0.606" stop-color="#757575"/><stop offset="0.636" stop-color="#787878"/><stop offset="0.667" stop-color="#7b7b7b"/><stop offset="0.697" stop-color="#7e7e7e"/><stop offset="0.727" stop-color="#818181"/><stop offset="0.758" stop-color="#848484"/><stop offset="0.788" stop-color="#868686"/><stop offset="0.818" stop-color="#868686"/><stop offset="0.848" stop-color="#858585"/><stop offset="0.879" stop-color="#848484"/><stop offset="0.909" stop-color="#838383"/><stop offset="0.939" stop-color="#848484"/><stop offset="0.970" stop-color="#858585"/><stop offset="1.000" stop-color="#858585"/></linearGradient><linearGradient id="d20"><stop offset="0.000" stop-color="#707070"/><stop offset="0.030" stop-color="#707070"/><stop offset="0.061" stop-color="#6e6e6e"/><stop offset="0.091" stop-color="#6c6c6c"/><stop offset="0.121" stop-color="#6a6a6a"/><stop offset="0.152" stop-color="#696969"/><stop offset="0.182" stop-color="#686868"/><stop offset="0.212" stop-color="#686868"/><stop offset="0.242" stop-color="#696969"/><stop offset="0.273" stop-color="#6b6b6b"/><stop offset="0.303" stop-color="#6b6b6b"/><stop offset="0.333" stop-color="#6b6b6b"/><stop offset="0.364" stop-color="#6b6b6b"/><stop offset="0.394" stop-color="#6d6d6d"/><stop offset="0.424" stop-color="#6f6f6f"/><stop offset="0.455" stop-color="#707070"/><stop offset="0.485" stop-color="#707070"/><stop offset="0.515" stop-color="#6e6e6e"/><stop offset="0.545" stop-color="#6e6e6e"/><stop offset="0.576" stop-color="#707070"/><stop offset="0.606" stop-color="#737373"/><stop offset="0.636" stop-color="#777777"/><stop offset="0.667" stop-color="#7b7b7b"/><stop offset="0.697" stop-color="#7d7d7d"/><stop offset="0.727" stop-color="#808080"/><stop offset="0.758" stop-color="#828282"/><stop offset="0.788" stop-color="#848484"/><stop offset="0.818" stop-color="#848484"/><stop offset="0.848" stop-color="#838383"/><stop offset="0.879" stop-color="#828282"/><stop offset="0.909" stop-color="#818181"/><stop offset="0.939" stop-color="#828282"/><stop offset="0.970" stop-color="#848484"/><stop offset="1.000" stop-color="#848484"/></linearGradient><linearGradient id="d21"><stop offset="0.000" stop-color="#727272"/><stop offset="0.030" stop-color="#727272"/><stop offset="0.061" stop-color="#707070"/><stop offset="0.091" stop-color="#6e6e6e"/><stop offset="0.121" stop-color="#6c6c6c"/><stop offset="0.152" stop-color="#6b6b6b"/><stop offset="0.182" stop-color="#6a6a6a"/><stop offset="0.212" stop-color="#696969"/><stop offset="0.242" stop-color="#6a6a6a"/><stop offset="0.273" stop-color="#6b6b6b"/><stop offset="0.303" stop-color="#6c6c6c"/><stop offset="0.333" stop-color="#6b6b6b"/><stop offset="0.364" stop-color="#6c6c6c"/><stop offset="0.394" stop-color="#6d6d6d"/><stop offset="0.424" stop-color="#6f6f6f"/><stop offset="0.455" stop-color="#707070"/><stop offset="0.485" stop-color="#707070"/><stop offset="0.515" stop-color="#6e6e6e"/><stop offset="0.545" stop-color="#6e6e6e"/><stop offset="0.576" stop-color="#707070"/><stop offset="0.606" stop-color="#747474"/><stop offset="0.636" stop-color="#787878"/><stop offset="0.667" stop-color="#7b7b7b"/><stop offset="0.697" stop-color="#7e7e7e"/><stop offset="0.727" stop-color="#808080"/><stop offset="0.758" stop-color="#828282"/><stop offset="0.788" stop-color="#848484"/><stop offset="0.818" stop-color="#848484"/><stop offset="0.848" stop-color="#828282"/><stop offset="0.879" stop-color="#818181"/><stop offset="0.909" stop-color="#808080"/><stop offset="0.939" stop-color="#818181"/><stop offset="0.970" stop-color="#838383"/><stop offset="1.000" stop-color="#838383"/></linearGradient><linearGradient id="d22"><stop offset="0.000" stop-color="#767676"/><stop offset="0.030" stop-color="#767676"/><stop offset="0.061" stop-color="#747474"/><stop offset="0.091" stop-color="#727272"/><stop offset="0.121" stop-color="#717171"/><stop offset="0.152" stop-color="#6f6f6f"/><stop offset="0.182" stop-color="#6d6d6d"/><stop offset="0.212" stop-color="#6c6c6c"/><stop offset="0.242" stop-color="#6c6c6c"/><stop offset="0.273" stop-color="#6d6d6d"/><stop offset="0.303" stop-color="#6d6d6d"/><stop offset="0.333" stop-color="#6d6d6d"/><stop offset="0.364" stop-color="#6d6d6d"/><stop offset="0.394" stop-color="#6d6d6d"/><stop offset="0.424" stop-color="#6f6f6f"/><stop offset="0.455" stop-color="#717171"/><stop offset="0.485" stop-color="#717171"/><stop offset="0.515" stop-color="#707070"/><stop offset="0.545" stop-color="#6f6f6f"/><stop offset="0.576" stop-color="#717171"/><stop offset="0.606" stop-color="#757575"/><stop offset="0.636" stop-color="#797979"/><stop offset="0.667" stop-color="#7d7d7d"/><stop offset="0.697" stop-color="#808080"/><stop offset="0.727" stop-color="#828282"/><stop offset="0.758" stop-color="#848484"/><stop offset="0.788" stop-color="#858585"/><stop offset="0.818" stop-color="#858585"/><stop offset="0.848" stop-color="#838383"/><stop offset="0.879" stop-color="#818181"/><stop offset="0.909" stop-color="#808080"/><stop offset="0.939" stop-color="#818181"/><stop offset="0.970" stop-color="#838383"/><stop offset="1.000" stop-color="#838383"/></linearGradient><linearGradient id="d23"><stop offset="0.000" stop-color="#7a7a7a"/><stop offset="0.030" stop-color="#7a7a7a"/><stop offset="0.061" stop-color="#7a7a7a"/><stop offset="0.091" stop-color="#787878"/><stop offset="0.121" stop-color="#767676"/><stop offset="0.152" stop-color="#747474"/><stop offset="0.182" stop-color="#727272"/><stop offset="0.212" stop-color="#707070"/><stop offset="0.242" stop-color="#6f6f6f"/><stop offset="0.273" stop-color="#6f6f6f"/><stop offset="0.303" stop-color="#6f6f6f"/><stop offset="0.333" stop-color="#6e6e6e"/><stop offset="0.364" stop-color="#6e6e6e"/><stop offset="0.394" stop-color="#6f6f6f"/><stop offset="0.424" stop-color="#707070"/><stop offset="0.455" stop-color="#737373"/><stop offset="0.485" stop-color="#737373"/><stop offset="0.515" stop-color="#727272"/><stop offset="0.545" stop-color="#727272"/><stop offset="0.576" stop-color="#747474"/><stop offset="0.606" stop-color="#777777"/><stop offset="0.636" stop-color="#7c7c7c"/><stop offset="0.667" stop-color="#808080"/><stop offset="0.697" stop-color="#838383"/><stop offset="0.727" stop-color="#858585"/><stop offset="0.758" stop-color="#868686"/><stop offset="0.788" stop-color="#878787"/><stop offset="0.818" stop-color="#868686"/><stop offset="0.848" stop-color="#858585"/><stop offset="0.879" stop-color="#838383"/><stop offset="0.909" stop-color="#818181"/><stop offset="0.939" stop-color="#828282"/><stop offset="0.970" stop-color="#848484"/><stop offset="1.000" stop-color="#848484"/></linearGradient><linearGradient id="d24"><stop offset="0.000" stop-color="#7f7f7f"/><stop offset="0.030" stop-color="#7f7f7f"/><stop offset="0.061" stop-color="#7f7f7f"/><stop offset="0.091" stop-color="#7e7e7e"/><stop offset="0.121" stop-color="#7d7d7d"/><stop offset="0.152" stop-color="#7a7a7a"/><stop offset="0.182" stop-color="#787878"/><stop offset="0.212" stop-color="#757575"/><stop offset="0.242" stop-color="#737373"/><stop offset="0.273" stop-color="#727272"/><stop offset="0.303" stop-color="#717171"/><stop offset="0.333" stop-color="#707070"/><stop offset="0.364" stop-color="#707070"/><stop offset="0.394" stop-color="#707070"/><stop offset="0.424" stop-color="#727272"/><stop offset="0.455" stop-color="#757575"/><stop offset="0.485" stop-color="#767676"/><stop offset="0.515" stop-color="#757575"/><stop offset="0.545" stop-color="#757575"/><stop offset="0.576" stop-color="#777777"/><stop offset="0.606" stop-color="#7a7a7a"/><stop offset="0.636" stop-color="#7f7f7f"/><stop offset="0.667" stop-color="#848484"/><stop offset="0.697" stop-color="#878787"/><stop offset="0.727" stop-color="#898989"/><stop offset="0.758" stop-color="#8a8a8a"/><stop offset="0.788" stop-color="#8a8a8a"/><stop offset="0.818" stop-color="#898989"/><stop offset="0.848" stop-color="#878787"/><stop offset="0.879" stop-color="#858585"/><stop offset="0.909" stop-color="#838383"/><stop offset="0.939" stop-color="#838383"/><stop offset="0.970" stop-color="#858585"/><stop offset="1.000" stop-color="#858585"/></linearGradient><linearGradient id="d25"><stop offset="0.000" stop-color="#848484"/><stop offset="0.030" stop-color="#848484"/><stop offset="0.061" stop-color="#858585"/><stop offset="0.091" stop-color="#848484"/><stop offset="0.121" stop-color="#838383"/><stop offset="0.152" stop-color="#808080"/><stop offset="0.182" stop-color="#7d7d7d"/><stop offset="0.212" stop-color="#7a7a7a"/><stop offset="0.242" stop-color="#777777"/><stop offset="0.273" stop-color="#757575"/><stop offset="0.303" stop-color="#737373"/><stop offset="0.333" stop-color="#727272"/><stop offset="0.364" stop-color="#717171"/><stop offset="0.394" stop-color="#717171"/><stop offset="0.424" stop-color="#737373"/><stop offset="0.455" stop-color="#777777"/><stop offset="0.485" stop-color="#797979"/><stop offset="0.515" stop-color="#797979"/><stop offset="0.545" stop-color="#797979"/><stop offset="0.576" stop-color="#7a7a7a"/><stop offset="0.606" stop-color="#7d7d7d"/><stop offset="0.636" stop-color="#828282"/><stop offset="0.667" stop-color="#878787"/><stop offset="0.697" stop-color="#8b8b8b"/><stop offset="0.727" stop-color="#8d8d8d"/><stop offset="0.758" stop-color="#8d8d8d"/><stop offset="0.788" stop-color="#8d8d8d"/><stop offset="0.818" stop-color="#8c8c8c"/><stop offset="0.848" stop-color="#8a8a8a"/><stop offset="0.879" stop-color="#878787"/><stop offset="0.909" stop-color="#858585"/><stop offset="0.939" stop-color="#858585"/><stop offset="0.970" stop-color="#868686"/><stop offset="1.000" stop-color="#868686"/></linearGradient><linearGradient id="d26"><stop offset="0.000" stop-color="#898989"/><stop offset="0.030" stop-color="#898989"/><stop offset="0.061" stop-color="#8a8a8a"/><stop offset="0.091" stop-color="#8a8a8a"/><stop offset="0.121" stop-color="#888888"/><stop offset="0.152" stop-color="#868686"/><stop offset="0.182" stop-color="#828282"/><stop offset="0.212" stop-color="#7e7e7e"/><stop offset="0.242" stop-color="#7a7a7a"/><stop offset="0.273" stop-color="#777777"/><stop offset="0.303" stop-color="#757575"/><stop offset="0.333" stop-color="#747474"/><stop offset="0.364" stop-color="#737373"/><stop offset="0.394" stop-color="#737373"/><stop offset="0.424" stop-color="#757575"/><stop offset="0.455" stop-color="#787878"/><stop offset="0.485" stop-color="#7b7b7b"/><stop offset="0.515" stop-color="#7c7c7c"/><stop offset="0.545" stop-color="#7c7c7c"/><stop offset="0.576" stop-color="#7d7d7d"/><stop offset="0.606" stop-color="#808080"/><stop offset="0.636" stop-color="#868686"/><stop offset="0.667" stop-color="#8b8b8b"/><stop offset="0.697" stop-color="#8f8f8f"/><stop offset="0.727" stop-color="#919191"/><stop offset="0.758" stop-color="#919191"/><stop offset="0.788" stop-color="#909090"/><stop offset="0.818" stop-color="#8e8e8e"/><stop offset="0.848" stop-color="#8c8c8c"/><stop offset="0.879" stop-color="#8a8a8a"/><stop offset="0.909" stop-color="#878787"/><stop offset="0.939" stop-color="#878787"/><stop offset="0.970" stop-color="#888888"/><stop offset="1.000" stop-color="#888888"/></linearGradient><linearGradient id="d27"><stop offset="0.000" stop-color="#8c8c8c"/><stop offset="0.030" stop-color="#8c8c8c"/><stop offset="0.061" stop-color="#8e8e8e"/><stop offset="0.091" stop-color="#8e8e8e"/><stop offset="0.121" stop-color="#8d8d8d"/><stop offset="0.152" stop-color="#8a8a8a"/><stop offset="0.182" stop-color="#858585"/><stop offset="0.212" stop-color="#818181"/><stop offset="0.242" stop-color="#7c7c7c"/><stop offset="0.273" stop-color="#797979"/><stop offset="0.303" stop-color="#767676"/><stop offset="0.333" stop-color="#757575"/><stop offset="0.364" stop-color="#747474"/><stop offset="0.394" stop-color="#737373"/><stop offset="0.424" stop-color="#757575"/><stop offset="0.455" stop-color="#7a7a7a"/><stop offset="0.485" stop-color="#7d7d7d"/><stop offset="0.515" stop-color="#7e7e7e"/><stop offset="0.545" stop-color="#7f7f7f"/><stop offset="0.576" stop-color="#7f7f7f"/><stop offset="0.606" stop-color="#838383"/><stop offset="0.636" stop-color="#898989"/><stop offset="0.667" stop-color="#8f8f8f"/><stop offset="0.697" stop-color="#939393"/><stop offset="0.727" stop-color="#949494"/><stop offset="0.758" stop-color="#949494"/><stop offset="0.788" stop-color="#929292"/><stop offset="0.818" stop-color="#919191"/><stop offset="0.848" stop-color="#8f8f8f"/><stop offset="0.879" stop-color="#8c8c8c"/><stop offset="0.909" stop-color="#8a8a8a"/><stop offset="0.939" stop-color="#898989"/><stop offset="0.970" stop-color="#898989"/><stop offset="1.000" stop-color="#898989"/></linearGradient><linearGradient id="d28"><stop offset="0.000" stop-color="#8e8e8e"/><stop offset="0.030" stop-color="#8e8e8e"/><stop offset="0.061" stop-color="#909090"/><stop offset="0.091" stop-color="#909090"/><stop offset="0.121" stop-color="#8f8f8f"/><stop offset="0.152" stop-color="#8b8b8b"/><stop offset="0.182" stop-color="#878787"/><stop offset="0.212" stop-color="#828282"/><stop offset="0.242" stop-color="#7d7d7d"/><stop offset="0.273" stop-color="#797979"/><stop offset="0.303" stop-color="#777777"/><stop offset="0.333" stop-color="#757575"/><stop offset="0.364" stop-color="#747474"/><stop offset="0.394" stop-color="#737373"/><stop offset="0.424" stop-color="#757575"/><stop offset="0.455" stop-color="#7a7a7a"/><stop offset="0.485" stop-color="#7e7e7e"/><stop offset="0.515" stop-color="#808080"/><stop offset="0.545" stop-color="#808080"/><stop offset="0.576" stop-color="#818181"/><stop offset="0.606" stop-color="#858585"/><stop offset="0.636" stop-color="#8b8b8b"/><stop offset="0.667" stop-color="#919191"/><stop offset="0.697" stop-color="#959595"/><stop offset="0.727" stop-color="#979797"/><stop offset="0.758" stop-color="#969696"/><stop offset="0.788" stop-color="#949494"/><stop offset="0.818" stop-color="#939393"/><stop offset="0.848" stop-color="#919191"/><stop offset="0.879" stop-color="#8e8e8e"/><stop offset="0.909" stop-color="#8b8b8b"/><stop offset="0.939" stop-color="#8a8a8a"/><stop offset="0.970" stop-color="#8b8b8b"/><stop offset="1.000" stop-color="#8b8b8b"/></linearGradient><linearGradient id="d29"><stop offset="0.000" stop-color="#8e8e8e"/><stop offset="0.030" stop-color="#8e8e8e"/><stop offset="0.061" stop-color="#8f8f8f"/><stop offset="0.091" stop-color="#909090"/><stop offset="0.121" stop-color="#8e8e8e"/><stop offset="0.152" stop-color="#8b8b8b"/><stop offset="0.182" stop-color="#868686"/><stop offset="0.212" stop-color="#818181"/><stop offset="0.242" stop-color="#7c7c7c"/><stop offset="0.273" stop-color="#787878"/><stop offset="0.303" stop-color="#767676"/><stop offset="0.333" stop-color="#747474"/><stop offset="0.364" stop-color="#737373"/><stop offset="0.394" stop-color="#727272"/><stop offset="0.424" stop-color="#747474"/><stop offset="0.455" stop-color="#797979"/><stop offset="0.485" stop-color="#7d7d7d"/><stop offset="0.515" stop-color="#7f7f7f"/><stop offset="0.545" stop-color="#808080"/><stop offset="0.576" stop-color="#828282"/><stop offset="0.606" stop-color="#858585"/><stop offset="0.636" stop-color="#8c8c8c"/><stop offset="0.667" stop-color="#939393"/><stop offset="0.697" stop-color="#979797"/><stop offset="0.727" stop-color="#989898"/><stop offset="0.758" stop-color="#979797"/><stop offset="0.788" stop-color="#959595"/><stop offset="0.818" stop-color="#949494"/><stop offset="0.848" stop-color="#929292"/><stop offset="0.879" stop-color="#8f8f8f"/><stop offset="0.909" stop-color="#8c8c8c"/><stop offset="0.939" stop-color="#8b8b8b"/><stop offset="0.970" stop-color="#8c8c8c"/><stop offset="1.000" stop-color="#8c8c8c"/></linearGradient><linearGradient id="d30"><stop offset="0.000" stop-color="#8a8a8a"/><stop offset="0.030" stop-color="#8a8a8a"/><stop offset="0.061" stop-color="#8c8c8c"/><stop offset="0.091" stop-color="#8c8c8c"/><stop offset="0.121" stop-color="#8a8a8a"/><stop offset="0.152" stop-color="#868686"/><stop offset="0.182" stop-color="#828282"/><stop offset="0.212" stop-color="#7d7d7d"/><stop offset="0.242" stop-color="#797979"/><stop offset="0.273" stop-color="#767676"/><stop offset="0.303" stop-color="#737373"/><stop offset="0.333" stop-color="#727272"/><stop offset="0.364" stop-color="#717171"/><stop offset="0.394" stop-color="#707070"/><stop offset="0.424" stop-color="#727272"/><stop offset="0.455" stop-color="#767676"/><stop offset="0.485" stop-color="#7a7a7a"/><stop offset="0.515" stop-color="#7d7d7d"/><stop offset="0.545" stop-color="#7f7f7f"/><stop offset="0.576" stop-color="#808080"/><stop offset="0.606" stop-color="#858585"/><stop offset="0.636" stop-color="#8c8c8c"/><stop offset="0.667" stop-color="#939393"/><stop offset="0.697" stop-color="#969696"/><stop offset="0.727" stop-color="#979797"/><stop offset="0.758" stop-color="#969696"/><stop offset="0.788" stop-color="#959595"/><stop offset="0.818" stop-color="#949494"/><stop offset="0.848" stop-color="#929292"/><stop offset="0.879" stop-color="#8f8f8f"/><stop offset="0.909" stop-color="#8c8c8c"/><stop offset="0.939" stop-color="#8c8c8c"/><stop offset="0.970" stop-color="#8c8c8c"/><stop offset="1.000" stop-color="#8c8c8c"/></linearGradient><linearGradient id="d31"><stop offset="0.000" stop-color="#858585"/><stop offset="0.030" stop-color="#858585"/><stop offset="0.061" stop-color="#868686"/><stop offset="0.091" stop-color="#868686"/><stop offset="0.121" stop-color="#838383"/><stop offset="0.152" stop-color="#7f7f7f"/><stop offset="0.182" stop-color="#7b7b7b"/><stop offset="0.212" stop-color="#777777"/><stop offset="0.242" stop-color="#747474"/><stop offset="0.273" stop-color="#717171"/><stop offset="0.303" stop-color="#6f6f6f"/><stop offset="0.333" stop-color="#6e6e6e"/><stop offset="0.364" stop-color="#6d6d6d"/><stop offset="0.394" stop-color="#6d6d6d"/><stop offset="0.424" stop-color="#6f6f6f"/><stop offset="0.455" stop-color="#727272"/><stop offset="0.485" stop-color="#767676"/><stop offset="0.515" stop-color="#797979"/><stop offset="0.545" stop-color="#7b7b7b"/><stop offset="0.576" stop-color="#7d7d7d"/><stop offset="0.606" stop-color="#838383"/><stop offset="0.636" stop-color="#8b8b8b"/><stop offset="0.667" stop-color="#919191"/><stop offset="0.697" stop-color="#949494"/><stop offset="0.727" stop-color="#949494"/><stop offset="0.758" stop-color="#949494"/><stop offset="0.788" stop-color="#949494"/><stop offset="0.818" stop-color="#929292"/><stop offset="0.848" stop-color="#909090"/><stop offset="0.879" stop-color="#8e8e8e"/><stop offset="0.909" stop-color="#8b8b8b"/><stop offset="0.939" stop-color="#8b8b8b"/><stop offset="0.970" stop-color="#8c8c8c"/><stop offset="1.000" stop-color="#8c8c8c"/></linearGradient><linearGradient id="d32"><stop offset="0.000" stop-color="#858585"/><stop offset="0.030" stop-color="#858585"/><stop offset="0.061" stop-color="#868686"/><stop offset="0.091" stop-color="#868686"/><stop offset="0.121" stop-color="#838383"/><stop offset="0.152" stop-color="#7f7f7f"/><stop offset="0.182" stop-color="#7b7b7b"/><stop offset="0.212" stop-color="#777777"/><stop offset="0.242" stop-color="#747474"/><stop offset="0.273" stop-color="#717171"/><stop offset="0.303" stop-color="#6f6f6f"/><stop offset="0.333" stop-color="#6e6e6e"/><stop offset="0.364" stop-color="#6d6d6d"/><stop offset="0.394" stop-color="#6d6d6d"/><stop offset="0.424" stop-color="#6f6f6f"/><stop offset="0.455" stop-color="#727272"/><stop offset="0.485" stop-color="#767676"/><stop offset="0.515" stop-color="#797979"/><stop offset="0.545" stop-color="#7b7b7b"/><stop offset="0.576" stop-color="#7d7d7d"/><stop offset="0.606" stop-color="#838383"/><stop offset="0.636" stop-color="#8b8b8b"/><stop offset="0.667" stop-color="#919191"/><stop offset="0.697" stop-color="#949494"/><stop offset="0.727" stop-color="#949494"/><stop offset="0.758" stop-color="#949494"/><stop offset="0.788" stop-color="#949494"/><stop offset="0.818" stop-color="#929292"/><stop offset="0.848" stop-color="#909090"/><stop offset="0.879" stop-color="#8e8e8e"/><stop offset="0.909" stop-color="#8b8b8b"/><stop offset="0.939" stop-color="#8b8b8b"/><stop offset="0.970" stop-color="#8c8c8c"/><stop offset="1.000" stop-color="#8c8c8c"/></linearGradient><linearGradient id="d33"><stop offset="0.000" stop-color="#858585"/><stop offset="0.030" stop-color="#858585"/><stop offset="0.061" stop-color="#868686"/><stop offset="0.091" stop-color="#868686"/><stop offset="0.121" stop-color="#838383"/><stop offset="0.152" stop-color="#7f7f7f"/><stop offset="0.182" stop-color="#7b7b7b"/><stop offset="0.212" stop-color="#777777"/><stop offset="0.242" stop-color="#747474"/><stop offset="0.273" stop-color="#717171"/><stop offset="0.303" stop-color="#6f6f6f"/><stop offset="0.333" stop-color="#6e6e6e"/><stop offset="0.364" stop-color="#6d6d6d"/><stop offset="0.394" stop-color="#6d6d6d"/><stop offset="0.424" stop-color="#6f6f6f"/><stop offset="0.455" stop-color="#727272"/><stop offset="0.485" stop-color="#767676"/><stop offset="0.515" stop-color="#797979"/><stop offset="0.545" stop-color="#7b7b7b"/><stop offset="0.576" stop-color="#7d7d7d"/><stop offset="0.606" stop-color="#838383"/><stop offset="0.636" stop-color="#8b8b8b"/><stop offset="0.667" stop-color="#919191"/><stop offset="0.697" stop-color="#949494"/><stop offset="0.727" stop-color="#949494"/><stop offset="0.758" stop-color="#949494"/><stop offset="0.788" stop-color="#949494"/><stop offset="0.818" stop-color="#929292"/><stop offset="0.848" stop-color="#909090"/><stop offset="0.879" stop-color="#8e8e8e"/><stop offset="0.909" stop-color="#8b8b8b"/><stop offset="0.939" stop-color="#8b8b8b"/><stop offset="0.970" stop-color="#8c8c8c"/><stop offset="1.000" stop-color="#8c8c8c"/></linearGradient><linearGradient id="d34"><stop offset="0.000" stop-color="#858585"/><stop offset="0.030" stop-color="#858585"/><stop offset="0.061" stop-color="#868686"/><stop offset="0.091" stop-color="#868686"/><stop offset="0.121" stop-color="#838383"/><stop offset="0.152" stop-color="#7f7f7f"/><stop offset="0.182" stop-color="#7b7b7b"/><stop offset="0.212" stop-color="#777777"/><stop offset="0.242" stop-color="#747474"/><stop offset="0.273" stop-color="#717171"/><stop offset="0.303" stop-color="#6f6f6f"/><stop offset="0.333" stop-color="#6e6e6e"/><stop offset="0.364" stop-color="#6d6d6d"/><stop offset="0.394" stop-color="#6d6d6d"/><stop offset="0.424" stop-color="#6f6f6f"/><stop offset="0.455" stop-color="#727272"/><stop offset="0.485" stop-color="#767676"/><stop offset="0.515" stop-color="#797979"/><stop offset="0.545" stop-color="#7b7b7b"/><stop offset="0.576" stop-color="#7d7d7d"/><stop offset="0.606" stop-color="#838383"/><stop offset="0.636" stop-color="#8b8b8b"/><stop offset="0.667" stop-color="#919191"/><stop offset="0.697" stop-color="#949494"/><stop offset="0.727" stop-color="#949494"/><stop offset="0.758" stop-color="#949494"/><stop offset="0.788" stop-color="#949494"/><stop offset="0.818" stop-color="#929292"/><stop offset="0.848" stop-color="#909090"/><stop offset="0.879" stop-color="#8e8e8e"/><stop offset="0.909" stop-color="#8b8b8b"/><stop offset="0.939" stop-color="#8b8b8b"/><stop offset="0.970" stop-color="#8c8c8c"/><stop offset="1.000" stop-color="#8c8c8c"/></linearGradient><linearGradient id="d35"><stop offset="0.000" stop-color="#858585"/><stop offset="0.030" stop-color="#858585"/><stop offset="0.061" stop-color="#868686"/><stop offset="0.091" stop-color="#868686"/><stop offset="0.121" stop-color="#838383"/><stop offset="0.152" stop-color="#7f7f7f"/><stop offset="0.182" stop-color="#7b7b7b"/><stop offset="0.212" stop-color="#777777"/><stop offset="0.242" stop-color="#747474"/><stop offset="0.273" stop-color="#717171"/><stop offset="0.303" stop-color="#6f6f6f"/><stop offset="0.333" stop-color="#6e6e6e"/><stop offset="0.364" stop-color="#6d6d6d"/><stop offset="0.394" stop-color="#6d6d6d"/><stop offset="0.424" stop-color="#6f6f6f"/><stop offset="0.455" stop-color="#727272"/><stop offset="0.485" stop-color="#767676"/><stop offset="0.515" stop-color="#797979"/><stop offset="0.545" stop-color="#7b7b7b"/><stop offset="0.576" stop-color="#7d7d7d"/><stop offset="0.606" stop-color="#838383"/><stop offset="0.636" stop-color="#8b8b8b"/><stop offset="0.667" stop-color="#919191"/><stop offset="0.697" stop-color="#949494"/><stop offset="0.727" stop-color="#949494"/><stop offset="0.758" stop-color="#949494"/><stop offset="0.788" stop-color="#949494"/><stop offset="0.818" stop-color="#929292"/><stop offset="0.848" stop-color="#909090"/><stop offset="0.879" stop-color="#8e8e8e"/><stop offset="0.909" stop-color="#8b8b8b"/><stop offset="0.939" stop-color="#8b8b8b"/><stop offset="0.970" stop-color="#8c8c8c"/><stop offset="1.000" stop-color="#8c8c8c"/></linearGradient><linearGradient id="d36"><stop offset="0.000" stop-color="#858585"/><stop offset="0.030" stop-color="#858585"/><stop offset="0.061" stop-color="#868686"/><stop offset="0.091" stop-color="#868686"/><stop offset="0.121" stop-color="#838383"/><stop offset="0.152" stop-color="#7f7f7f"/><stop offset="0.182" stop-color="#7b7b7b"/><stop offset="0.212" stop-color="#777777"/><stop offset="0.242" stop-color="#747474"/><stop offset="0.273" stop-color="#717171"/><stop offset="0.303" stop-color="#6f6f6f"/><stop offset="0.333" stop-color="#6e6e6e"/><stop offset="0.364" stop-color="#6d6d6d"/><stop offset="0.394" stop-color="#6d6d6d"/><stop offset="0.424" stop-color="#6f6f6f"/><stop offset="0.455" stop-color="#727272"/><stop offset="0.485" stop-color="#767676"/><stop offset="0.515" stop-color="#797979"/><stop offset="0.545" stop-color="#7b7b7b"/><stop offset="0.576" stop-color="#7d7d7d"/><stop offset="0.606" stop-color="#838383"/><stop offset="0.636" stop-color="#8b8b8b"/><stop offset="0.667" stop-color="#919191"/><stop offset="0.697" stop-color="#949494"/><stop offset="0.727" stop-color="#949494"/><stop offset="0.758" stop-color="#949494"/><stop offset="0.788" stop-color="#949494"/><stop offset="0.818" stop-color="#929292"/><stop offset="0.848" stop-color="#909090"/><stop offset="0.879" stop-color="#8e8e8e"/><stop offset="0.909" stop-color="#8b8b8b"/><stop offset="0.939" stop-color="#8b8b8b"/><stop offset="0.970" stop-color="#8c8c8c"/><stop offset="1.000" stop-color="#8c8c8c"/></linearGradient></defs>
<svg x="42.65" y="11.90" width="297.35" height="96.30" overflow="hidden">
<use href="#fa" filter="url(#jet)"/>
</svg>
<rect x="349.5" y="11.70" width="10.7" height="96.90" fill="url(#cbar)" filter="url(#jet)"/>
<text x="0" y="0" text-anchor="end" font-size="10.30" transform="translate(39.80 16.30) scale(1.070 1)">0.1</text>
<text x="0" y="0" text-anchor="end" font-size="10.30" transform="translate(39.80 40.38) scale(1.070 1)">0.05</text>
<text x="0" y="0" text-anchor="end" font-size="10.30" transform="translate(39.80 64.45) scale(1.070 1)">0</text>
<text x="0" y="0" text-anchor="end" font-size="10.30" transform="translate(39.80 88.53) scale(1.070 1)">-0.05</text>
<text x="0" y="0" text-anchor="end" font-size="10.30" transform="translate(39.80 112.60) scale(1.070 1)">-0.1</text>
<text x="0" y="0" text-anchor="middle" font-size="10.30" transform="translate(41.15 123.10) scale(1.070 1)">-0.4</text>
<text x="0" y="0" text-anchor="middle" font-size="10.30" transform="translate(78.32 123.10) scale(1.070 1)">-0.3</text>
<text x="0" y="0" text-anchor="middle" font-size="10.30" transform="translate(115.49 123.10) scale(1.070 1)">-0.2</text>
<text x="0" y="0" text-anchor="middle" font-size="10.30" transform="translate(152.66 123.10) scale(1.070 1)">-0.1</text>
<text x="0" y="0" text-anchor="middle" font-size="10.30" transform="translate(191.33 123.10) scale(1.070 1)">0</text>
<text x="0" y="0" text-anchor="middle" font-size="10.30" transform="translate(228.49 123.10) scale(1.070 1)">0.1</text>
<text x="0" y="0" text-anchor="middle" font-size="10.30" transform="translate(265.66 123.10) scale(1.070 1)">0.2</text>
<text x="0" y="0" text-anchor="middle" font-size="10.30" transform="translate(302.83 123.10) scale(1.070 1)">0.3</text>
<text x="0" y="0" text-anchor="middle" font-size="10.30" transform="translate(340.00 123.10) scale(1.070 1)">0.4</text>
<text x="0" y="0" text-anchor="middle" font-size="10.30" transform="translate(191.30 135.60) scale(1.070 1)">X (mm)</text>
<text x="0" y="0" text-anchor="middle" font-size="10.30" transform="translate(8.20 59.40) rotate(-90) scale(1.070 1)">Y (mm)</text>
<text class="lab" x="2.2" y="14.80" font-size="16.5">(a)</text>
<text x="0" y="0" text-anchor="start" font-size="10.30" transform="translate(363.20 25.90) scale(1.070 1)">4</text>
<text x="0" y="0" text-anchor="start" font-size="10.30" transform="translate(363.20 45.45) scale(1.070 1)">2</text>
<text x="0" y="0" text-anchor="start" font-size="10.30" transform="translate(363.20 65.00) scale(1.070 1)">0</text>
<text x="0" y="0" text-anchor="start" font-size="10.30" transform="translate(363.20 84.55) scale(1.070 1)">-2</text>
<text x="0" y="0" text-anchor="start" font-size="10.30" transform="translate(363.20 104.10) scale(1.070 1)">-4</text>
<text x="0" y="0" font-size="10.30" transform="translate(355.00 8.00) scale(1.02 1)">Z (μm)</text>
<svg x="42.65" y="157.70" width="297.35" height="96.30" overflow="hidden">
<use href="#fa" filter="url(#jet)"/>
</svg>
<rect x="349.5" y="157.50" width="10.7" height="96.90" fill="url(#cbar)" filter="url(#jet)"/>
<text x="0" y="0" text-anchor="end" font-size="10.30" transform="translate(39.80 162.10) scale(1.070 1)">0.1</text>
<text x="0" y="0" text-anchor="end" font-size="10.30" transform="translate(39.80 186.17) scale(1.070 1)">0.05</text>
<text x="0" y="0" text-anchor="end" font-size="10.30" transform="translate(39.80 210.25) scale(1.070 1)">0</text>
<text x="0" y="0" text-anchor="end" font-size="10.30" transform="translate(39.80 234.32) scale(1.070 1)">-0.05</text>
<text x="0" y="0" text-anchor="end" font-size="10.30" transform="translate(39.80 258.40) scale(1.070 1)">-0.1</text>
<text x="0" y="0" text-anchor="middle" font-size="10.30" transform="translate(41.15 268.90) scale(1.070 1)">-0.4</text>
<text x="0" y="0" text-anchor="middle" font-size="10.30" transform="translate(78.32 268.90) scale(1.070 1)">-0.3</text>
<text x="0" y="0" text-anchor="middle" font-size="10.30" transform="translate(115.49 268.90) scale(1.070 1)">-0.2</text>
<text x="0" y="0" text-anchor="middle" font-size="10.30" transform="translate(152.66 268.90) scale(1.070 1)">-0.1</text>
<text x="0" y="0" text-anchor="middle" font-size="10.30" transform="translate(191.33 268.90) scale(1.070 1)">0</text>
<text x="0" y="0" text-anchor="middle" font-size="10.30" transform="translate(228.49 268.90) scale(1.070 1)">0.1</text>
<text x="0" y="0" text-anchor="middle" font-size="10.30" transform="translate(265.66 268.90) scale(1.070 1)">0.2</text>
<text x="0" y="0" text-anchor="middle" font-size="10.30" transform="translate(302.83 268.90) scale(1.070 1)">0.3</text>
<text x="0" y="0" text-anchor="middle" font-size="10.30" transform="translate(340.00 268.90) scale(1.070 1)">0.4</text>
<text x="0" y="0" text-anchor="middle" font-size="10.30" transform="translate(191.30 281.40) scale(1.070 1)">X (mm)</text>
<text x="0" y="0" text-anchor="middle" font-size="10.30" transform="translate(8.20 205.20) rotate(-90) scale(1.070 1)">Y (mm)</text>
<text class="lab" x="2.2" y="157.00" font-size="16.5">(b)</text>
<text x="0" y="0" text-anchor="start" font-size="10.30" transform="translate(363.20 171.70) scale(1.070 1)">4</text>
<text x="0" y="0" text-anchor="start" font-size="10.30" transform="translate(363.20 191.25) scale(1.070 1)">2</text>
<text x="0" y="0" text-anchor="start" font-size="10.30" transform="translate(363.20 210.80) scale(1.070 1)">0</text>
<text x="0" y="0" text-anchor="start" font-size="10.30" transform="translate(363.20 230.35) scale(1.070 1)">-2</text>
<text x="0" y="0" text-anchor="start" font-size="10.30" transform="translate(363.20 249.90) scale(1.070 1)">-4</text>
<text x="0" y="0" font-size="10.30" transform="translate(355.00 155.50) scale(1.02 1)">Z (μm)</text>
<svg x="42.65" y="306.70" width="297.35" height="96.30" overflow="hidden">
<g filter="url(#nc)"><g filter="url(#vb)"><rect x="-4.0" y="-6.00" width="305.4" height="3.05" fill="url(#c0)"/><rect x="-4.0" y="-3.00" width="305.4" height="3.05" fill="url(#c1)"/><rect x="-4.0" y="0.00" width="305.4" height="3.05" fill="url(#c2)"/><rect x="-4.0" y="3.00" width="305.4" height="3.05" fill="url(#c3)"/><rect x="-4.0" y="6.00" width="305.4" height="3.05" fill="url(#c4)"/><rect x="-4.0" y="9.00" width="305.4" height="3.05" fill="url(#c5)"/><rect x="-4.0" y="12.00" width="305.4" height="3.05" fill="url(#c6)"/><rect x="-4.0" y="15.00" width="305.4" height="3.05" fill="url(#c7)"/><rect x="-4.0" y="18.00" width="305.4" height="3.05" fill="url(#c8)"/><rect x="-4.0" y="21.00" width="305.4" height="3.05" fill="url(#c9)"/><rect x="-4.0" y="24.00" width="305.4" height="3.05" fill="url(#c10)"/><rect x="-4.0" y="27.00" width="305.4" height="3.05" fill="url(#c11)"/><rect x="-4.0" y="30.00" width="305.4" height="3.05" fill="url(#c12)"/><rect x="-4.0" y="33.00" width="305.4" height="3.05" fill="url(#c13)"/><rect x="-4.0" y="36.00" width="305.4" height="3.05" fill="url(#c14)"/><rect x="-4.0" y="39.00" width="305.4" height="3.05" fill="url(#c15)"/><rect x="-4.0" y="42.00" width="305.4" height="3.05" fill="url(#c16)"/><rect x="-4.0" y="45.00" width="305.4" height="3.05" fill="url(#c17)"/><rect x="-4.0" y="48.00" width="305.4" height="3.05" fill="url(#c18)"/><rect x="-4.0" y="51.00" width="305.4" height="3.05" fill="url(#c19)"/><rect x="-4.0" y="54.00" width="305.4" height="3.05" fill="url(#c20)"/><rect x="-4.0" y="57.00" width="305.4" height="3.05" fill="url(#c21)"/><rect x="-4.0" y="60.00" width="305.4" height="3.05" fill="url(#c22)"/><rect x="-4.0" y="63.00" width="305.4" height="3.05" fill="url(#c23)"/><rect x="-4.0" y="66.00" width="305.4" height="3.05" fill="url(#c24)"/><rect x="-4.0" y="69.00" width="305.4" height="3.05" fill="url(#c25)"/><rect x="-4.0" y="72.00" width="305.4" height="3.05" fill="url(#c26)"/><rect x="-4.0" y="75.00" width="305.4" height="3.05" fill="url(#c27)"/><rect x="-4.0" y="78.00" width="305.4" height="3.05" fill="url(#c28)"/><rect x="-4.0" y="81.00" width="305.4" height="3.05" fill="url(#c29)"/><rect x="-4.0" y="84.00" width="305.4" height="3.05" fill="url(#c30)"/><rect x="-4.0" y="87.00" width="305.4" height="3.05" fill="url(#c31)"/><rect x="-4.0" y="90.00" width="305.4" height="3.05" fill="url(#c32)"/><rect x="-4.0" y="93.00" width="305.4" height="3.05" fill="url(#c33)"/><rect x="-4.0" y="96.00" width="305.4" height="3.05" fill="url(#c34)"/><rect x="-4.0" y="99.00" width="305.4" height="3.05" fill="url(#c35)"/><rect x="-4.0" y="102.00" width="305.4" height="3.05" fill="url(#c36)"/></g><g filter="url(#bb)"></g><g filter="url(#bb4)"><rect x="98.3" y="-6.0" width="95.0" height="30.0" fill="#c2c2c2" opacity="0.50"/><rect x="110.3" y="24.0" width="83.0" height="14.0" fill="#bdbdbd" opacity="0.45"/><rect x="193.3" y="-6.0" width="32.0" height="36.0" fill="#b2b2b2" opacity="0.35"/><rect x="105.3" y="-6.0" width="55.0" height="22.0" fill="#c7c7c7" opacity="0.40"/></g><g filter="url(#bb)"><ellipse cx="280.4" cy="64.5" rx="3.0" ry="7.0" fill="#616161"/><ellipse cx="-0.6" cy="70.0" rx="3.0" ry="14.0" fill="#8c8c8c"/><ellipse cx="5.4" cy="85.0" rx="7.0" ry="9.0" fill="#999999"/><ellipse cx="-0.1" cy="90.0" rx="4.5" ry="8.0" fill="#b8b8b8"/><ellipse cx="2.4" cy="96.0" rx="6.0" ry="3.0" fill="#bdbdbd"/><ellipse cx="19.4" cy="8.0" rx="12.0" ry="6.0" fill="#4c4c4c"/></g><g filter="url(#sb)"><ellipse cx="18.8" cy="27.3" rx="2.0" ry="3.4" fill="#262626"/><ellipse cx="60.3" cy="89.8" rx="2.0" ry="3.4" fill="#1f1f1f"/><ellipse cx="38.9" cy="78.0" rx="1.6" ry="2.5" fill="#383838"/><ellipse cx="14.9" cy="50.8" rx="1.3" ry="2.3" fill="#424242"/><ellipse cx="17.4" cy="59.5" rx="1.3" ry="2.3" fill="#424242"/><ellipse cx="41.4" cy="29.8" rx="1.3" ry="2.3" fill="#424242"/><ellipse cx="28.4" cy="48.5" rx="1.2" ry="2.1" fill="#4a4a4a"/><ellipse cx="51.4" cy="56.5" rx="1.2" ry="2.1" fill="#4a4a4a"/><ellipse cx="88.3" cy="78.0" rx="1.2" ry="2.1" fill="#4a4a4a"/><ellipse cx="280.0" cy="61.6" rx="2.0" ry="3.2" fill="#212121"/><ellipse cx="281.4" cy="68.1" rx="1.8" ry="3.0" fill="#292929"/><ellipse cx="240.3" cy="59.3" rx="1.6" ry="2.6" fill="#474747"/><ellipse cx="1.0" cy="3.5" rx="1.7" ry="2.8" fill="#1f1f1f"/></g></g>
</svg>
<rect x="349.5" y="306.50" width="10.7" height="96.90" fill="url(#cbar)" filter="url(#jet)"/>
<text x="0" y="0" text-anchor="end" font-size="10.30" transform="translate(39.80 311.10) scale(1.070 1)">0.1</text>
<text x="0" y="0" text-anchor="end" font-size="10.30" transform="translate(39.80 335.17) scale(1.070 1)">0.05</text>
<text x="0" y="0" text-anchor="end" font-size="10.30" transform="translate(39.80 359.25) scale(1.070 1)">0</text>
<text x="0" y="0" text-anchor="end" font-size="10.30" transform="translate(39.80 383.32) scale(1.070 1)">-0.05</text>
<text x="0" y="0" text-anchor="end" font-size="10.30" transform="translate(39.80 407.40) scale(1.070 1)">-0.1</text>
<text x="0" y="0" text-anchor="middle" font-size="10.30" transform="translate(41.15 417.90) scale(1.070 1)">-0.4</text>
<text x="0" y="0" text-anchor="middle" font-size="10.30" transform="translate(78.32 417.90) scale(1.070 1)">-0.3</text>
<text x="0" y="0" text-anchor="middle" font-size="10.30" transform="translate(115.49 417.90) scale(1.070 1)">-0.2</text>
<text x="0" y="0" text-anchor="middle" font-size="10.30" transform="translate(152.66 417.90) scale(1.070 1)">-0.1</text>
<text x="0" y="0" text-anchor="middle" font-size="10.30" transform="translate(191.33 417.90) scale(1.070 1)">0</text>
<text x="0" y="0" text-anchor="middle" font-size="10.30" transform="translate(228.49 417.90) scale(1.070 1)">0.1</text>
<text x="0" y="0" text-anchor="middle" font-size="10.30" transform="translate(265.66 417.90) scale(1.070 1)">0.2</text>
<text x="0" y="0" text-anchor="middle" font-size="10.30" transform="translate(302.83 417.90) scale(1.070 1)">0.3</text>
<text x="0" y="0" text-anchor="middle" font-size="10.30" transform="translate(340.00 417.90) scale(1.070 1)">0.4</text>
<text x="0" y="0" text-anchor="middle" font-size="10.30" transform="translate(191.30 430.40) scale(1.070 1)">X (mm)</text>
<text x="0" y="0" text-anchor="middle" font-size="10.30" transform="translate(8.20 354.20) rotate(-90) scale(1.070 1)">Y (mm)</text>
<text class="lab" x="2.2" y="307.00" font-size="16.5">(c)</text>
<text x="0" y="0" text-anchor="start" font-size="10.30" transform="translate(363.20 314.60) scale(1.070 1)">0.2</text>
<text x="0" y="0" text-anchor="start" font-size="10.30" transform="translate(363.20 336.35) scale(1.070 1)">0.1</text>
<text x="0" y="0" text-anchor="start" font-size="10.30" transform="translate(363.20 358.10) scale(1.070 1)">0</text>
<text x="0" y="0" text-anchor="start" font-size="10.30" transform="translate(363.20 379.85) scale(1.070 1)">-0.1</text>
<text x="0" y="0" text-anchor="start" font-size="10.30" transform="translate(363.20 401.60) scale(1.070 1)">-0.2</text>
<text x="0" y="0" font-size="10.30" transform="translate(353.90 302.00) scale(1.02 1)">Z (μm)</text>
<svg x="42.65" y="450.70" width="297.35" height="96.30" overflow="hidden">
<g filter="url(#nd)"><g filter="url(#vb)"><rect x="-4.0" y="-6.00" width="305.4" height="3.05" fill="url(#d0)"/><rect x="-4.0" y="-3.00" width="305.4" height="3.05" fill="url(#d1)"/><rect x="-4.0" y="0.00" width="305.4" height="3.05" fill="url(#d2)"/><rect x="-4.0" y="3.00" width="305.4" height="3.05" fill="url(#d3)"/><rect x="-4.0" y="6.00" width="305.4" height="3.05" fill="url(#d4)"/><rect x="-4.0" y="9.00" width="305.4" height="3.05" fill="url(#d5)"/><rect x="-4.0" y="12.00" width="305.4" height="3.05" fill="url(#d6)"/><rect x="-4.0" y="15.00" width="305.4" height="3.05" fill="url(#d7)"/><rect x="-4.0" y="18.00" width="305.4" height="3.05" fill="url(#d8)"/><rect x="-4.0" y="21.00" width="305.4" height="3.05" fill="url(#d9)"/><rect x="-4.0" y="24.00" width="305.4" height="3.05" fill="url(#d10)"/><rect x="-4.0" y="27.00" width="305.4" height="3.05" fill="url(#d11)"/><rect x="-4.0" y="30.00" width="305.4" height="3.05" fill="url(#d12)"/><rect x="-4.0" y="33.00" width="305.4" height="3.05" fill="url(#d13)"/><rect x="-4.0" y="36.00" width="305.4" height="3.05" fill="url(#d14)"/><rect x="-4.0" y="39.00" width="305.4" height="3.05" fill="url(#d15)"/><rect x="-4.0" y="42.00" width="305.4" height="3.05" fill="url(#d16)"/><rect x="-4.0" y="45.00" width="305.4" height="3.05" fill="url(#d17)"/><rect x="-4.0" y="48.00" width="305.4" height="3.05" fill="url(#d18)"/><rect x="-4.0" y="51.00" width="305.4" height="3.05" fill="url(#d19)"/><rect x="-4.0" y="54.00" width="305.4" height="3.05" fill="url(#d20)"/><rect x="-4.0" y="57.00" width="305.4" height="3.05" fill="url(#d21)"/><rect x="-4.0" y="60.00" width="305.4" height="3.05" fill="url(#d22)"/><rect x="-4.0" y="63.00" width="305.4" height="3.05" fill="url(#d23)"/><rect x="-4.0" y="66.00" width="305.4" height="3.05" fill="url(#d24)"/><rect x="-4.0" y="69.00" width="305.4" height="3.05" fill="url(#d25)"/><rect x="-4.0" y="72.00" width="305.4" height="3.05" fill="url(#d26)"/><rect x="-4.0" y="75.00" width="305.4" height="3.05" fill="url(#d27)"/><rect x="-4.0" y="78.00" width="305.4" height="3.05" fill="url(#d28)"/><rect x="-4.0" y="81.00" width="305.4" height="3.05" fill="url(#d29)"/><rect x="-4.0" y="84.00" width="305.4" height="3.05" fill="url(#d30)"/><rect x="-4.0" y="87.00" width="305.4" height="3.05" fill="url(#d31)"/><rect x="-4.0" y="90.00" width="305.4" height="3.05" fill="url(#d32)"/><rect x="-4.0" y="93.00" width="305.4" height="3.05" fill="url(#d33)"/><rect x="-4.0" y="96.00" width="305.4" height="3.05" fill="url(#d34)"/><rect x="-4.0" y="99.00" width="305.4" height="3.05" fill="url(#d35)"/><rect x="-4.0" y="102.00" width="305.4" height="3.05" fill="url(#d36)"/></g><g filter="url(#bb)"><ellipse cx="267.6" cy="29.0" rx="2.2" ry="2.8" fill="#bdbdbd"/><ellipse cx="280.8" cy="65.2" rx="3.5" ry="7.5" fill="#525252"/><ellipse cx="261.4" cy="15.5" rx="4.0" ry="4.0" fill="#9e9e9e"/></g><g filter="url(#sb)"><ellipse cx="18.1" cy="27.0" rx="1.8" ry="3.1" fill="#2b2b2b"/><ellipse cx="60.3" cy="89.7" rx="2.0" ry="3.4" fill="#1f1f1f"/><ellipse cx="40.1" cy="31.0" rx="1.4" ry="2.4" fill="#4c4c4c"/><ellipse cx="74.3" cy="60.3" rx="1.4" ry="2.4" fill="#474747"/><ellipse cx="45.9" cy="31.5" rx="1.6" ry="2.5" fill="#adadad"/><ellipse cx="3.4" cy="39.3" rx="1.4" ry="2.4" fill="#a8a8a8"/><ellipse cx="16.4" cy="75.3" rx="1.6" ry="2.5" fill="#b2b2b2"/><ellipse cx="135.8" cy="32.0" rx="1.8" ry="2.9" fill="#d1d1d1"/><ellipse cx="138.3" cy="34.0" rx="1.7" ry="2.8" fill="#292929"/><ellipse cx="104.2" cy="62.6" rx="1.6" ry="2.5" fill="#c2c2c2"/><ellipse cx="107.8" cy="63.0" rx="1.7" ry="2.8" fill="#2b2b2b"/><ellipse cx="155.8" cy="5.5" rx="1.6" ry="2.5" fill="#333333"/><ellipse cx="100.5" cy="11.8" rx="1.6" ry="2.5" fill="#383838"/><ellipse cx="109.0" cy="80.0" rx="1.4" ry="2.4" fill="#383838"/><ellipse cx="178.3" cy="60.8" rx="1.6" ry="2.5" fill="#474747"/><ellipse cx="115.3" cy="32.3" rx="1.3" ry="2.3" fill="#adadad"/><ellipse cx="99.3" cy="46.8" rx="1.3" ry="2.3" fill="#474747"/><ellipse cx="105.9" cy="29.3" rx="1.3" ry="2.3" fill="#4c4c4c"/><ellipse cx="267.6" cy="29.0" rx="1.6" ry="2.1" fill="#c2c2c2"/><ellipse cx="273.7" cy="58.8" rx="1.9" ry="4.4" fill="#d6d6d6"/><ellipse cx="280.6" cy="63.0" rx="1.9" ry="3.0" fill="#1f1f1f"/><ellipse cx="281.2" cy="68.0" rx="1.8" ry="2.8" fill="#262626"/><ellipse cx="290.1" cy="64.9" rx="1.3" ry="1.8" fill="#474747"/><ellipse cx="240.3" cy="58.5" rx="1.4" ry="2.4" fill="#545454"/><ellipse cx="0.1" cy="6.3" rx="1.6" ry="2.5" fill="#2b2b2b"/></g></g>
</svg>
<rect x="349.5" y="450.50" width="10.7" height="96.90" fill="url(#cbar)" filter="url(#jet)"/>
<text x="0" y="0" text-anchor="end" font-size="10.30" transform="translate(39.80 455.10) scale(1.070 1)">0.1</text>
<text x="0" y="0" text-anchor="end" font-size="10.30" transform="translate(39.80 479.17) scale(1.070 1)">0.05</text>
<text x="0" y="0" text-anchor="end" font-size="10.30" transform="translate(39.80 503.25) scale(1.070 1)">0</text>
<text x="0" y="0" text-anchor="end" font-size="10.30" transform="translate(39.80 527.32) scale(1.070 1)">-0.05</text>
<text x="0" y="0" text-anchor="end" font-size="10.30" transform="translate(39.80 551.40) scale(1.070 1)">-0.1</text>
<text x="0" y="0" text-anchor="middle" font-size="10.30" transform="translate(41.15 561.90) scale(1.070 1)">-0.4</text>
<text x="0" y="0" text-anchor="middle" font-size="10.30" transform="translate(78.32 561.90) scale(1.070 1)">-0.3</text>
<text x="0" y="0" text-anchor="middle" font-size="10.30" transform="translate(115.49 561.90) scale(1.070 1)">-0.2</text>
<text x="0" y="0" text-anchor="middle" font-size="10.30" transform="translate(152.66 561.90) scale(1.070 1)">-0.1</text>
<text x="0" y="0" text-anchor="middle" font-size="10.30" transform="translate(191.33 561.90) scale(1.070 1)">0</text>
<text x="0" y="0" text-anchor="middle" font-size="10.30" transform="translate(228.49 561.90) scale(1.070 1)">0.1</text>
<text x="0" y="0" text-anchor="middle" font-size="10.30" transform="translate(265.66 561.90) scale(1.070 1)">0.2</text>
<text x="0" y="0" text-anchor="middle" font-size="10.30" transform="translate(302.83 561.90) scale(1.070 1)">0.3</text>
<text x="0" y="0" text-anchor="middle" font-size="10.30" transform="translate(340.00 561.90) scale(1.070 1)">0.4</text>
<text x="0" y="0" text-anchor="middle" font-size="10.30" transform="translate(191.30 574.40) scale(1.070 1)">X (mm)</text>
<text x="0" y="0" text-anchor="middle" font-size="10.30" transform="translate(8.20 498.20) rotate(-90) scale(1.070 1)">Y (mm)</text>
<text class="lab" x="2.2" y="449.00" font-size="16.5">(d)</text>
<text x="0" y="0" text-anchor="start" font-size="10.30" transform="translate(363.20 458.60) scale(1.070 1)">0.2</text>
<text x="0" y="0" text-anchor="start" font-size="10.30" transform="translate(363.20 480.35) scale(1.070 1)">0.1</text>
<text x="0" y="0" text-anchor="start" font-size="10.30" transform="translate(363.20 502.10) scale(1.070 1)">0</text>
<text x="0" y="0" text-anchor="start" font-size="10.30" transform="translate(363.20 523.85) scale(1.070 1)">-0.1</text>
<text x="0" y="0" text-anchor="start" font-size="10.30" transform="translate(363.20 545.60) scale(1.070 1)">-0.2</text>
<text x="0" y="0" font-size="10.30" transform="translate(355.50 446.40) scale(1.02 1)">Z (μm)</text>
</svg></body></html>
